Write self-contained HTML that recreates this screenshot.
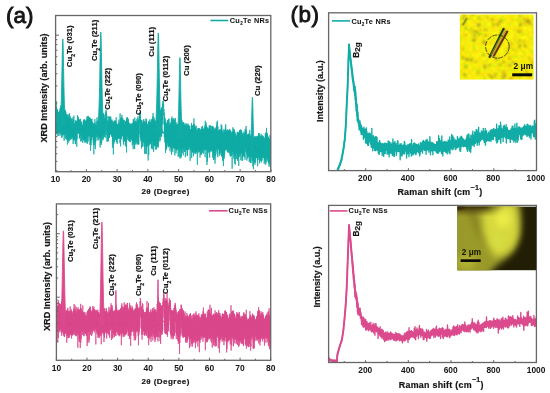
<!DOCTYPE html>
<html><head><meta charset="utf-8"><style>
html,body{margin:0;padding:0;background:#fff;}
svg{display:block;}
</style></head><body>
<svg width="550" height="393" viewBox="0 0 550 393" font-family="'Liberation Sans', Arial, sans-serif">
<defs>
<clipPath id="cTL"><rect x="55.6" y="15.5" width="215.3" height="155.9"/></clipPath>
<clipPath id="cBL"><rect x="56.4" y="203.9" width="214.3" height="156.4"/></clipPath>
<clipPath id="cTR"><rect x="328.6" y="12.8" width="207.9" height="157.5"/></clipPath>
<clipPath id="cBR"><rect x="328.6" y="205.4" width="207.8" height="157"/></clipPath>
</defs>
<rect width="550" height="393" fill="#fff"/>
<text x="6" y="23" font-size="22.5" font-weight="normal" text-anchor="start" fill="#161616" stroke="#161616" stroke-width="0.9">(a)</text>
<text x="290.4" y="21.9" font-size="22.5" font-weight="normal" text-anchor="start" fill="#161616" stroke="#161616" stroke-width="0.9" letter-spacing="0.6">(b)</text>
<polyline points="55.6,108.31 55.75,134.41 55.9,107.47 56.05,128.86 56.2,100.96 56.35,128.26 56.5,107.01 56.65,134.05 56.8,109.91 56.95,132.83 57.1,108.92 57.25,131.73 57.4,109.34 57.55,131.56 57.7,111.7 57.85,135.43 58,111.66 58.15,135.97 58.3,111.92 58.45,131.66 58.6,113.91 58.75,131.39 58.9,113.46 59.05,131.51 59.2,113.81 59.35,130.92 59.5,110.47 59.65,133.35 59.8,114.12 59.95,135.85 60.1,107.94 60.25,129.46 60.4,112.1 60.55,134.42 60.7,105.56 60.85,130.28 61,107.11 61.15,133.59 61.3,109.23 61.45,131.54 61.6,107.95 61.75,138 61.9,111.4 62.05,133.84 62.2,112.99 62.35,136.55 62.5,113.07 62.65,134.56 62.8,110.57 62.95,135.02 63.1,113.89 63.25,133.08 63.4,110.57 63.55,133.72 63.7,112.25 63.85,135.13 64,111.85 64.15,140.86 64.3,110.8 64.45,134.27 64.6,110.41 64.75,133.77 64.9,109.52 65.05,134.08 65.2,110.97 65.35,138.48 65.5,110.94 65.65,136.35 65.8,111.85 65.95,138.7 66.1,113.93 66.25,132.9 66.4,114.93 66.55,133.19 66.7,114.54 66.85,140.19 67,114.77 67.15,138.51 67.3,117.06 67.45,144.58 67.6,117.34 67.75,136.14 67.9,114.63 68.05,139.78 68.2,117.15 68.35,138.29 68.5,117.14 68.65,142.56 68.8,116.57 68.95,136.36 69.1,114.09 69.25,140.96 69.4,113.27 69.55,138.07 69.7,117.62 69.85,136.77 70,115.76 70.15,139.82 70.3,120.72 70.45,137.61 70.6,117.79 70.75,139.65 70.9,121.98 71.05,136.49 71.2,120.27 71.35,135.2 71.5,118.58 71.65,138.63 71.8,123.93 71.95,139.11 72.1,118.71 72.25,137.36 72.4,123.27 72.55,136.42 72.7,121.06 72.85,137.04 73,117.39 73.15,144.06 73.3,119.57 73.45,139.48 73.6,122.14 73.75,140.24 73.9,115.65 74.05,138.41 74.2,123.15 74.35,140.26 74.5,123.6 74.65,138.71 74.8,125.11 74.95,137.92 75.1,123.57 75.25,143.57 75.4,120.26 75.55,144.22 75.7,122.38 75.85,140.4 76,122.88 76.15,135.61 76.3,120.63 76.45,139.16 76.6,122.11 76.75,146.83 76.9,121.1 77.05,139.2 77.2,120.89 77.35,133.61 77.5,115.16 77.65,131.84 77.8,120.78 77.95,133.06 78.1,119.42 78.25,131.57 78.4,116.75 78.55,133.08 78.7,119.63 78.85,133.91 79,119.18 79.15,133.82 79.3,119.71 79.45,138.6 79.6,120.16 79.75,137.13 79.9,120.92 80.05,134.84 80.2,120.97 80.35,134.85 80.5,118.79 80.65,141.4 80.8,123.68 80.95,135.65 81.1,124.58 81.25,133.87 81.4,121.63 81.55,141.3 81.7,123.21 81.85,132.61 82,124.92 82.15,139.26 82.3,125.99 82.45,134.57 82.6,124.96 82.75,142.91 82.9,124.91 83.05,137.46 83.2,121.25 83.35,140.44 83.5,119.62 83.65,139.43 83.8,123.47 83.95,138.72 84.1,121.45 84.25,138.97 84.4,119.27 84.55,140.62 84.7,120.9 84.85,142.48 85,119.91 85.15,142.61 85.3,121.67 85.45,139.84 85.6,122.13 85.75,141.22 85.9,120.81 86.05,141.29 86.2,121.93 86.35,138.66 86.5,119.54 86.65,136.46 86.8,119.47 86.95,142.78 87.1,115.94 87.25,144.01 87.4,117.34 87.55,133.36 87.7,118.5 87.85,136.91 88,118.57 88.15,141.62 88.3,115.92 88.45,136.34 88.6,117.62 88.75,132.57 88.9,117.09 89.05,134.06 89.2,118.73 89.35,136.47 89.5,117.7 89.65,135.15 89.8,119.13 89.95,144.97 90.1,117.85 90.25,139.15 90.4,118.64 90.55,150.81 90.7,119.05 90.85,141.22 91,119.74 91.15,145.08 91.3,120.74 91.45,133.34 91.6,119.56 91.75,140.12 91.9,118.73 92.05,134.25 92.2,121.86 92.35,137.03 92.5,122.07 92.65,137.31 92.8,122.61 92.95,136.78 93.1,124.57 93.25,142.77 93.4,124.99 93.55,144.79 93.7,123.32 93.85,154.3 94,124.77 94.15,141.43 94.3,123.96 94.45,145.25 94.6,123.03 94.75,139.23 94.9,119.14 95.05,140.72 95.2,124.62 95.35,149.08 95.5,124.65 95.65,142.49 95.8,125.76 95.95,136.35 96.1,122.07 96.25,135.55 96.4,126.03 96.55,136.4 96.7,125.39 96.85,137.55 97,117.39 97.15,140.51 97.3,120.63 97.45,131.83 97.6,121.95 97.75,134.92 97.9,122.92 98.05,133.46 98.2,121.76 98.35,137.18 98.5,121.13 98.65,140.25 98.8,121.33 98.95,134.4 99.1,122.23 99.25,137.95 99.4,122.08 99.55,138.35 99.7,121.6 99.85,135.67 100,120.49 100.15,147.5 100.3,117.19 100.45,138.29 100.6,116.54 100.75,144.7 100.9,115.06 101.05,144.88 101.2,117.95 101.35,135.76 101.5,115.2 101.65,142.91 101.8,119.74 101.95,134.92 102.1,117.58 102.25,137.86 102.4,119.64 102.55,138 102.7,120.03 102.85,140.29 103,117.33 103.15,139.15 103.3,113.19 103.45,134.92 103.6,113.85 103.75,134.26 103.9,117.63 104.05,136.89 104.2,114.66 104.35,134.56 104.5,118.96 104.65,136.67 104.8,119.88 104.95,134.34 105.1,119.66 105.25,137.85 105.4,116.9 105.55,129.84 105.7,112.38 105.85,120.37 106,110 106.15,114.82 106.3,111.28 106.45,122.56 106.6,113.46 106.75,134.99 106.9,115.79 107.05,141.88 107.2,121.07 107.35,140.43 107.5,122.77 107.65,137.07 107.8,120.2 107.95,141.04 108.1,123.76 108.25,138.7 108.4,116.34 108.55,141.46 108.7,122.46 108.85,136.26 109,122.86 109.15,137.59 109.3,121.23 109.45,137.98 109.6,117.07 109.75,135.21 109.9,116.28 110.05,134.61 110.2,117.48 110.35,133.64 110.5,118.29 110.65,133.77 110.8,116.7 110.95,134.2 111.1,119.81 111.25,135.33 111.4,120.57 111.55,135.02 111.7,121.09 111.85,136.64 112,119.54 112.15,137.14 112.3,121.69 112.45,147.64 112.6,120.99 112.75,140.76 112.9,122.62 113.05,141.18 113.2,123.32 113.35,154.55 113.5,123.95 113.65,140.09 113.8,121.74 113.95,143.85 114.1,121.88 114.25,138.71 114.4,121 114.55,142.07 114.7,121.53 114.85,136.18 115,120.02 115.15,136.92 115.3,121.58 115.45,139.97 115.6,121.35 115.75,139.25 115.9,123.82 116.05,139.13 116.2,117.25 116.35,141.71 116.5,123.09 116.65,142.24 116.8,126.38 116.95,138.86 117.1,126.72 117.25,143.96 117.4,125.26 117.55,137.98 117.7,124.02 117.85,138.52 118,124.81 118.15,138.88 118.3,123.02 118.45,137.53 118.6,123.94 118.75,138.72 118.9,119.65 119.05,137.79 119.2,124.2 119.35,138.21 119.5,123.09 119.65,137.29 119.8,122.2 119.95,143.2 120.1,113.37 120.25,137.43 120.4,119.13 120.55,146.33 120.7,118.25 120.85,135.55 121,118.47 121.15,137.78 121.3,117.01 121.45,139.25 121.6,117.07 121.75,135.82 121.9,114.72 122.05,134 122.2,118.5 122.35,136.1 122.5,119.25 122.65,135.53 122.8,118.46 122.95,136.33 123.1,120.29 123.25,141.41 123.4,121.76 123.55,144.65 123.7,119.77 123.85,137.99 124,123.97 124.15,140.25 124.3,120.32 124.45,139.56 124.6,124.82 124.75,141.26 124.9,124.94 125.05,141.96 125.2,121.98 125.35,146.4 125.5,123.81 125.65,139.29 125.8,121.15 125.95,144.88 126.1,120.9 126.25,138.31 126.4,120.35 126.55,152.48 126.7,117.68 126.85,139.68 127,118.47 127.15,134.88 127.3,117.06 127.45,134.85 127.6,119.33 127.75,139.63 127.9,118.32 128.05,135.77 128.2,119.28 128.35,136.41 128.5,121.13 128.65,140.71 128.8,123.36 128.95,139.91 129.1,124.52 129.25,140.52 129.4,122.83 129.55,141.79 129.7,125.97 129.85,138.12 130,126.69 130.15,136.42 130.3,126.48 130.45,142.12 130.6,123.57 130.75,137.8 130.9,123.86 131.05,136.98 131.2,125.11 131.35,139.34 131.5,124.84 131.65,139.67 131.8,124.37 131.95,140.21 132.1,123.5 132.25,145.14 132.4,123.7 132.55,140.98 132.7,123.13 132.85,141.61 133,122.66 133.15,149.21 133.3,119.03 133.45,142.2 133.6,119.6 133.75,143.36 133.9,121.34 134.05,139.89 134.2,121.5 134.35,147.76 134.5,122.31 134.65,149.1 134.8,117.53 134.95,141.07 135.1,123.14 135.25,140.7 135.4,121.49 135.55,144.44 135.7,120.87 135.85,140.83 136,121.86 136.15,139.14 136.3,121.9 136.45,138.99 136.6,123.77 136.75,143.26 136.9,118.94 137.05,144.51 137.2,122.73 137.35,139.01 137.5,122.56 137.65,143.63 137.8,116.52 137.95,140.33 138.1,121.54 138.25,144.84 138.4,120.93 138.55,143.32 138.7,119.82 138.85,144.26 139,118.79 139.15,134.19 139.3,115.36 139.45,123.99 139.6,112.9 139.75,112 139.9,111.93 140.05,119.52 140.2,113.37 140.35,137.23 140.5,116.28 140.65,138.59 140.8,119.5 140.95,141.53 141.1,120.12 141.25,139.93 141.4,122.16 141.55,148.48 141.7,120.07 141.85,141.24 142,121.69 142.15,141.22 142.3,123.44 142.45,146.86 142.6,123.83 142.75,141.13 142.9,123.6 143.05,146.29 143.2,120.31 143.35,141.76 143.5,123.62 143.65,141.77 143.8,119.09 143.95,142.43 144.1,121.28 144.25,143.06 144.4,123.6 144.55,153.67 144.7,120.99 144.85,142.47 145,123.47 145.15,145.81 145.3,123.29 145.45,143.62 145.6,122.31 145.75,154.02 145.9,118.5 146.05,148.19 146.2,122.31 146.35,153.79 146.5,119.01 146.65,146.05 146.8,123.28 146.95,146.45 147.1,124.31 147.25,145.79 147.4,124.53 147.55,145.67 147.7,125.86 147.85,145.67 148,123.7 148.15,160.48 148.3,125.12 148.45,146.77 148.6,121.37 148.75,155.09 148.9,122.54 149.05,143.6 149.2,121.77 149.35,143.38 149.5,122.57 149.65,145.12 149.8,119.47 149.95,141.32 150.1,121.7 150.25,143.78 150.4,122.91 150.55,142.83 150.7,124.91 150.85,142 151,122.23 151.15,144.2 151.3,119.32 151.45,147.96 151.6,122.03 151.75,148.72 151.9,120.22 152.05,140.55 152.2,118.85 152.35,149.33 152.5,119.31 152.65,139.57 152.8,116.3 152.95,139.41 153.1,112.99 153.25,143.07 153.4,119.45 153.55,151.98 153.7,118.69 153.85,146.19 154,117.43 154.15,143.7 154.3,120.07 154.45,145.49 154.6,119.55 154.75,145.99 154.9,120.45 155.05,140.89 155.2,121.17 155.35,149.59 155.5,122.26 155.65,146.17 155.8,123.47 155.95,142.49 156.1,124.44 156.25,141.01 156.4,126.23 156.55,149.38 156.7,126.63 156.85,144.46 157,128.81 157.15,143.89 157.3,127.37 157.45,147.3 157.6,122.2 157.75,141.74 157.9,122.9 158.05,143.23 158.2,120.79 158.35,147.43 158.5,118.94 158.65,139.87 158.8,118.12 158.95,136.77 159.1,115.82 159.25,136.97 159.4,115.34 159.55,133.24 159.7,116.36 159.85,141.68 160,115.38 160.15,140.05 160.3,116.28 160.45,131.38 160.6,109.57 160.75,130.31 160.9,113.63 161.05,135.89 161.2,113.68 161.35,136.69 161.5,107.28 161.65,136.39 161.8,110.03 161.95,131.09 162.1,108.39 162.25,124.52 162.4,108 162.55,119.9 162.7,103.69 162.85,110.22 163,100.75 163.15,107.7 163.3,101 163.45,107.97 163.6,104.19 163.75,115.37 163.9,108.94 164.05,124.43 164.2,112.84 164.35,137.56 164.5,116.39 164.65,136.99 164.8,119.68 164.95,142.56 165.1,118.06 165.25,141.44 165.4,121.13 165.55,152.89 165.7,122.99 165.85,149.83 166,125.18 166.15,149.53 166.3,123.32 166.45,148.42 166.6,124.31 166.75,147.44 166.9,123.14 167.05,145.71 167.2,121.42 167.35,142.22 167.5,120.14 167.65,142.72 167.8,121.93 167.95,143.31 168.1,121.48 168.25,147.27 168.4,119.25 168.55,143.97 168.7,123.29 168.85,146.97 169,118.55 169.15,146.25 169.3,125.23 169.45,145.46 169.6,125.14 169.75,145.64 169.9,125.11 170.05,151.44 170.2,122.21 170.35,146.09 170.5,125.1 170.65,147.92 170.8,123.32 170.95,144.48 171.1,124.61 171.25,148.62 171.4,118.19 171.55,154.87 171.7,118.89 171.85,145.25 172,116.56 172.15,150.05 172.3,122 172.45,142.76 172.6,119.13 172.75,152.11 172.9,123.8 173.05,145.85 173.2,121.53 173.35,147.23 173.5,118.39 173.65,147.9 173.8,120.17 173.95,148.66 174.1,122.21 174.25,147.64 174.4,120 174.55,146.57 174.7,121.78 174.85,155.47 175,118.65 175.15,148.13 175.3,118.12 175.45,148.56 175.6,122.36 175.75,148.62 175.9,125.62 176.05,153.26 176.2,122.55 176.35,150.46 176.5,126.82 176.65,149.76 176.8,124.62 176.95,149.99 177.1,123.91 177.25,149.12 177.4,125.32 177.55,149.07 177.7,124.91 177.85,148.7 178,123.9 178.15,156.62 178.3,126.76 178.45,147.23 178.6,128.64 178.75,147.61 178.9,127.5 179.05,156.57 179.2,124.36 179.35,151.05 179.5,126.54 179.65,145.96 179.8,125.28 179.95,158.49 180.1,117.62 180.25,150.35 180.4,122.98 180.55,144.84 180.7,119.84 180.85,158.08 181,121.13 181.15,148.78 181.3,120.03 181.45,156.6 181.6,119.04 181.75,147.47 181.9,120.59 182.05,148.78 182.2,122.29 182.35,152.88 182.5,122.82 182.65,146.96 182.8,126.96 182.95,147 183.1,126.19 183.25,155.24 183.4,122.76 183.55,148.75 183.7,121.99 183.85,150.38 184,124.01 184.15,148.85 184.3,124.74 184.45,151.98 184.6,125.07 184.75,148.89 184.9,125.64 185.05,145.02 185.2,123.36 185.35,157.14 185.5,125 185.65,147.33 185.8,125.89 185.95,150.75 186.1,125.79 186.25,149.04 186.4,123.48 186.55,149.53 186.7,125.99 186.85,148.69 187,125.7 187.15,155.46 187.3,126.23 187.45,156.04 187.6,124.44 187.75,149.96 187.9,123.65 188.05,149.91 188.2,124.72 188.35,147.47 188.5,125.02 188.65,149.94 188.8,125.67 188.95,146.43 189.1,125.88 189.25,145.75 189.4,125.84 189.55,147.1 189.7,128.94 189.85,148.67 190,130.4 190.15,160.82 190.3,130.14 190.45,149.56 190.6,129.43 190.75,149.09 190.9,129.1 191.05,150.63 191.2,125.57 191.35,150.29 191.5,122.92 191.65,158.08 191.8,126.59 191.95,149.2 192.1,125.81 192.25,152.5 192.4,128.66 192.55,152.26 192.7,125.12 192.85,151.85 193,128.15 193.15,149.5 193.3,128.15 193.45,156.27 193.6,123.84 193.75,154.54 193.9,118.39 194.05,149.73 194.2,124.75 194.35,150.01 194.5,124.6 194.65,151.28 194.8,125.34 194.95,153.32 195.1,126.41 195.25,152.38 195.4,127.58 195.55,153.86 195.7,129.24 195.85,149.97 196,130.36 196.15,152.11 196.3,125.83 196.45,151.72 196.6,130.87 196.75,150.24 196.9,130.72 197.05,153.75 197.2,131.34 197.35,164.75 197.5,130.19 197.65,150.89 197.8,129.65 197.95,148.55 198.1,127.98 198.25,149.86 198.4,128.19 198.55,152.59 198.7,128.38 198.85,150.15 199,128.05 199.15,148.97 199.3,128.54 199.45,151.53 199.6,129.42 199.75,151.53 199.9,128.74 200.05,157.43 200.2,130.2 200.35,151.19 200.5,132.42 200.65,154.58 200.8,132.65 200.95,152.98 201.1,129.3 201.25,152.07 201.4,128.68 201.55,154.65 201.7,126.59 201.85,148.75 202,129.69 202.15,148.13 202.3,129.03 202.45,153.07 202.6,125.87 202.75,149.78 202.9,129.24 203.05,151.34 203.2,129.77 203.35,148.22 203.5,128.67 203.65,153.8 203.8,129.22 203.95,148.25 204.1,128.94 204.25,148.89 204.4,128.94 204.55,150.65 204.7,127.51 204.85,148.1 205,125.25 205.15,157.21 205.3,120.76 205.45,149.76 205.6,124.83 205.75,147.3 205.9,125.16 206.05,149.49 206.2,122.58 206.35,149.77 206.5,126.38 206.65,149.7 206.8,127.23 206.95,165.01 207.1,127.05 207.25,161.81 207.4,128.02 207.55,158.66 207.7,129.85 207.85,153.47 208,129.04 208.15,152.68 208.3,129.82 208.45,148.17 208.6,129.08 208.75,151.87 208.9,128.11 209.05,148.44 209.2,125.72 209.35,150.92 209.5,125.41 209.65,157.59 209.8,128.81 209.95,149.63 210.1,127.22 210.25,151.89 210.4,125.33 210.55,149.55 210.7,126.6 210.85,149.65 211,129.89 211.15,151.3 211.3,130.15 211.45,150.68 211.6,130.01 211.75,149.13 211.9,126.37 212.05,151.41 212.2,125.76 212.35,148.72 212.5,127.16 212.65,157.71 212.8,126.78 212.95,147.2 213.1,126.5 213.25,152.63 213.4,127.85 213.55,159.96 213.7,128.87 213.85,155.31 214,129.32 214.15,153.51 214.3,130.97 214.45,154.47 214.6,131.7 214.75,159.47 214.9,128.73 215.05,163.64 215.2,127.6 215.35,150.01 215.5,130.87 215.65,156.2 215.8,129.14 215.95,149.17 216.1,128.48 216.25,151.24 216.4,127.01 216.55,149.2 216.7,125.37 216.85,147.58 217,122.35 217.15,154.09 217.3,120.71 217.45,147.67 217.6,130.2 217.75,157.25 217.9,126.4 218.05,147.99 218.2,132.41 218.35,149.61 218.5,130.57 218.65,148.44 218.8,133.46 218.95,149.43 219.1,130.77 219.25,155.81 219.4,129.17 219.55,153.64 219.7,132.15 219.85,152.21 220,131.71 220.15,154.77 220.3,130.58 220.45,152.14 220.6,129.83 220.75,152.82 220.9,129.24 221.05,152.4 221.2,124.29 221.35,149.88 221.5,128.62 221.65,156.22 221.8,125.61 221.95,156.95 222.1,130.7 222.25,155.17 222.4,131.89 222.55,160.87 222.7,133.72 222.85,159.99 223,134.5 223.15,156.14 223.3,129.44 223.45,166.1 223.6,133.54 223.75,153.21 223.9,133.97 224.05,154.33 224.2,132.53 224.35,158.59 224.5,131.78 224.65,154.47 224.8,129.49 224.95,149.46 225.1,130.19 225.25,148.35 225.4,127.16 225.55,149.43 225.7,124.23 225.85,150.85 226,129.86 226.15,149.86 226.3,131.28 226.45,149.01 226.6,131.89 226.75,148.04 226.9,131.83 227.05,148.54 227.2,129.42 227.35,151.9 227.5,130.46 227.65,152.45 227.8,129.86 227.95,150.46 228.1,131.93 228.25,151.95 228.4,130.51 228.55,150.04 228.7,130.61 228.85,152.74 229,130.91 229.15,152.98 229.3,130.32 229.45,150.4 229.6,129.04 229.75,150.18 229.9,129.18 230.05,155.42 230.2,131.2 230.35,156.49 230.5,131.17 230.65,154.68 230.8,133.51 230.95,156.15 231.1,131.25 231.25,156 231.4,133.92 231.55,152.72 231.7,132.96 231.85,155.3 232,133.96 232.15,168.77 232.3,132.07 232.45,151.55 232.6,132.22 232.75,150.5 232.9,127.26 233.05,151.86 233.2,130.66 233.35,154.55 233.5,131.01 233.65,154.51 233.8,128.83 233.95,159.26 234.1,129.52 234.25,157 234.4,130.62 234.55,155.24 234.7,131.83 234.85,163.48 235,132.19 235.15,164.63 235.3,134.2 235.45,157.48 235.6,137.36 235.75,153.9 235.9,138.32 236.05,152.83 236.2,138.18 236.35,152.8 236.5,135.41 236.65,159.13 236.8,136.24 236.95,152.9 237.1,133.05 237.25,151.67 237.4,131.75 237.55,160.98 237.7,135.5 237.85,155.47 238,132.91 238.15,158.49 238.3,132.9 238.45,157.98 238.6,133.24 238.75,166 238.9,132.04 239.05,156.48 239.2,131.51 239.35,152.27 239.5,130.05 239.65,154.25 239.8,131.3 239.95,156.83 240.1,130.47 240.25,154.31 240.4,130.13 240.55,149.5 240.7,129.35 240.85,160.28 241,130.1 241.15,152.81 241.3,132.39 241.45,153.09 241.6,130.37 241.75,151.11 241.9,135.9 242.05,160.64 242.2,133.83 242.35,153.99 242.5,135.59 242.65,160.66 242.8,132.64 242.95,156.8 243.1,134.47 243.25,155.98 243.4,135.74 243.55,153.77 243.7,134.5 243.85,155.82 244,131.38 244.15,152.33 244.3,133.03 244.45,157.19 244.6,133.12 244.75,149.78 244.9,133.07 245.05,159.68 245.2,128.68 245.35,148.96 245.5,132.65 245.65,148.64 245.8,130.33 245.95,148.65 246.1,125.99 246.25,151.63 246.4,130.58 246.55,153.71 246.7,133.64 246.85,160.59 247,134.02 247.15,150.76 247.3,136.33 247.45,155.66 247.6,134.95 247.75,158.21 247.9,137.72 248.05,157.28 248.2,134.99 248.35,153.9 248.5,133.66 248.65,156.34 248.8,135.39 248.95,155.31 249.1,133.81 249.25,162.02 249.4,135.02 249.55,156.77 249.7,129.93 249.85,154.23 250,134.29 250.15,161.33 250.3,136.8 250.45,162.95 250.6,136.27 250.75,157.17 250.9,136.68 251.05,163.06 251.2,139.47 251.35,156.08 251.5,138.79 251.65,155.92 251.8,134.61 251.95,157.91 252.1,136.13 252.25,160.81 252.4,137.2 252.55,159.67 252.7,138.84 252.85,166.43 253,140.77 253.15,159.11 253.3,140.73 253.45,169.14 253.6,137.22 253.75,162.91 253.9,141.19 254.05,158.86 254.2,140.49 254.35,162.28 254.5,138.32 254.65,158.35 254.8,136.24 254.95,164.74 255.1,137.73 255.25,156.56 255.4,136.87 255.55,162.57 255.7,136.49 255.85,155.76 256,137.88 256.15,157.51 256.3,135.92 256.45,157.96 256.6,138.47 256.75,157.78 256.9,138.91 257.05,158.17 257.2,137.59 257.35,160.44 257.5,135.83 257.65,166.25 257.8,136.65 257.95,159.81 258.1,136.91 258.25,157.08 258.4,136.64 258.55,157.45 258.7,133.19 258.85,155.7 259,133.01 259.15,159.49 259.3,136.25 259.45,163.35 259.6,133.88 259.75,157.05 259.9,136.48 260.05,156.77 260.2,137.31 260.35,160.71 260.5,136.73 260.65,160.66 260.8,136.46 260.95,157.69 261.1,133.83 261.25,162.5 261.4,136.29 261.55,157.53 261.7,135.35 261.85,161.16 262,137.15 262.15,159.46 262.3,137.38 262.45,156.43 262.6,135.35 262.75,155.46 262.9,136.87 263.05,156.49 263.2,138.48 263.35,157.77 263.5,136.25 263.65,157.6 263.8,139.83 263.95,158.15 264.1,139.03 264.25,163.95 264.4,138.17 264.55,159.61 264.7,138.73 264.85,161.69 265,137.47 265.15,157.27 265.3,133.33 265.45,155.66 265.6,135.05 265.75,164.81 265.9,133.44 266.05,162.61 266.2,131.98 266.35,158.16 266.5,127.88 266.65,159.81 266.8,135.44 266.95,154.66 267.1,133.2 267.25,155.1 267.4,133.39 267.55,159.12 267.7,136.27 267.85,161.47 268,139.86 268.15,158.88 268.3,137.56 268.45,162.5 268.6,136.79 268.75,161.56 268.9,138.92 269.05,166.86 269.2,139.36 269.35,164.56 269.5,139.5 269.65,161.81 269.8,138.86 269.95,163.23 270.1,134.78 270.25,161.92 270.4,136.51 270.55,169.51 270.7,136.92 270.85,165.24" fill="none" stroke="#12aca6" stroke-width="0.75" stroke-linejoin="round" clip-path="url(#cTL)" />
<polygon points="55.8,126.86 55.88,126.84 55.96,126.83 56.04,126.81 56.12,126.8 56.2,126.78 56.28,126.77 56.36,126.75 56.44,126.73 56.52,126.71 56.6,126.69 56.68,126.67 56.76,126.64 56.84,126.62 56.92,126.59 57,126.56 57.08,126.53 57.16,126.5 57.24,126.47 57.32,126.43 57.4,126.39 57.48,126.35 57.56,126.31 57.64,126.27 57.72,126.22 57.8,126.17 57.88,126.11 57.96,126.05 58.04,125.99 58.12,125.92 58.2,125.85 58.28,125.77 58.36,125.68 58.44,125.59 58.52,125.5 58.6,125.39 58.68,125.28 58.76,125.16 58.84,125.03 58.92,124.88 59,124.73 59.08,124.56 59.16,124.38 59.24,124.18 59.32,123.96 59.4,123.73 59.48,123.47 59.56,123.19 59.64,122.88 59.72,122.54 59.8,122.17 59.88,121.76 59.96,121.31 60.04,120.81 60.12,120.27 60.2,119.66 60.28,118.99 60.36,118.26 60.44,117.44 60.52,116.53 60.6,115.53 60.68,114.41 60.76,113.18 60.84,111.81 60.92,110.29 61,108.61 61.08,106.75 61.16,104.7 61.24,102.45 61.32,99.97 61.4,97.26 61.48,94.31 61.56,91.11 61.64,87.67 61.72,83.99 61.8,80.08 61.88,75.98 61.96,71.73 62.04,67.37 62.12,62.98 62.2,58.63 62.28,54.44 62.36,50.51 62.44,46.96 62.52,43.93 62.6,41.53 62.68,39.86 62.76,39.01 62.84,39.01 62.92,39.86 63,41.53 63.08,43.93 63.16,46.96 63.24,50.51 63.32,54.44 63.4,58.63 63.48,62.98 63.56,67.37 63.64,71.73 63.72,75.98 63.8,80.08 63.88,83.99 63.96,87.67 64.04,91.11 64.12,94.31 64.2,97.26 64.28,99.97 64.36,102.45 64.44,104.7 64.52,106.75 64.6,108.61 64.68,110.29 64.76,111.81 64.84,113.18 64.92,114.41 65,115.53 65.08,116.53 65.16,117.44 65.24,118.26 65.32,118.99 65.4,119.66 65.48,120.27 65.56,120.81 65.64,121.31 65.72,121.76 65.8,122.17 65.88,122.54 65.96,122.88 66.04,123.19 66.12,123.47 66.2,123.73 66.28,123.96 66.36,124.18 66.44,124.38 66.52,124.56 66.6,124.73 66.68,124.88 66.76,125.03 66.84,125.16 66.92,125.28 67,125.39 67.08,125.5 67.16,125.59 67.24,125.68 67.32,125.77 67.4,125.85 67.48,125.92 67.56,125.99 67.64,126.05 67.72,126.11 67.8,126.17 67.88,126.22 67.96,126.27 68.04,126.31 68.12,126.35 68.2,126.39 68.28,126.43 68.36,126.47 68.44,126.5 68.52,126.53 68.6,126.56 68.68,126.59 68.76,126.62 68.84,126.64 68.92,126.67 69,126.69 69.08,126.71 69.16,126.73 69.24,126.75 69.32,126.77 69.4,126.78 69.48,126.8 69.56,126.81 69.64,126.83 69.72,126.84 69.8,126.86" fill="#12aca6" stroke="#12aca6" stroke-width="0.9" stroke-linejoin="round" clip-path="url(#cTL)"/>
<polygon points="93.8,129.85 93.88,129.83 93.96,129.81 94.04,129.79 94.12,129.77 94.2,129.75 94.28,129.73 94.36,129.71 94.44,129.68 94.52,129.65 94.6,129.63 94.68,129.6 94.76,129.57 94.84,129.53 94.92,129.5 95,129.46 95.08,129.43 95.16,129.38 95.24,129.34 95.32,129.3 95.4,129.25 95.48,129.19 95.56,129.14 95.64,129.08 95.72,129.02 95.8,128.95 95.88,128.88 95.96,128.8 96.04,128.72 96.12,128.63 96.2,128.54 96.28,128.44 96.36,128.33 96.44,128.21 96.52,128.09 96.6,127.95 96.68,127.81 96.76,127.65 96.84,127.48 96.92,127.3 97,127.1 97.08,126.88 97.16,126.65 97.24,126.4 97.32,126.12 97.4,125.82 97.48,125.49 97.56,125.13 97.64,124.74 97.72,124.31 97.8,123.84 97.88,123.33 97.96,122.76 98.04,122.14 98.12,121.46 98.2,120.7 98.28,119.88 98.36,118.96 98.44,117.96 98.52,116.85 98.6,115.62 98.68,114.27 98.76,112.78 98.84,111.14 98.92,109.34 99,107.35 99.08,105.17 99.16,102.79 99.24,100.18 99.32,97.34 99.4,94.27 99.48,90.94 99.56,87.38 99.64,83.57 99.72,79.53 99.8,75.29 99.88,70.86 99.96,66.31 100.04,61.67 100.12,57.03 100.2,52.47 100.28,48.08 100.36,43.99 100.44,40.32 100.52,37.18 100.6,34.7 100.68,32.99 100.76,32.11 100.84,32.11 100.92,32.99 101,34.7 101.08,37.18 101.16,40.32 101.24,43.99 101.32,48.08 101.4,52.47 101.48,57.03 101.56,61.67 101.64,66.31 101.72,70.86 101.8,75.29 101.88,79.53 101.96,83.57 102.04,87.38 102.12,90.94 102.2,94.27 102.28,97.34 102.36,100.18 102.44,102.79 102.52,105.17 102.6,107.35 102.68,109.34 102.76,111.14 102.84,112.78 102.92,114.27 103,115.62 103.08,116.85 103.16,117.96 103.24,118.96 103.32,119.88 103.4,120.7 103.48,121.46 103.56,122.14 103.64,122.76 103.72,123.33 103.8,123.84 103.88,124.31 103.96,124.74 104.04,125.13 104.12,125.49 104.2,125.82 104.28,126.12 104.36,126.4 104.44,126.65 104.52,126.88 104.6,127.1 104.68,127.3 104.76,127.48 104.84,127.65 104.92,127.81 105,127.95 105.08,128.09 105.16,128.21 105.24,128.33 105.32,128.44 105.4,128.54 105.48,128.63 105.56,128.72 105.64,128.8 105.72,128.88 105.8,128.95 105.88,129.02 105.96,129.08 106.04,129.14 106.12,129.19 106.2,129.25 106.28,129.3 106.36,129.34 106.44,129.38 106.52,129.43 106.6,129.46 106.68,129.5 106.76,129.53 106.84,129.57 106.92,129.6 107,129.63 107.08,129.65 107.16,129.68 107.24,129.71 107.32,129.73 107.4,129.75 107.48,129.77 107.56,129.79 107.64,129.81 107.72,129.83 107.8,129.85" fill="#12aca6" stroke="#12aca6" stroke-width="0.9" stroke-linejoin="round" clip-path="url(#cTL)"/>
<polygon points="151.3,132.98 151.38,132.96 151.46,132.94 151.54,132.92 151.62,132.9 151.7,132.88 151.78,132.86 151.86,132.83 151.94,132.81 152.02,132.78 152.1,132.75 152.18,132.72 152.26,132.69 152.34,132.65 152.42,132.61 152.5,132.58 152.58,132.54 152.66,132.49 152.74,132.45 152.82,132.4 152.9,132.35 152.98,132.29 153.06,132.23 153.14,132.17 153.22,132.1 153.3,132.03 153.38,131.96 153.46,131.88 153.54,131.79 153.62,131.7 153.7,131.6 153.78,131.49 153.86,131.38 153.94,131.25 154.02,131.12 154.1,130.98 154.18,130.83 154.26,130.66 154.34,130.48 154.42,130.29 154.5,130.08 154.58,129.85 154.66,129.61 154.74,129.34 154.82,129.05 154.9,128.73 154.98,128.39 155.06,128.01 155.14,127.6 155.22,127.15 155.3,126.65 155.38,126.11 155.46,125.52 155.54,124.87 155.62,124.16 155.7,123.37 155.78,122.5 155.86,121.55 155.94,120.5 156.02,119.34 156.1,118.07 156.18,116.66 156.26,115.12 156.34,113.42 156.42,111.55 156.5,109.49 156.58,107.24 156.66,104.78 156.74,102.1 156.82,99.19 156.9,96.04 156.98,92.64 157.06,88.99 157.14,85.11 157.22,81 157.3,76.69 157.38,72.2 157.46,67.59 157.54,62.9 157.62,58.21 157.7,53.61 157.78,49.19 157.86,45.07 157.94,41.36 158.02,38.21 158.1,35.72 158.18,33.99 158.26,33.11 158.34,33.11 158.42,33.99 158.5,35.72 158.58,38.21 158.66,41.36 158.74,45.07 158.82,49.19 158.9,53.61 158.98,58.21 159.06,62.9 159.14,67.59 159.22,72.2 159.3,76.69 159.38,81 159.46,85.11 159.54,88.99 159.62,92.64 159.7,96.04 159.78,99.19 159.86,102.1 159.94,104.78 160.02,107.24 160.1,109.49 160.18,111.55 160.26,113.42 160.34,115.12 160.42,116.66 160.5,118.07 160.58,119.34 160.66,120.5 160.74,121.55 160.82,122.5 160.9,123.37 160.98,124.16 161.06,124.87 161.14,125.52 161.22,126.11 161.3,126.65 161.38,127.15 161.46,127.6 161.54,128.01 161.62,128.39 161.7,128.73 161.78,129.05 161.86,129.34 161.94,129.61 162.02,129.85 162.1,130.08 162.18,130.29 162.26,130.48 162.34,130.66 162.42,130.83 162.5,130.98 162.58,131.12 162.66,131.25 162.74,131.38 162.82,131.49 162.9,131.6 162.98,131.7 163.06,131.79 163.14,131.88 163.22,131.96 163.3,132.03 163.38,132.1 163.46,132.17 163.54,132.23 163.62,132.29 163.7,132.35 163.78,132.4 163.86,132.45 163.94,132.49 164.02,132.54 164.1,132.58 164.18,132.61 164.26,132.65 164.34,132.69 164.42,132.72 164.5,132.75 164.58,132.78 164.66,132.81 164.74,132.83 164.82,132.86 164.9,132.88 164.98,132.9 165.06,132.92 165.14,132.94 165.22,132.96 165.3,132.98" fill="#12aca6" stroke="#12aca6" stroke-width="0.9" stroke-linejoin="round" clip-path="url(#cTL)"/>
<polygon points="172.9,137.02 172.98,137.01 173.06,137 173.14,136.99 173.22,136.98 173.3,136.97 173.38,136.96 173.46,136.94 173.54,136.93 173.62,136.92 173.7,136.9 173.78,136.89 173.86,136.87 173.94,136.85 174.02,136.84 174.1,136.82 174.18,136.8 174.26,136.78 174.34,136.75 174.42,136.73 174.5,136.7 174.58,136.67 174.66,136.64 174.74,136.61 174.82,136.58 174.9,136.54 174.98,136.51 175.06,136.46 175.14,136.42 175.22,136.37 175.3,136.32 175.38,136.27 175.46,136.21 175.54,136.15 175.62,136.08 175.7,136.01 175.78,135.93 175.86,135.84 175.94,135.75 176.02,135.65 176.1,135.54 176.18,135.42 176.26,135.29 176.34,135.15 176.42,135 176.5,134.83 176.58,134.65 176.66,134.45 176.74,134.23 176.82,133.99 176.9,133.72 176.98,133.42 177.06,133.1 177.14,132.74 177.22,132.34 177.3,131.89 177.38,131.4 177.46,130.85 177.54,130.24 177.62,129.56 177.7,128.8 177.78,127.95 177.86,126.99 177.94,125.92 178.02,124.73 178.1,123.39 178.18,121.9 178.26,120.23 178.34,118.36 178.42,116.28 178.5,113.98 178.58,111.43 178.66,108.62 178.74,105.55 178.82,102.21 178.9,98.61 178.98,94.76 179.06,90.71 179.14,86.49 179.22,82.18 179.3,77.85 179.38,73.62 179.46,69.61 179.54,65.95 179.62,62.79 179.7,60.27 179.78,58.52 179.86,57.61 179.94,57.61 180.02,58.52 180.1,60.27 180.18,62.79 180.26,65.95 180.34,69.61 180.42,73.62 180.5,77.85 180.58,82.18 180.66,86.49 180.74,90.71 180.82,94.76 180.9,98.61 180.98,102.21 181.06,105.55 181.14,108.62 181.22,111.43 181.3,113.98 181.38,116.28 181.46,118.36 181.54,120.23 181.62,121.9 181.7,123.39 181.78,124.73 181.86,125.92 181.94,126.99 182.02,127.95 182.1,128.8 182.18,129.56 182.26,130.24 182.34,130.85 182.42,131.4 182.5,131.89 182.58,132.34 182.66,132.74 182.74,133.1 182.82,133.42 182.9,133.72 182.98,133.99 183.06,134.23 183.14,134.45 183.22,134.65 183.3,134.83 183.38,135 183.46,135.15 183.54,135.29 183.62,135.42 183.7,135.54 183.78,135.65 183.86,135.75 183.94,135.84 184.02,135.93 184.1,136.01 184.18,136.08 184.26,136.15 184.34,136.21 184.42,136.27 184.5,136.32 184.58,136.37 184.66,136.42 184.74,136.46 184.82,136.51 184.9,136.54 184.98,136.58 185.06,136.61 185.14,136.64 185.22,136.67 185.3,136.7 185.38,136.73 185.46,136.75 185.54,136.78 185.62,136.8 185.7,136.82 185.78,136.84 185.86,136.85 185.94,136.87 186.02,136.89 186.1,136.9 186.18,136.92 186.26,136.93 186.34,136.94 186.42,136.96 186.5,136.97 186.58,136.98 186.66,136.99 186.74,137 186.82,137.01 186.9,137.02" fill="#12aca6" stroke="#12aca6" stroke-width="0.9" stroke-linejoin="round" clip-path="url(#cTL)"/>
<polygon points="245.4,150.84 245.48,150.84 245.56,150.83 245.64,150.83 245.72,150.82 245.8,150.82 245.88,150.81 245.96,150.81 246.04,150.8 246.12,150.79 246.2,150.79 246.28,150.78 246.36,150.77 246.44,150.77 246.52,150.76 246.6,150.75 246.68,150.74 246.76,150.73 246.84,150.72 246.92,150.71 247,150.69 247.08,150.68 247.16,150.67 247.24,150.65 247.32,150.64 247.4,150.62 247.48,150.6 247.56,150.59 247.64,150.56 247.72,150.54 247.8,150.52 247.88,150.49 247.96,150.47 248.04,150.44 248.12,150.41 248.2,150.37 248.28,150.34 248.36,150.3 248.44,150.25 248.52,150.21 248.6,150.16 248.68,150.1 248.76,150.04 248.84,149.97 248.92,149.9 249,149.82 249.08,149.74 249.16,149.64 249.24,149.54 249.32,149.42 249.4,149.29 249.48,149.15 249.56,149 249.64,148.82 249.72,148.63 249.8,148.41 249.88,148.17 249.96,147.9 250.04,147.6 250.12,147.25 250.2,146.87 250.28,146.44 250.36,145.95 250.44,145.39 250.52,144.76 250.6,144.05 250.68,143.24 250.76,142.31 250.84,141.26 250.92,140.07 251,138.72 251.08,137.19 251.16,135.47 251.24,133.53 251.32,131.37 251.4,128.97 251.48,126.33 251.56,123.47 251.64,120.41 251.72,117.19 251.8,113.88 251.88,110.56 251.96,107.35 252.04,104.37 252.12,101.76 252.2,99.65 252.28,98.16 252.36,97.4 252.44,97.4 252.52,98.16 252.6,99.65 252.68,101.76 252.76,104.37 252.84,107.35 252.92,110.56 253,113.88 253.08,117.19 253.16,120.41 253.24,123.47 253.32,126.33 253.4,128.97 253.48,131.37 253.56,133.53 253.64,135.47 253.72,137.19 253.8,138.72 253.88,140.07 253.96,141.26 254.04,142.31 254.12,143.24 254.2,144.05 254.28,144.76 254.36,145.39 254.44,145.95 254.52,146.44 254.6,146.87 254.68,147.25 254.76,147.6 254.84,147.9 254.92,148.17 255,148.41 255.08,148.63 255.16,148.82 255.24,149 255.32,149.15 255.4,149.29 255.48,149.42 255.56,149.54 255.64,149.64 255.72,149.74 255.8,149.82 255.88,149.9 255.96,149.97 256.04,150.04 256.12,150.1 256.2,150.16 256.28,150.21 256.36,150.25 256.44,150.3 256.52,150.34 256.6,150.37 256.68,150.41 256.76,150.44 256.84,150.47 256.92,150.49 257,150.52 257.08,150.54 257.16,150.56 257.24,150.59 257.32,150.6 257.4,150.62 257.48,150.64 257.56,150.65 257.64,150.67 257.72,150.68 257.8,150.69 257.88,150.71 257.96,150.72 258.04,150.73 258.12,150.74 258.2,150.75 258.28,150.76 258.36,150.77 258.44,150.77 258.52,150.78 258.6,150.79 258.68,150.79 258.76,150.8 258.84,150.81 258.92,150.81 259,150.82 259.08,150.82 259.16,150.83 259.24,150.83 259.32,150.84 259.4,150.84" fill="#12aca6" stroke="#12aca6" stroke-width="0.9" stroke-linejoin="round" clip-path="url(#cTL)"/>
<rect x="55.6" y="15.5" width="215.2" height="156.2" fill="none" stroke="#666666" stroke-width="1.3"/>
<line x1="55.6" y1="171.7" x2="55.6" y2="169.1" stroke="#666666" stroke-width="1"/>
<text x="55.6" y="181.8" font-size="8.5" font-weight="bold" text-anchor="middle" fill="#161616" >10</text>
<line x1="70.98" y1="171.7" x2="70.98" y2="170.1" stroke="#666666" stroke-width="1"/>
<line x1="86.36" y1="171.7" x2="86.36" y2="169.1" stroke="#666666" stroke-width="1"/>
<text x="86.36" y="181.8" font-size="8.5" font-weight="bold" text-anchor="middle" fill="#161616" >20</text>
<line x1="101.74" y1="171.7" x2="101.74" y2="170.1" stroke="#666666" stroke-width="1"/>
<line x1="117.11" y1="171.7" x2="117.11" y2="169.1" stroke="#666666" stroke-width="1"/>
<text x="117.11" y="181.8" font-size="8.5" font-weight="bold" text-anchor="middle" fill="#161616" >30</text>
<line x1="132.49" y1="171.7" x2="132.49" y2="170.1" stroke="#666666" stroke-width="1"/>
<line x1="147.87" y1="171.7" x2="147.87" y2="169.1" stroke="#666666" stroke-width="1"/>
<text x="147.87" y="181.8" font-size="8.5" font-weight="bold" text-anchor="middle" fill="#161616" >40</text>
<line x1="163.25" y1="171.7" x2="163.25" y2="170.1" stroke="#666666" stroke-width="1"/>
<line x1="178.63" y1="171.7" x2="178.63" y2="169.1" stroke="#666666" stroke-width="1"/>
<text x="178.63" y="181.8" font-size="8.5" font-weight="bold" text-anchor="middle" fill="#161616" >50</text>
<line x1="194.01" y1="171.7" x2="194.01" y2="170.1" stroke="#666666" stroke-width="1"/>
<line x1="209.39" y1="171.7" x2="209.39" y2="169.1" stroke="#666666" stroke-width="1"/>
<text x="209.39" y="181.8" font-size="8.5" font-weight="bold" text-anchor="middle" fill="#161616" >60</text>
<line x1="224.76" y1="171.7" x2="224.76" y2="170.1" stroke="#666666" stroke-width="1"/>
<line x1="240.14" y1="171.7" x2="240.14" y2="169.1" stroke="#666666" stroke-width="1"/>
<text x="240.14" y="181.8" font-size="8.5" font-weight="bold" text-anchor="middle" fill="#161616" >70</text>
<line x1="255.52" y1="171.7" x2="255.52" y2="170.1" stroke="#666666" stroke-width="1"/>
<line x1="270.9" y1="171.7" x2="270.9" y2="169.1" stroke="#666666" stroke-width="1"/>
<text x="270.9" y="181.8" font-size="8.5" font-weight="bold" text-anchor="middle" fill="#161616" >80</text>
<line x1="55.6" y1="35.2" x2="59" y2="35.2" stroke="#666666" stroke-width="1"/>
<line x1="55.6" y1="103" x2="57.4" y2="103" stroke="#666666" stroke-width="1"/>
<line x1="55.6" y1="85.92" x2="57.4" y2="85.92" stroke="#666666" stroke-width="1"/>
<line x1="55.6" y1="73.8" x2="57.4" y2="73.8" stroke="#666666" stroke-width="1"/>
<line x1="55.6" y1="64.4" x2="57.4" y2="64.4" stroke="#666666" stroke-width="1"/>
<line x1="55.6" y1="56.72" x2="57.4" y2="56.72" stroke="#666666" stroke-width="1"/>
<line x1="55.6" y1="50.23" x2="57.4" y2="50.23" stroke="#666666" stroke-width="1"/>
<line x1="55.6" y1="44.6" x2="57.4" y2="44.6" stroke="#666666" stroke-width="1"/>
<line x1="55.6" y1="39.64" x2="57.4" y2="39.64" stroke="#666666" stroke-width="1"/>
<line x1="55.6" y1="132.2" x2="59" y2="132.2" stroke="#666666" stroke-width="1"/>
<line x1="55.6" y1="170.8" x2="57.4" y2="170.8" stroke="#666666" stroke-width="1"/>
<line x1="55.6" y1="161.4" x2="57.4" y2="161.4" stroke="#666666" stroke-width="1"/>
<line x1="55.6" y1="153.72" x2="57.4" y2="153.72" stroke="#666666" stroke-width="1"/>
<line x1="55.6" y1="147.23" x2="57.4" y2="147.23" stroke="#666666" stroke-width="1"/>
<line x1="55.6" y1="141.6" x2="57.4" y2="141.6" stroke="#666666" stroke-width="1"/>
<line x1="55.6" y1="136.64" x2="57.4" y2="136.64" stroke="#666666" stroke-width="1"/>
<text x="165.6" y="193.8" font-size="8.0" font-weight="bold" text-anchor="middle" fill="#161616" letter-spacing="0.45" stroke="#161616" stroke-width="0.2">2θ (Degree)</text>
<text transform="translate(47.1,142.5) rotate(-90)" font-size="9.15" font-weight="bold" text-anchor="start" fill="#161616"  stroke="#161616" stroke-width="0.2">XRD Intensity (arb. units)</text>
<line x1="210.4" y1="20.5" x2="228.2" y2="20.5" stroke="#12aca6" stroke-width="1.6"/>
<text x="229.8" y="23" font-size="7.3" font-weight="bold" text-anchor="start" fill="#161616" letter-spacing="0.3" stroke="#161616" stroke-width="0.05">Cu<tspan font-size="4.6" dy="1.9">2</tspan><tspan dy="-1.9">Te NRs</tspan></text>
<text transform="translate(72.3,67.2) rotate(-90)" font-size="7.75" font-weight="bold" text-anchor="start" fill="#161616"  stroke="#161616" stroke-width="0.2">Cu<tspan font-size="5.0" dy="2.2">2</tspan><tspan dy="-2.2">Te (031)</tspan></text>
<text transform="translate(97.4,61.1) rotate(-90)" font-size="7.75" font-weight="bold" text-anchor="start" fill="#161616"  stroke="#161616" stroke-width="0.2">Cu<tspan font-size="5.0" dy="2.2">2</tspan><tspan dy="-2.2">Te (211)</tspan></text>
<text transform="translate(109.9,109.7) rotate(-90)" font-size="7.75" font-weight="bold" text-anchor="start" fill="#161616"  stroke="#161616" stroke-width="0.2">Cu<tspan font-size="5.0" dy="2.2">2</tspan><tspan dy="-2.2">Te (222)</tspan></text>
<text transform="translate(140.6,115) rotate(-90)" font-size="7.75" font-weight="bold" text-anchor="start" fill="#161616"  stroke="#161616" stroke-width="0.2">Cu<tspan font-size="5.0" dy="2.2">2</tspan><tspan dy="-2.2">Te (090)</tspan></text>
<text transform="translate(167.5,101.5) rotate(-90)" font-size="7.75" font-weight="bold" text-anchor="start" fill="#161616"  stroke="#161616" stroke-width="0.2">Cu<tspan font-size="5.0" dy="2.2">2</tspan><tspan dy="-2.2">Te (0112)</tspan></text>
<text transform="translate(154.3,56.7) rotate(-90)" font-size="7.8" font-weight="bold" text-anchor="start" fill="#161616"  stroke="#161616" stroke-width="0.2">Cu (111)</text>
<text transform="translate(188.9,76) rotate(-90)" font-size="7.8" font-weight="bold" text-anchor="start" fill="#161616"  stroke="#161616" stroke-width="0.2">Cu (200)</text>
<text transform="translate(259.8,96.1) rotate(-90)" font-size="7.8" font-weight="bold" text-anchor="start" fill="#161616"  stroke="#161616" stroke-width="0.2">Cu (220)</text>
<polyline points="56.4,305.04 56.55,332.36 56.7,306.82 56.85,328.44 57,301.84 57.15,329.02 57.3,306.24 57.45,327.64 57.6,306.72 57.75,342.37 57.9,306.52 58.05,332 58.2,307.56 58.35,338.02 58.5,300.46 58.65,327.98 58.8,305.69 58.95,328.57 59.1,305.05 59.25,331 59.4,303.12 59.55,330.02 59.7,305.03 59.85,332.43 60,304.08 60.15,329.17 60.3,303.79 60.45,330.16 60.6,305.75 60.75,328.35 60.9,305.83 61.05,328.7 61.2,307.12 61.35,332.08 61.5,301.48 61.65,335.82 61.8,307.59 61.95,332.3 62.1,307.8 62.25,332.06 62.4,310.41 62.55,329.92 62.7,310.94 62.85,328.76 63,311.78 63.15,333.5 63.3,303.74 63.45,335.58 63.6,311.84 63.75,331.24 63.9,312.16 64.05,331.7 64.2,308.86 64.35,337.09 64.5,311.95 64.65,336.31 64.8,314.2 64.95,331.29 65.1,310.56 65.25,334 65.4,311.16 65.55,333.35 65.7,312.24 65.85,331.09 66,311.78 66.15,331.44 66.3,310.22 66.45,332.63 66.6,310.88 66.75,342.82 66.9,312.1 67.05,336.19 67.2,311.79 67.35,335.16 67.5,309.28 67.65,334.56 67.8,307.8 67.95,338.28 68.1,313.72 68.25,336.47 68.4,313.46 68.55,337.73 68.7,310.76 68.85,336.31 69,311.09 69.15,338.03 69.3,314.36 69.45,334.99 69.6,310.93 69.75,331.73 69.9,314.23 70.05,333.66 70.2,306.52 70.35,335.09 70.5,312.93 70.65,332.65 70.8,311.5 70.95,332.67 71.1,309.1 71.25,335.4 71.4,310.67 71.55,338.52 71.7,311.45 71.85,335.05 72,311.1 72.15,334.8 72.3,313.39 72.45,335.56 72.6,313.93 72.75,333.57 72.9,312.66 73.05,332.1 73.2,312.76 73.35,334.23 73.5,310.73 73.65,331.92 73.8,308.61 73.95,334.55 74.1,304.17 74.25,334.86 74.4,310.08 74.55,329.38 74.7,309.44 74.85,331.81 75,305.49 75.15,330.53 75.3,310.06 75.45,330.45 75.6,309.91 75.75,336.04 75.9,311.08 76.05,335.55 76.2,306.89 76.35,336.21 76.5,313.65 76.65,334.1 76.8,313.67 76.95,333.42 77.1,312.34 77.25,334.36 77.4,308.87 77.55,333.69 77.7,309.92 77.85,347.73 78,307.33 78.15,332.72 78.3,313.04 78.45,330.76 78.6,309.07 78.75,335.61 78.9,312.58 79.05,339.7 79.2,311.46 79.35,341.96 79.5,309.74 79.65,341.9 79.8,310.6 79.95,334.86 80.1,309.43 80.25,348.12 80.4,307.61 80.55,334.38 80.7,303.86 80.85,342.69 81,307.94 81.15,338.45 81.3,309.66 81.45,330.86 81.6,309.57 81.75,330.4 81.9,312.11 82.05,330.31 82.2,311.18 82.35,334.97 82.5,311.78 82.65,330.99 82.8,305.32 82.95,332.54 83.1,312.11 83.25,330.65 83.4,312.46 83.55,333.3 83.7,313.8 83.85,336.28 84,314.47 84.15,335.58 84.3,311.87 84.45,329.12 84.6,314.82 84.75,331.47 84.9,315.79 85.05,330.13 85.2,312.64 85.35,333.79 85.5,316.56 85.65,333.71 85.8,317.29 85.95,332.42 86.1,315.27 86.25,335.51 86.4,316.6 86.55,336.09 86.7,317.01 86.85,333.05 87,311.83 87.15,346.05 87.3,314.78 87.45,331.47 87.6,310.58 87.75,342.42 87.9,311.78 88.05,330.79 88.2,310.99 88.35,331.96 88.5,308.97 88.65,331.56 88.8,309.82 88.95,342.58 89.1,309.89 89.25,339.98 89.4,308.21 89.55,331.24 89.7,308.22 89.85,332.26 90,306.44 90.15,333.05 90.3,306.94 90.45,334.87 90.6,309.74 90.75,330.48 90.9,311.56 91.05,329.49 91.2,310.96 91.35,330.31 91.5,310.92 91.65,336.03 91.8,312.54 91.95,329.89 92.1,312.21 92.25,333.94 92.4,313.29 92.55,331.2 92.7,306.09 92.85,329.71 93,310.08 93.15,329.73 93.3,309.13 93.45,329.29 93.6,308.88 93.75,331.1 93.9,306.52 94.05,329.58 94.2,309.57 94.35,332.44 94.5,310.53 94.65,328.75 94.8,309.22 94.95,327.27 95.1,313.45 95.25,329.07 95.4,311.18 95.55,328.73 95.7,310.31 95.85,344.47 96,313.47 96.15,330.52 96.3,311.45 96.45,330 96.6,310.49 96.75,331.61 96.9,310.2 97.05,333.5 97.2,314.3 97.35,333.66 97.5,312.24 97.65,334.46 97.8,309.68 97.95,337.85 98.1,311.88 98.25,334.27 98.4,312.67 98.55,334.67 98.7,312.18 98.85,336.83 99,313.43 99.15,338.12 99.3,314.7 99.45,336.51 99.6,315.1 99.75,334.13 99.9,314.42 100.05,333.1 100.2,314.7 100.35,332.37 100.5,313.2 100.65,335.83 100.8,315.27 100.95,332.04 101.1,316.22 101.25,344.25 101.4,312.74 101.55,329.92 101.7,314.9 101.85,334.78 102,312.26 102.15,331.19 102.3,312.74 102.45,331.63 102.6,309.85 102.75,333 102.9,312.91 103.05,332.56 103.2,311.02 103.35,333.4 103.5,310.49 103.65,331.66 103.8,308.66 103.95,342.02 104.1,308.27 104.25,335.84 104.4,311.91 104.55,337.67 104.7,311.78 104.85,333.76 105,308.49 105.15,330.87 105.3,311.19 105.45,331.41 105.6,312.3 105.75,332.37 105.9,312.42 106.05,332.3 106.2,311.44 106.35,331.91 106.5,308.22 106.65,338.57 106.8,310.85 106.95,333.07 107.1,313.27 107.25,332.17 107.4,312.52 107.55,333.54 107.7,314.34 107.85,332.62 108,314.4 108.15,332.25 108.3,312.32 108.45,332.62 108.6,312.29 108.75,335.33 108.9,306.87 109.05,333.64 109.2,310.44 109.35,331.03 109.5,312.18 109.65,337.93 109.8,311.76 109.95,329.17 110.1,308.72 110.25,330.32 110.4,312.35 110.55,326.44 110.7,308.36 110.85,329.74 111,303.27 111.15,326.9 111.3,307.24 111.45,339.99 111.6,305.3 111.75,327.94 111.9,307.78 112.05,328.37 112.2,305.58 112.35,332.76 112.5,309.87 112.65,338.59 112.8,310.4 112.95,337.41 113.1,311.09 113.25,332.35 113.4,311.45 113.55,332.79 113.7,311.3 113.85,333.42 114,312.23 114.15,334.58 114.3,312.88 114.45,337.05 114.6,311.5 114.75,335.09 114.9,310.11 115.05,335.4 115.2,309.78 115.35,335.21 115.5,309.91 115.65,331.97 115.8,309.22 115.95,335.97 116.1,308.96 116.25,332.43 116.4,305.46 116.55,327.7 116.7,308.25 116.85,330.87 117,310.62 117.15,331.68 117.3,311.89 117.45,330.33 117.6,310.47 117.75,333.1 117.9,311.27 118.05,334.97 118.2,313.41 118.35,334.83 118.5,309.92 118.65,334.01 118.8,313.06 118.95,335.17 119.1,313.07 119.25,336.25 119.4,312.44 119.55,334.61 119.7,310.16 119.85,335.8 120,309.45 120.15,333.63 120.3,309.9 120.45,332.93 120.6,308.44 120.75,333.63 120.9,308.24 121.05,331.89 121.2,308.92 121.35,345.26 121.5,305.43 121.65,335.21 121.8,303.31 121.95,332.92 122.1,305.99 122.25,331.45 122.4,308.36 122.55,333.59 122.7,309.84 122.85,331.86 123,307.52 123.15,337.08 123.3,310.76 123.45,335.52 123.6,307.9 123.75,333.35 123.9,306.98 124.05,333.51 124.2,302.36 124.35,336.62 124.5,305.48 124.65,330.13 124.8,309.69 124.95,335.29 125.1,307.61 125.25,333.83 125.4,305.19 125.55,334.97 125.7,304.3 125.85,329.89 126,307.28 126.15,331.98 126.3,305.06 126.45,332.73 126.6,307.08 126.75,334.22 126.9,308.14 127.05,329.46 127.2,303.04 127.35,329.88 127.5,302.92 127.65,330.06 127.8,307.86 127.95,331.8 128.1,309.26 128.25,335.92 128.4,311.11 128.55,332.46 128.7,310.23 128.85,336.06 129,309.85 129.15,333.83 129.3,307.02 129.45,338.95 129.6,302.93 129.75,332.81 129.9,308.64 130.05,336.97 130.2,306.68 130.35,332.79 130.5,306.97 130.65,345.84 130.8,305.35 130.95,335.74 131.1,309.08 131.25,332.23 131.4,309.2 131.55,331.32 131.7,308.13 131.85,330.74 132,308.69 132.15,328.8 132.3,306.33 132.45,331.81 132.6,308.09 132.75,327.53 132.9,309.24 133.05,328.93 133.2,311.27 133.35,329.81 133.5,311.83 133.65,331.45 133.8,311.36 133.95,335.82 134.1,310.38 134.25,340.3 134.4,310.4 134.55,329.06 134.7,310.31 134.85,332.43 135,308.79 135.15,331.05 135.3,308.63 135.45,340.23 135.6,309.89 135.75,338.31 135.9,308.02 136.05,329.94 136.2,304.16 136.35,332.25 136.5,302.18 136.65,330.77 136.8,305.42 136.95,330.12 137.1,307.54 137.25,327.61 137.4,304.37 137.55,330.48 137.7,307.55 137.85,331.75 138,307.86 138.15,336.17 138.3,307.93 138.45,345.32 138.6,307.86 138.75,335.27 138.9,309.89 139.05,333.15 139.2,310.95 139.35,330.94 139.5,309.17 139.65,326.74 139.8,306.5 139.95,318.39 140.1,301.15 140.25,305.89 140.4,298 140.55,306.03 140.7,300.93 140.85,316.77 141,307.07 141.15,328.63 141.3,305.85 141.45,328.85 141.6,309.11 141.75,334.82 141.9,308.19 142.05,339.67 142.2,309.86 142.35,330.55 142.5,303.2 142.65,334.22 142.8,304.11 142.95,329.16 143.1,309.32 143.25,331.68 143.4,310.25 143.55,330.69 143.7,311.88 143.85,330.3 144,311.99 144.15,334.96 144.3,312.37 144.45,335.65 144.6,313.29 144.75,332.23 144.9,313.51 145.05,334.33 145.2,312.42 145.35,335.19 145.5,313.65 145.65,332.73 145.8,312.12 145.95,330.64 146.1,311.39 146.25,330.15 146.4,308.78 146.55,335.92 146.7,308.08 146.85,329.95 147,301.09 147.15,332.99 147.3,308.42 147.45,329.24 147.6,307.17 147.75,337.6 147.9,309.01 148.05,328.55 148.2,309.02 148.35,337.97 148.5,302.88 148.65,345.14 148.8,311.7 148.95,336.83 149.1,312.46 149.25,336.21 149.4,312.01 149.55,333.69 149.7,315.58 149.85,339.33 150,315.02 150.15,334.6 150.3,315.55 150.45,337.73 150.6,309.64 150.75,333.11 150.9,312.87 151.05,341.93 151.2,313.08 151.35,331.25 151.5,312.39 151.65,336.43 151.8,311.86 151.95,335.57 152.1,309.26 152.25,332.82 152.4,311.34 152.55,327.79 152.7,308.04 152.85,340.44 153,311.7 153.15,333.15 153.3,311.65 153.45,330.18 153.6,310.88 153.75,336.66 153.9,307.37 154.05,333.24 154.2,310.58 154.35,337.02 154.5,309.56 154.65,338.02 154.8,311.57 154.95,341.96 155.1,312.85 155.25,338.51 155.4,309.21 155.55,339.75 155.7,312.41 155.85,332.14 156,314.22 156.15,336.45 156.3,313.84 156.45,331.95 156.6,312.16 156.75,337.28 156.9,309.86 157.05,332.44 157.2,303.82 157.35,336.26 157.5,302.27 157.65,331.45 157.8,304.43 157.95,341.47 158.1,305.66 158.25,336.86 158.4,297.04 158.55,329.17 158.7,302.89 158.85,330.68 159,303.61 159.15,337.46 159.3,304.62 159.45,331.67 159.6,301.8 159.75,329.61 159.9,303.24 160.05,341.01 160.2,303.21 160.35,336.78 160.5,305.03 160.65,344.04 160.8,305.74 160.95,333.58 161.1,308.05 161.25,331.2 161.4,307.17 161.55,333.12 161.7,305.5 161.85,335.04 162,309.51 162.15,333.93 162.3,305.37 162.45,331.6 162.6,305.65 162.75,330.16 162.9,302.07 163.05,317.82 163.2,298.27 163.35,306.56 163.5,293.53 163.65,292.2 163.8,292.21 163.95,302.88 164.1,294.87 164.25,313.07 164.4,299.26 164.55,326.55 164.7,301.36 164.85,332.72 165,302.55 165.15,333.4 165.3,300.57 165.45,333.61 165.6,301.15 165.75,334.04 165.9,298 166.05,333.86 166.2,299.95 166.35,329.24 166.5,299.66 166.65,334.72 166.8,300.5 166.95,332.46 167.1,293.07 167.25,327.25 167.4,301.65 167.55,336.79 167.7,304.81 167.85,331.6 168,306.36 168.15,327.82 168.3,305.57 168.45,330.99 168.6,306.99 168.75,324.86 168.9,302.77 169.05,313.05 169.2,299.12 169.35,298 169.5,298.25 169.65,309.02 169.8,302 169.95,320.79 170.1,301.42 170.25,332.22 170.4,300.09 170.55,334.63 170.7,307.74 170.85,330.63 171,309.96 171.15,339.07 171.3,310.68 171.45,336.44 171.6,311.63 171.75,335.72 171.9,311.53 172.05,331.68 172.2,310.25 172.35,336.94 172.5,310.77 172.65,334.62 172.8,310.68 172.95,339.41 173.1,311.33 173.25,333.79 173.4,310.86 173.55,338.19 173.7,311.19 173.85,334.52 174,307.97 174.15,334.28 174.3,308.35 174.45,335.76 174.6,306.79 174.75,331.76 174.9,304.7 175.05,313.24 175.2,302.8 175.35,312.84 175.5,304.58 175.65,322.67 175.8,308.02 175.95,333.02 176.1,310.22 176.25,339.14 176.4,312.92 176.55,335.27 176.7,314.79 176.85,334.28 177,312.29 177.15,334.41 177.3,315.85 177.45,334.56 177.6,313.99 177.75,339.31 177.9,314.35 178.05,341.06 178.2,311.98 178.35,343.81 178.5,311.02 178.65,340.6 178.8,312.93 178.95,336.94 179.1,312.73 179.25,339.4 179.4,313.22 179.55,353.85 179.7,309.32 179.85,342.88 180,310.11 180.15,336.43 180.3,312.58 180.45,333.09 180.6,309.16 180.75,317.18 180.9,305.28 181.05,305 181.2,304.61 181.35,323.84 181.5,305.14 181.65,328.7 181.8,309.65 181.95,334.09 182.1,308.58 182.25,336.39 182.4,308.65 182.55,334.92 182.7,310.69 182.85,336.4 183,310.11 183.15,338.03 183.3,310.58 183.45,335.03 183.6,311.65 183.75,337.04 183.9,314.26 184.05,336.91 184.2,313.58 184.35,336.46 184.5,316.93 184.65,337 184.8,317.33 184.95,337.01 185.1,311.43 185.25,336.46 185.4,317.28 185.55,342.09 185.7,317.88 185.85,337.15 186,315.88 186.15,342.88 186.3,317.02 186.45,337.61 186.6,316.22 186.75,337.85 186.9,313.04 187.05,342.5 187.2,316.31 187.35,341.03 187.5,315.44 187.65,338.68 187.8,316.91 187.95,336.4 188.1,319.09 188.25,335.89 188.4,318.75 188.55,336.39 188.7,317.33 188.85,334.66 189,316.01 189.15,339.26 189.3,315.04 189.45,348.08 189.6,314.89 189.75,338.08 189.9,314.16 190.05,339.21 190.2,314.72 190.35,337.11 190.5,312.99 190.65,338.93 190.8,315.78 190.95,346.48 191.1,315.85 191.25,341.21 191.4,318.95 191.55,343.67 191.7,320.11 191.85,342.41 192,319.67 192.15,343.66 192.3,314.76 192.45,346.56 192.6,319.67 192.75,340.46 192.9,318.04 193.05,340.44 193.2,318.04 193.35,343.19 193.5,313.92 193.65,339.76 193.8,315.07 193.95,340.76 194.1,313.43 194.25,338.79 194.4,315.76 194.55,340.32 194.7,316.16 194.85,342.68 195,316.63 195.15,336.23 195.3,316.29 195.45,348.15 195.6,315.95 195.75,343.83 195.9,311.37 196.05,337.99 196.2,313.59 196.35,335.4 196.5,315.52 196.65,342.08 196.8,316.33 196.95,340.5 197.1,316.87 197.25,340.21 197.4,316.42 197.55,340.57 197.7,314.94 197.85,346.64 198,315.43 198.15,339.94 198.3,314.9 198.45,340.52 198.6,316.95 198.75,340 198.9,313.32 199.05,340.72 199.2,316.58 199.35,352.19 199.5,319.69 199.65,341.24 199.8,317.2 199.95,342.81 200.1,320 200.25,339.79 200.4,320.04 200.55,336.27 200.7,317.79 200.85,334.94 201,317.21 201.15,337.27 201.3,314.65 201.45,335.63 201.6,314.59 201.75,339.29 201.9,315.63 202.05,336.46 202.2,315.26 202.35,334.87 202.5,314.48 202.65,334.98 202.8,313.82 202.95,341.71 203.1,311.12 203.25,337.1 203.4,307.56 203.55,337.37 203.7,315.83 203.85,337.96 204,314.8 204.15,336.54 204.3,317.31 204.45,336.84 204.6,313.52 204.75,337.59 204.9,314.06 205.05,336.22 205.2,316.69 205.35,350.18 205.5,313.75 205.65,337.61 205.8,316.89 205.95,335.98 206.1,317.97 206.25,342.5 206.4,318.13 206.55,340.05 206.7,319.07 206.85,340.12 207,317.66 207.15,339.47 207.3,311.49 207.45,342.08 207.6,315.64 207.75,340.41 207.9,314.85 208.05,339.65 208.2,310.03 208.35,337.03 208.5,311.01 208.65,334.7 208.8,309.42 208.95,338.41 209.1,309.92 209.25,334.54 209.4,310.03 209.55,339.1 209.7,309.56 209.85,336.08 210,304.73 210.15,337.5 210.3,312.87 210.45,337.89 210.6,314.16 210.75,338.37 210.9,314.96 211.05,341.05 211.2,316.35 211.35,342.67 211.5,307.83 211.65,337.49 211.8,316.5 211.95,336.27 212.1,316.79 212.25,347.61 212.4,315.93 212.55,337.93 212.7,315.28 212.85,334.74 213,315.37 213.15,339.22 213.3,313.69 213.45,345.5 213.6,315.04 213.75,340.86 213.9,316.14 214.05,342.28 214.2,314.02 214.35,338.05 214.5,314.89 214.65,339.18 214.8,314.11 214.95,345.97 215.1,310.35 215.25,346.53 215.4,314.46 215.55,344.15 215.7,313.08 215.85,337.75 216,314.17 216.15,337.8 216.3,315.55 216.45,346.1 216.6,312.06 216.75,336.35 216.9,313.18 217.05,335.65 217.2,316.52 217.35,336.27 217.5,314.78 217.65,336.18 217.8,314.47 217.95,337.65 218.1,313.12 218.25,348.22 218.4,312.48 218.55,338.41 218.7,310.17 218.85,341.09 219,313.52 219.15,338.75 219.3,313.58 219.45,352.72 219.6,315.22 219.75,343.31 219.9,312.9 220.05,338.17 220.2,315.6 220.35,340.18 220.5,317.44 220.65,337.25 220.8,315.86 220.95,337.66 221.1,317.49 221.25,339.32 221.4,319.02 221.55,336.26 221.7,318.31 221.85,335.82 222,316.66 222.15,341.88 222.3,313.69 222.45,336 222.6,313.4 222.75,339.72 222.9,315.46 223.05,335.42 223.2,314.62 223.35,340.54 223.5,314.29 223.65,336.64 223.8,314.37 223.95,345.2 224.1,314.93 224.25,339.53 224.4,316.83 224.55,341.05 224.7,311.01 224.85,336.8 225,314.13 225.15,338.12 225.3,310.16 225.45,336.16 225.6,312.23 225.75,335.95 225.9,313.01 226.05,341.7 226.2,311.93 226.35,340.34 226.5,312.25 226.65,352.42 226.8,314.67 226.95,348.98 227.1,315.59 227.25,340.68 227.4,317.95 227.55,340.58 227.7,314.78 227.85,342.56 228,318.65 228.15,340.31 228.3,318.95 228.45,340.81 228.6,319.12 228.75,339.75 228.9,318.24 229.05,340.11 229.2,317.05 229.35,340 229.5,313.63 229.65,340.14 229.8,316.57 229.95,340.03 230.1,316.45 230.25,344.37 230.4,315.66 230.55,335.29 230.7,314.76 230.85,336.33 231,305.28 231.15,350.57 231.3,312.59 231.45,337.54 231.6,312.24 231.75,345.63 231.9,313.32 232.05,335.21 232.2,310.58 232.35,336.17 232.5,311.18 232.65,338.63 232.8,311.13 232.95,337.2 233.1,312.8 233.25,341.12 233.4,310.77 233.55,346.24 233.7,313.1 233.85,336.33 234,313.66 234.15,339.44 234.3,314.25 234.45,337.29 234.6,314.59 234.75,343.22 234.9,317.42 235.05,339.45 235.2,318.01 235.35,338.34 235.5,318.74 235.65,339.19 235.8,319.04 235.95,339.04 236.1,315.57 236.25,343.84 236.4,316.15 236.55,342.45 236.7,312.31 236.85,340.27 237,315.58 237.15,338.26 237.3,314.23 237.45,345.01 237.6,313.91 237.75,339.84 237.9,312.55 238.05,339.56 238.2,314.31 238.35,339.66 238.5,314.69 238.65,347 238.8,315.29 238.95,340.87 239.1,314.79 239.25,345.5 239.4,312.06 239.55,341.09 239.7,315.53 239.85,339.62 240,316.01 240.15,343.18 240.3,318.28 240.45,340.84 240.6,318.82 240.75,340.73 240.9,317.15 241.05,340.9 241.2,318.97 241.35,341.57 241.5,319.44 241.65,343.77 241.8,316.33 241.95,341.55 242.1,318.65 242.25,344.14 242.4,315.78 242.55,339.86 242.7,316.68 242.85,342.77 243,316.43 243.15,338.41 243.3,317.29 243.45,346.05 243.6,312.47 243.75,344.65 243.9,315.24 244.05,337.86 244.2,312.78 244.35,334.49 244.5,316.05 244.65,335.84 244.8,315.39 244.95,339.14 245.1,315.64 245.25,339.95 245.4,314.13 245.55,344.13 245.7,316.87 245.85,345.57 246,317.11 246.15,340.9 246.3,309.79 246.45,348.62 246.6,317.02 246.75,341.02 246.9,318.42 247.05,339.95 247.2,320.09 247.35,341.67 247.5,320.56 247.65,346.28 247.8,320.9 247.95,344.65 248.1,319.11 248.25,337.62 248.4,319.45 248.55,347.12 248.7,318.59 248.85,340.8 249,318.92 249.15,346.63 249.3,319.06 249.45,344.09 249.6,317.3 249.75,339.15 249.9,311.18 250.05,340.56 250.2,315.07 250.35,338.54 250.5,315.2 250.65,350.64 250.8,318.33 250.95,346.24 251.1,318.04 251.25,339.44 251.4,317.66 251.55,335.35 251.7,316.59 251.85,334.53 252,316.84 252.15,335.06 252.3,314.58 252.45,336.35 252.6,313.52 252.75,338.75 252.9,315.78 253.05,348.35 253.2,315.64 253.35,341.72 253.5,315 253.65,348.78 253.8,315.25 253.95,342.62 254.1,316.37 254.25,348.28 254.4,316.81 254.55,335.53 254.7,318.58 254.85,336.8 255,319.21 255.15,340.75 255.3,319.29 255.45,335.91 255.6,320.02 255.75,335.96 255.9,321.01 256.05,337.35 256.2,320.06 256.35,340.63 256.5,316.23 256.65,336.52 256.8,318.1 256.95,338.54 257.1,317.19 257.25,339.24 257.4,315.85 257.55,339.48 257.7,310.98 257.85,338.48 258,312.18 258.15,341.33 258.3,311.33 258.45,338.21 258.6,307.22 258.75,343.51 258.9,310.65 259.05,336.99 259.2,312.04 259.35,338.23 259.5,310.39 259.65,340.04 259.8,314.87 259.95,345.37 260.1,315.38 260.25,338.52 260.4,314.76 260.55,341.78 260.7,314.72 260.85,338.31 261,311.31 261.15,336.54 261.3,313.11 261.45,336.93 261.6,314.51 261.75,338.36 261.9,314.36 262.05,339.23 262.2,313.43 262.35,337.99 262.5,315.27 262.65,341.43 262.8,311.99 262.95,336.43 263.1,314.55 263.25,337.32 263.4,315.49 263.55,338.98 263.7,317.37 263.85,338.99 264,318.65 264.15,335.44 264.3,319.28 264.45,345.62 264.6,318.45 264.75,337.5 264.9,319.09 265.05,337.27 265.2,320.28 265.35,337.32 265.5,315.9 265.65,337.48 265.8,320.05 265.95,342.86 266.1,316.76 266.25,335.29 266.4,314.84 266.55,338.45 266.7,315 266.85,338.64 267,313.53 267.15,338.82 267.3,315.72 267.45,336.21 267.6,317.73 267.75,342.03 267.9,311.66 268.05,336.79 268.2,317.15 268.35,345.68 268.5,311.66 268.65,338.17 268.8,313.79 268.95,340.39 269.1,308.32 269.25,346.94 269.4,315.19 269.55,349.11 269.7,317.47 269.85,342.34 270,317.06 270.15,344.06 270.3,317.64 270.45,338.56 270.6,318.68" fill="none" stroke="#db4a8c" stroke-width="0.75" stroke-linejoin="round" clip-path="url(#cBL)" />
<polygon points="56.4,324.24 56.48,324.24 56.56,324.24 56.64,324.23 56.72,324.23 56.8,324.23 56.88,324.22 56.96,324.22 57.04,324.21 57.12,324.21 57.2,324.2 57.28,324.2 57.36,324.19 57.44,324.18 57.52,324.18 57.6,324.17 57.68,324.16 57.76,324.15 57.84,324.14 57.92,324.13 58,324.12 58.08,324.11 58.16,324.09 58.24,324.08 58.32,324.06 58.4,324.04 58.48,324.02 58.56,324 58.64,323.97 58.72,323.94 58.8,323.91 58.88,323.88 58.96,323.84 59.04,323.8 59.12,323.75 59.2,323.7 59.28,323.65 59.36,323.58 59.44,323.51 59.52,323.43 59.6,323.35 59.68,323.25 59.76,323.13 59.84,323.01 59.92,322.87 60,322.71 60.08,322.52 60.16,322.32 60.24,322.09 60.32,321.82 60.4,321.52 60.48,321.17 60.56,320.78 60.64,320.33 60.72,319.82 60.8,319.23 60.88,318.56 60.96,317.79 61.04,316.91 61.12,315.9 61.2,314.75 61.28,313.45 61.36,311.97 61.44,310.29 61.52,308.4 61.6,306.28 61.68,303.91 61.76,301.29 61.84,298.4 61.92,295.25 62,291.83 62.08,288.16 62.16,284.25 62.24,280.13 62.32,275.82 62.4,271.38 62.48,266.83 62.56,262.25 62.64,257.69 62.72,253.23 62.8,248.93 62.88,244.9 62.96,241.21 63.04,237.95 63.12,235.22 63.2,233.09 63.28,231.64 63.36,230.89 63.44,230.89 63.52,231.64 63.6,233.09 63.68,235.22 63.76,237.95 63.84,241.21 63.92,244.9 64,248.93 64.08,253.23 64.16,257.69 64.24,262.25 64.32,266.83 64.4,271.38 64.48,275.82 64.56,280.13 64.64,284.25 64.72,288.16 64.8,291.83 64.88,295.25 64.96,298.4 65.04,301.29 65.12,303.91 65.2,306.28 65.28,308.4 65.36,310.29 65.44,311.97 65.52,313.45 65.6,314.75 65.68,315.9 65.76,316.91 65.84,317.79 65.92,318.56 66,319.23 66.08,319.82 66.16,320.33 66.24,320.78 66.32,321.17 66.4,321.52 66.48,321.82 66.56,322.09 66.64,322.32 66.72,322.52 66.8,322.71 66.88,322.87 66.96,323.01 67.04,323.13 67.12,323.25 67.2,323.35 67.28,323.43 67.36,323.51 67.44,323.58 67.52,323.65 67.6,323.7 67.68,323.75 67.76,323.8 67.84,323.84 67.92,323.88 68,323.91 68.08,323.94 68.16,323.97 68.24,324 68.32,324.02 68.4,324.04 68.48,324.06 68.56,324.08 68.64,324.09 68.72,324.11 68.8,324.12 68.88,324.13 68.96,324.14 69.04,324.15 69.12,324.16 69.2,324.17 69.28,324.18 69.36,324.18 69.44,324.19 69.52,324.2 69.6,324.2 69.68,324.21 69.76,324.21 69.84,324.22 69.92,324.22 70,324.23 70.08,324.23 70.16,324.23 70.24,324.24 70.32,324.24 70.4,324.24" fill="#db4a8c" stroke="#db4a8c" stroke-width="0.9" stroke-linejoin="round" clip-path="url(#cBL)"/>
<polygon points="94.9,325.53 94.98,325.53 95.06,325.53 95.14,325.53 95.22,325.52 95.3,325.52 95.38,325.51 95.46,325.51 95.54,325.51 95.62,325.5 95.7,325.5 95.78,325.49 95.86,325.48 95.94,325.48 96.02,325.47 96.1,325.46 96.18,325.45 96.26,325.45 96.34,325.44 96.42,325.43 96.5,325.41 96.58,325.4 96.66,325.39 96.74,325.37 96.82,325.35 96.9,325.34 96.98,325.32 97.06,325.29 97.14,325.27 97.22,325.24 97.3,325.21 97.38,325.18 97.46,325.14 97.54,325.1 97.62,325.06 97.7,325.01 97.78,324.95 97.86,324.89 97.94,324.82 98.02,324.74 98.1,324.65 98.18,324.55 98.26,324.44 98.34,324.32 98.42,324.18 98.5,324.01 98.58,323.83 98.66,323.63 98.74,323.39 98.82,323.12 98.9,322.82 98.98,322.46 99.06,322.06 99.14,321.6 99.22,321.08 99.3,320.47 99.38,319.78 99.46,318.98 99.54,318.06 99.62,317.01 99.7,315.81 99.78,314.43 99.86,312.86 99.94,311.08 100.02,309.06 100.1,306.79 100.18,304.25 100.26,301.42 100.34,298.29 100.42,294.87 100.5,291.14 100.58,287.12 100.66,282.83 100.74,278.29 100.82,273.53 100.9,268.59 100.98,263.52 101.06,258.39 101.14,253.25 101.22,248.18 101.3,243.29 101.38,238.65 101.46,234.39 101.54,230.6 101.62,227.41 101.7,224.91 101.78,223.19 101.86,222.31 101.94,222.31 102.02,223.19 102.1,224.91 102.18,227.41 102.26,230.6 102.34,234.39 102.42,238.65 102.5,243.29 102.58,248.18 102.66,253.25 102.74,258.39 102.82,263.52 102.9,268.59 102.98,273.53 103.06,278.29 103.14,282.83 103.22,287.12 103.3,291.14 103.38,294.87 103.46,298.29 103.54,301.42 103.62,304.25 103.7,306.79 103.78,309.06 103.86,311.08 103.94,312.86 104.02,314.43 104.1,315.81 104.18,317.01 104.26,318.06 104.34,318.98 104.42,319.78 104.5,320.47 104.58,321.08 104.66,321.6 104.74,322.06 104.82,322.46 104.9,322.82 104.98,323.12 105.06,323.39 105.14,323.63 105.22,323.83 105.3,324.01 105.38,324.18 105.46,324.32 105.54,324.44 105.62,324.55 105.7,324.65 105.78,324.74 105.86,324.82 105.94,324.89 106.02,324.95 106.1,325.01 106.18,325.06 106.26,325.1 106.34,325.14 106.42,325.18 106.5,325.21 106.58,325.24 106.66,325.27 106.74,325.29 106.82,325.32 106.9,325.34 106.98,325.35 107.06,325.37 107.14,325.39 107.22,325.4 107.3,325.41 107.38,325.43 107.46,325.44 107.54,325.45 107.62,325.45 107.7,325.46 107.78,325.47 107.86,325.48 107.94,325.48 108.02,325.49 108.1,325.5 108.18,325.5 108.26,325.51 108.34,325.51 108.42,325.51 108.5,325.52 108.58,325.52 108.66,325.53 108.74,325.53 108.82,325.53 108.9,325.53" fill="#db4a8c" stroke="#db4a8c" stroke-width="0.9" stroke-linejoin="round" clip-path="url(#cBL)"/>
<polygon points="108.9,323.01 108.98,323.01 109.06,323.01 109.14,323.01 109.22,323.01 109.3,323.01 109.38,323.01 109.46,323.01 109.54,323.01 109.62,323.01 109.7,323.01 109.78,323.01 109.86,323.01 109.94,323.01 110.02,323.01 110.1,323.01 110.18,323.01 110.26,323.01 110.34,323.01 110.42,323.01 110.5,323.01 110.58,323.01 110.66,323.01 110.74,323.01 110.82,323.01 110.9,323.01 110.98,323.01 111.06,323.01 111.14,323.01 111.22,323.01 111.3,323.01 111.38,323.01 111.46,323.01 111.54,323.01 111.62,323.01 111.7,323.01 111.78,323.01 111.86,323.01 111.94,323.01 112.02,323.01 112.1,323.01 112.18,323.01 112.26,323.01 112.34,323.01 112.42,323.01 112.5,323.01 112.58,323.01 112.66,323.01 112.74,323.01 112.82,323.01 112.9,323.01 112.98,323.01 113.06,323.01 113.14,323.01 113.22,323.01 113.3,323.01 113.38,323 113.46,323 113.54,323 113.62,323 113.7,323 113.78,323 113.86,322.99 113.94,322.99 114.02,322.99 114.1,322.98 114.18,322.97 114.26,322.97 114.34,322.95 114.42,322.94 114.5,322.91 114.58,322.88 114.66,322.84 114.74,322.78 114.82,322.69 114.9,322.56 114.98,322.37 115.06,322.07 115.14,321.61 115.22,320.89 115.3,319.74 115.38,317.93 115.46,315.14 115.54,311.07 115.62,305.67 115.7,299.5 115.78,293.87 115.86,290.46 115.94,290.46 116.02,293.87 116.1,299.5 116.18,305.67 116.26,311.07 116.34,315.14 116.42,317.93 116.5,319.74 116.58,320.89 116.66,321.61 116.74,322.07 116.82,322.37 116.9,322.56 116.98,322.69 117.06,322.78 117.14,322.84 117.22,322.88 117.3,322.91 117.38,322.94 117.46,322.95 117.54,322.97 117.62,322.97 117.7,322.98 117.78,322.99 117.86,322.99 117.94,322.99 118.02,323 118.1,323 118.18,323 118.26,323 118.34,323 118.42,323 118.5,323.01 118.58,323.01 118.66,323.01 118.74,323.01 118.82,323.01 118.9,323.01 118.98,323.01 119.06,323.01 119.14,323.01 119.22,323.01 119.3,323.01 119.38,323.01 119.46,323.01 119.54,323.01 119.62,323.01 119.7,323.01 119.78,323.01 119.86,323.01 119.94,323.01 120.02,323.01 120.1,323.01 120.18,323.01 120.26,323.01 120.34,323.01 120.42,323.01 120.5,323.01 120.58,323.01 120.66,323.01 120.74,323.01 120.82,323.01 120.9,323.01 120.98,323.01 121.06,323.01 121.14,323.01 121.22,323.01 121.3,323.01 121.38,323.01 121.46,323.01 121.54,323.01 121.62,323.01 121.7,323.01 121.78,323.01 121.86,323.01 121.94,323.01 122.02,323.01 122.1,323.01 122.18,323.01 122.26,323.01 122.34,323.01 122.42,323.01 122.5,323.01 122.58,323.01 122.66,323.01 122.74,323.01 122.82,323.01 122.9,323.01" fill="#db4a8c" stroke="#db4a8c" stroke-width="0.9" stroke-linejoin="round" clip-path="url(#cBL)"/>
<polygon points="151,321.33 151.08,321.33 151.16,321.33 151.24,321.33 151.32,321.33 151.4,321.33 151.48,321.33 151.56,321.33 151.64,321.33 151.72,321.33 151.8,321.33 151.88,321.33 151.96,321.33 152.04,321.33 152.12,321.33 152.2,321.33 152.28,321.33 152.36,321.33 152.44,321.33 152.52,321.33 152.6,321.33 152.68,321.33 152.76,321.33 152.84,321.33 152.92,321.33 153,321.33 153.08,321.32 153.16,321.32 153.24,321.32 153.32,321.32 153.4,321.32 153.48,321.32 153.56,321.32 153.64,321.32 153.72,321.32 153.8,321.32 153.88,321.32 153.96,321.32 154.04,321.32 154.12,321.32 154.2,321.32 154.28,321.32 154.36,321.32 154.44,321.32 154.52,321.32 154.6,321.32 154.68,321.32 154.76,321.32 154.84,321.32 154.92,321.32 155,321.32 155.08,321.32 155.16,321.31 155.24,321.31 155.32,321.31 155.4,321.31 155.48,321.31 155.56,321.3 155.64,321.3 155.72,321.29 155.8,321.29 155.88,321.28 155.96,321.27 156.04,321.25 156.12,321.24 156.2,321.22 156.28,321.19 156.36,321.16 156.44,321.12 156.52,321.06 156.6,320.98 156.68,320.87 156.76,320.73 156.84,320.53 156.92,320.24 157,319.84 157.08,319.26 157.16,318.43 157.24,317.22 157.32,315.47 157.4,312.99 157.48,309.56 157.56,305.04 157.64,299.51 157.72,293.36 157.8,287.35 157.88,282.49 157.96,279.76 158.04,279.76 158.12,282.49 158.2,287.35 158.28,293.36 158.36,299.51 158.44,305.04 158.52,309.56 158.6,312.99 158.68,315.47 158.76,317.22 158.84,318.43 158.92,319.26 159,319.84 159.08,320.24 159.16,320.53 159.24,320.73 159.32,320.87 159.4,320.98 159.48,321.06 159.56,321.12 159.64,321.16 159.72,321.19 159.8,321.22 159.88,321.24 159.96,321.25 160.04,321.27 160.12,321.28 160.2,321.29 160.28,321.29 160.36,321.3 160.44,321.3 160.52,321.31 160.6,321.31 160.68,321.31 160.76,321.31 160.84,321.31 160.92,321.32 161,321.32 161.08,321.32 161.16,321.32 161.24,321.32 161.32,321.32 161.4,321.32 161.48,321.32 161.56,321.32 161.64,321.32 161.72,321.32 161.8,321.32 161.88,321.32 161.96,321.32 162.04,321.32 162.12,321.32 162.2,321.32 162.28,321.32 162.36,321.32 162.44,321.32 162.52,321.32 162.6,321.32 162.68,321.32 162.76,321.32 162.84,321.32 162.92,321.32 163,321.33 163.08,321.33 163.16,321.33 163.24,321.33 163.32,321.33 163.4,321.33 163.48,321.33 163.56,321.33 163.64,321.33 163.72,321.33 163.8,321.33 163.88,321.33 163.96,321.33 164.04,321.33 164.12,321.33 164.2,321.33 164.28,321.33 164.36,321.33 164.44,321.33 164.52,321.33 164.6,321.33 164.68,321.33 164.76,321.33 164.84,321.33 164.92,321.33 165,321.33" fill="#db4a8c" stroke="#db4a8c" stroke-width="0.9" stroke-linejoin="round" clip-path="url(#cBL)"/>
<rect x="56.4" y="203.9" width="214.3" height="156.4" fill="none" stroke="#666666" stroke-width="1.3"/>
<line x1="56.4" y1="360.3" x2="56.4" y2="357.7" stroke="#666666" stroke-width="1"/>
<text x="56.4" y="370.6" font-size="8.5" font-weight="bold" text-anchor="middle" fill="#161616" >10</text>
<line x1="71.71" y1="360.3" x2="71.71" y2="358.7" stroke="#666666" stroke-width="1"/>
<line x1="87.01" y1="360.3" x2="87.01" y2="357.7" stroke="#666666" stroke-width="1"/>
<text x="87.01" y="370.6" font-size="8.5" font-weight="bold" text-anchor="middle" fill="#161616" >20</text>
<line x1="102.32" y1="360.3" x2="102.32" y2="358.7" stroke="#666666" stroke-width="1"/>
<line x1="117.63" y1="360.3" x2="117.63" y2="357.7" stroke="#666666" stroke-width="1"/>
<text x="117.63" y="370.6" font-size="8.5" font-weight="bold" text-anchor="middle" fill="#161616" >30</text>
<line x1="132.94" y1="360.3" x2="132.94" y2="358.7" stroke="#666666" stroke-width="1"/>
<line x1="148.24" y1="360.3" x2="148.24" y2="357.7" stroke="#666666" stroke-width="1"/>
<text x="148.24" y="370.6" font-size="8.5" font-weight="bold" text-anchor="middle" fill="#161616" >40</text>
<line x1="163.55" y1="360.3" x2="163.55" y2="358.7" stroke="#666666" stroke-width="1"/>
<line x1="178.86" y1="360.3" x2="178.86" y2="357.7" stroke="#666666" stroke-width="1"/>
<text x="178.86" y="370.6" font-size="8.5" font-weight="bold" text-anchor="middle" fill="#161616" >50</text>
<line x1="194.16" y1="360.3" x2="194.16" y2="358.7" stroke="#666666" stroke-width="1"/>
<line x1="209.47" y1="360.3" x2="209.47" y2="357.7" stroke="#666666" stroke-width="1"/>
<text x="209.47" y="370.6" font-size="8.5" font-weight="bold" text-anchor="middle" fill="#161616" >60</text>
<line x1="224.78" y1="360.3" x2="224.78" y2="358.7" stroke="#666666" stroke-width="1"/>
<line x1="240.09" y1="360.3" x2="240.09" y2="357.7" stroke="#666666" stroke-width="1"/>
<text x="240.09" y="370.6" font-size="8.5" font-weight="bold" text-anchor="middle" fill="#161616" >70</text>
<line x1="255.39" y1="360.3" x2="255.39" y2="358.7" stroke="#666666" stroke-width="1"/>
<line x1="270.7" y1="360.3" x2="270.7" y2="357.7" stroke="#666666" stroke-width="1"/>
<text x="270.7" y="370.6" font-size="8.5" font-weight="bold" text-anchor="middle" fill="#161616" >80</text>
<line x1="56.4" y1="214.58" x2="58.2" y2="214.58" stroke="#666666" stroke-width="1"/>
<line x1="56.4" y1="233.7" x2="59.8" y2="233.7" stroke="#666666" stroke-width="1"/>
<line x1="56.4" y1="278.08" x2="58.2" y2="278.08" stroke="#666666" stroke-width="1"/>
<line x1="56.4" y1="266.9" x2="58.2" y2="266.9" stroke="#666666" stroke-width="1"/>
<line x1="56.4" y1="258.97" x2="58.2" y2="258.97" stroke="#666666" stroke-width="1"/>
<line x1="56.4" y1="252.82" x2="58.2" y2="252.82" stroke="#666666" stroke-width="1"/>
<line x1="56.4" y1="247.79" x2="58.2" y2="247.79" stroke="#666666" stroke-width="1"/>
<line x1="56.4" y1="243.54" x2="58.2" y2="243.54" stroke="#666666" stroke-width="1"/>
<line x1="56.4" y1="239.85" x2="58.2" y2="239.85" stroke="#666666" stroke-width="1"/>
<line x1="56.4" y1="236.61" x2="58.2" y2="236.61" stroke="#666666" stroke-width="1"/>
<line x1="56.4" y1="297.2" x2="59.8" y2="297.2" stroke="#666666" stroke-width="1"/>
<line x1="56.4" y1="341.58" x2="58.2" y2="341.58" stroke="#666666" stroke-width="1"/>
<line x1="56.4" y1="330.4" x2="58.2" y2="330.4" stroke="#666666" stroke-width="1"/>
<line x1="56.4" y1="322.47" x2="58.2" y2="322.47" stroke="#666666" stroke-width="1"/>
<line x1="56.4" y1="316.32" x2="58.2" y2="316.32" stroke="#666666" stroke-width="1"/>
<line x1="56.4" y1="311.29" x2="58.2" y2="311.29" stroke="#666666" stroke-width="1"/>
<line x1="56.4" y1="307.04" x2="58.2" y2="307.04" stroke="#666666" stroke-width="1"/>
<line x1="56.4" y1="303.35" x2="58.2" y2="303.35" stroke="#666666" stroke-width="1"/>
<line x1="56.4" y1="300.11" x2="58.2" y2="300.11" stroke="#666666" stroke-width="1"/>
<text x="165.6" y="384" font-size="8.0" font-weight="bold" text-anchor="middle" fill="#161616" letter-spacing="0.45" stroke="#161616" stroke-width="0.2">2θ (Degree)</text>
<text transform="translate(50.2,331) rotate(-90)" font-size="9.15" font-weight="bold" text-anchor="start" fill="#161616"  stroke="#161616" stroke-width="0.2">XRD Intensity (arb. units)</text>
<line x1="209" y1="210.8" x2="227.6" y2="210.8" stroke="#db4a8c" stroke-width="1.6"/>
<text x="228.6" y="213.2" font-size="7.3" font-weight="bold" text-anchor="start" fill="#161616" letter-spacing="0.3" stroke="#161616" stroke-width="0.05">Cu<tspan font-size="4.6" dy="1.9">2</tspan><tspan dy="-1.9">Te NSs</tspan></text>
<text transform="translate(72.7,262) rotate(-90)" font-size="7.75" font-weight="bold" text-anchor="start" fill="#161616"  stroke="#161616" stroke-width="0.2">Cu<tspan font-size="5.0" dy="2.2">2</tspan><tspan dy="-2.2">Te (031)</tspan></text>
<text transform="translate(97.6,249.3) rotate(-90)" font-size="7.75" font-weight="bold" text-anchor="start" fill="#161616"  stroke="#161616" stroke-width="0.2">Cu<tspan font-size="5.0" dy="2.2">2</tspan><tspan dy="-2.2">Te (211)</tspan></text>
<text transform="translate(113.6,296) rotate(-90)" font-size="7.75" font-weight="bold" text-anchor="start" fill="#161616"  stroke="#161616" stroke-width="0.2">Cu<tspan font-size="5.0" dy="2.2">2</tspan><tspan dy="-2.2">Te (222)</tspan></text>
<text transform="translate(141.4,296) rotate(-90)" font-size="7.75" font-weight="bold" text-anchor="start" fill="#161616"  stroke="#161616" stroke-width="0.2">Cu<tspan font-size="5.0" dy="2.2">2</tspan><tspan dy="-2.2">Te (090)</tspan></text>
<text transform="translate(168.3,293.9) rotate(-90)" font-size="7.75" font-weight="bold" text-anchor="start" fill="#161616"  stroke="#161616" stroke-width="0.2">Cu<tspan font-size="5.0" dy="2.2">2</tspan><tspan dy="-2.2">Te (0112)</tspan></text>
<text transform="translate(156.4,275.8) rotate(-90)" font-size="7.8" font-weight="bold" text-anchor="start" fill="#161616"  stroke="#161616" stroke-width="0.2">Cu (111)</text>
<polyline points="330,184.83 330.09,185.1 330.18,184.32 330.28,184.72 330.37,184.05 330.46,184.37 330.55,183.8 330.64,183.93 330.74,183.39 330.83,183.64 330.92,182.92 331.01,183.48 331.1,182.51 331.2,182.87 331.29,182.12 331.38,183.07 331.47,181.49 331.57,182.15 331.66,181.12 331.75,181.8 331.84,181.17 331.93,181.92 332.03,180.7 332.12,181.26 332.21,180.09 332.3,180.76 332.39,179.88 332.49,180.72 332.58,179.81 332.67,180.12 332.76,179.29 332.85,179.8 332.95,178.74 333.04,179.43 333.13,178.75 333.22,179.49 333.31,178.41 333.41,179.2 333.5,178.05 333.59,178.36 333.68,177.66 333.77,177.92 333.87,177.21 333.96,178.27 334.05,176.57 334.14,177.78 334.23,176.69 334.33,176.9 334.42,176.26 334.51,176.59 334.6,175.94 334.7,176.08 334.79,174.97 334.88,176.15 334.97,174.94 335.06,175.36 335.16,174.77 335.25,175.23 335.34,174.35 335.43,175.48 335.52,174.06 335.62,174.69 335.71,173.8 335.8,174.14 335.89,173.2 335.98,173.99 336.08,173.12 336.17,173.38 336.26,172.74 336.35,173 336.44,172.46 336.54,172.94 336.63,171.95 336.72,172.36 336.81,171.16 336.9,172.06 337,171.35 337.08,171.71 337.16,170.86 337.23,171.39 337.31,170.63 337.39,170.84 337.47,170.2 337.55,170.82 337.63,169.84 337.71,170.19 337.79,169.28 337.87,169.78 337.95,168.69 338.03,169.29 338.11,168.28 338.18,169.3 338.26,168.14 338.34,169.01 338.42,167.51 338.5,168.42 338.58,167.45 338.66,167.91 338.74,166.78 338.82,167.49 338.9,166.39 338.98,166.97 339.05,166.4 339.13,166.53 339.21,165.85 339.29,166.39 339.37,165.46 339.45,165.89 339.53,165.27 339.61,165.58 339.69,164.77 339.77,165.49 339.84,164.12 339.9,164.89 339.96,163.85 340.02,165.09 340.08,163.74 340.14,164.14 340.2,162.95 340.26,164.12 340.32,163.09 340.38,163.56 340.44,162.67 340.51,163.28 340.57,162.33 340.63,162.74 340.69,161.75 340.75,162.29 340.81,161.54 340.87,162.3 340.93,160.56 340.99,161.83 341.05,160.52 341.12,161.03 341.18,160.36 341.24,160.77 341.3,159.95 341.36,160.72 341.41,159.63 341.45,160.21 341.49,158.85 341.52,159.66 341.56,158.69 341.6,159.78 341.64,157.94 341.67,158.94 341.71,158.03 341.75,158.49 341.79,157.64 341.82,158.17 341.86,156.81 341.9,157.5 341.93,156.93 341.97,157.27 342.01,156.51 342.05,156.92 342.08,156.2 342.12,156.44 342.16,155.55 342.2,156.17 342.23,155.45 342.27,156.13 342.31,154.98 342.35,155.45 342.38,154.74 342.42,155.09 342.46,153.88 342.49,154.7 342.53,153.76 342.57,154.28 342.61,153.46 342.64,153.84 342.68,153.08 342.72,153.34 342.76,152.6 342.79,153.16 342.83,152.31 342.87,152.53 342.91,151.72 342.94,152.17 342.98,150.96 343.02,151.73 343.05,150.91 343.09,151.42 343.13,150.25 343.17,151.4 343.2,149.99 343.24,150.67 343.28,149.85 343.31,150.12 343.34,149.31 343.37,149.85 343.4,148.98 343.42,149.51 343.45,148.75 343.48,149.14 343.51,148.31 343.53,148.67 343.56,147.93 343.59,148.74 343.62,147.53 343.64,147.9 343.67,147.19 343.7,147.71 343.73,146.72 343.76,147.27 343.78,146.45 343.81,146.74 343.84,145.95 343.87,146.35 343.89,145.72 343.92,146.26 343.95,145.02 343.98,146.21 344.01,144.75 344.03,145.24 344.06,144.4 344.09,145.09 344.12,144.12 344.14,144.32 344.17,143.57 344.2,144.15 344.23,142.28 344.25,143.58 344.28,142.86 344.31,143.12 344.34,142.48 344.37,142.68 344.39,141.38 344.42,142.42 344.45,141.06 344.48,141.86 344.5,141.26 344.53,142.02 344.56,140.63 344.59,141.17 344.62,140.49 344.64,141.2 344.67,139.97 344.7,140.52 344.72,139.64 344.73,140.05 344.75,139.34 344.76,140.17 344.78,138.82 344.79,139.16 344.81,138.36 344.83,138.74 344.84,137.62 344.86,138.8 344.87,137.75 344.89,137.98 344.91,137.31 344.92,137.99 344.94,137.02 344.95,137.56 344.97,136.21 344.99,136.85 345,136.11 345.02,136.37 345.03,135.31 345.05,136.38 345.07,135.03 345.08,135.66 345.1,134.65 345.11,135.22 345.13,134.58 345.15,134.87 345.16,134.03 345.18,134.42 345.19,133.61 345.21,134.37 345.23,133.23 345.24,133.89 345.26,132.92 345.27,133.15 345.29,131.89 345.31,132.99 345.32,132.11 345.34,132.38 345.35,131.47 345.37,131.99 345.38,131.27 345.4,131.53 345.42,130.78 345.43,131.06 345.45,130.28 345.46,131.32 345.48,129.94 345.5,130.67 345.51,129.56 345.52,130.26 345.53,129.23 345.55,129.84 345.56,128.76 345.57,129.07 345.58,127.97 345.59,128.59 345.61,128.01 345.62,128.27 345.63,127.3 345.64,128.06 345.65,127.22 345.67,127.66 345.68,126.79 345.69,127.51 345.7,125.76 345.71,126.76 345.73,125.9 345.74,126.6 345.75,125.61 345.76,126.38 345.77,125.25 345.78,125.7 345.8,124.74 345.81,125.48 345.82,124.33 345.83,124.8 345.84,123.87 345.86,124.27 345.87,122.9 345.88,124.22 345.89,123.18 345.9,123.49 345.92,122.89 345.93,123.3 345.94,122.31 345.95,122.85 345.96,122 345.98,122.55 345.99,121.28 346,121.77 346.01,121.19 346.02,121.43 346.04,120.43 346.05,121.15 346.06,120.28 346.07,120.52 346.08,119.57 346.1,120.3 346.11,119.32 346.11,119.83 346.12,118.97 346.13,119.35 346.14,118.54 346.15,118.88 346.15,117.69 346.16,118.57 346.17,117.82 346.18,118.21 346.19,117.53 346.19,118.04 346.2,117.08 346.21,117.32 346.22,116.16 346.23,116.95 346.23,116.35 346.24,116.57 346.25,115.81 346.26,116.32 346.27,115.63 346.27,115.94 346.28,115.3 346.29,115.73 346.3,114.92 346.31,115.41 346.31,114.53 346.32,115.27 346.33,113.98 346.34,114.54 346.35,113.66 346.35,114.92 346.36,113.35 346.37,113.87 346.38,113.03 346.39,113.45 346.39,112.55 346.4,113.23 346.41,112.36 346.42,112.54 346.43,111.9 346.43,112.16 346.44,111.36 346.45,111.76 346.46,110.87 346.47,111.34 346.47,110.25 346.48,110.83 346.49,110.26 346.5,110.54 346.51,109.36 346.51,110.06 346.52,109.33 346.53,109.74 346.54,108.49 346.55,109.12 346.55,108.23 346.56,109.13 346.57,108.05 346.58,108.3 346.59,107.48 346.59,107.9 346.6,107.29 346.61,108.01 346.62,106.57 346.63,107.19 346.63,106.42 346.64,106.8 346.65,106.05 346.66,107.18 346.67,105.15 346.67,105.94 346.68,105.27 346.69,105.65 346.7,104.8 346.71,105.1 346.72,104.14 346.73,105.14 346.74,103.95 346.75,104.48 346.76,103.57 346.77,104.03 346.78,103.21 346.79,103.72 346.8,102.71 346.81,103.52 346.82,102.42 346.83,102.77 346.85,101.99 346.86,102.5 346.87,101.5 346.88,102.06 346.89,101.42 346.9,101.72 346.91,100.89 346.92,101.32 346.93,100.57 346.94,100.93 346.95,99.41 346.96,101.13 346.97,99.71 346.98,100.75 346.99,99.15 347.01,99.67 347.02,98.92 347.03,99.45 347.04,98.63 347.05,99.26 347.06,97.58 347.07,98.43 347.08,97.73 347.09,98.12 347.1,96.75 347.11,97.87 347.12,96.83 347.13,97.57 347.14,96.46 347.15,96.63 347.16,95.94 347.18,96.31 347.19,95.31 347.2,96.14 347.21,95.03 347.22,95.56 347.23,94.28 347.24,94.92 347.25,94.34 347.26,94.87 347.27,93.96 347.28,94.23 347.29,93.48 347.3,93.83 347.31,93.11 347.32,93.47 347.34,92.71 347.35,92.95 347.36,92.22 347.37,92.55 347.38,91.96 347.39,92.29 347.4,91.44 347.41,91.76 347.42,90.71 347.43,91.57 347.44,90.68 347.45,91.13 347.46,90.33 347.47,90.49 347.48,89.64 347.5,90.06 347.5,89.55 347.51,89.72 347.52,89.15 347.52,89.6 347.53,88.5 347.54,89.06 347.54,88.28 347.55,88.59 347.56,87.3 347.56,88.22 347.57,87.25 347.58,87.72 347.58,87.1 347.59,87.42 347.6,86.75 347.6,87.06 347.61,86.24 347.62,86.62 347.62,85.89 347.63,86.21 347.64,85.55 347.64,85.97 347.65,85.15 347.66,85.5 347.66,84.73 347.67,85.48 347.68,84.41 347.68,84.73 347.69,84.09 347.7,84.3 347.7,83.28 347.71,83.87 347.72,83.05 347.72,83.48 347.73,82.95 347.74,83.19 347.74,82.59 347.75,82.8 347.76,82.04 347.76,82.57 347.77,81.79 347.78,82.05 347.78,81.17 347.79,81.8 347.8,80.74 347.8,81.19 347.81,80.5 347.82,80.72 347.82,80.07 347.83,80.39 347.84,79.65 347.84,80.05 347.85,79.16 347.86,79.91 347.86,78.88 347.87,79.13 347.88,78.47 347.88,78.74 347.89,77.89 347.9,78.31 347.9,77.52 347.91,77.74 347.92,77.2 347.92,77.38 347.93,76.45 347.94,77.08 347.94,76.38 347.95,76.69 347.96,75.86 347.96,76.16 347.97,75.58 347.98,76.13 347.98,75.29 347.99,75.89 348,74.88 348,75.01 348.01,74.48 348.02,74.62 348.02,73.77 348.03,74.26 348.04,73.75 348.04,73.89 348.05,73.29 348.06,73.76 348.06,72.99 348.07,73.19 348.08,72.4 348.08,73.12 348.09,72.05 348.1,72.34 348.1,71.46 348.11,72.1 348.12,71.42 348.12,71.54 348.13,71.03 348.13,71.16 348.14,70.64 348.15,70.91 348.15,70.19 348.16,70.67 348.17,69.88 348.17,69.98 348.18,69.44 348.18,69.67 348.19,69.05 348.2,69.49 348.2,68.59 348.21,68.91 348.22,68.1 348.22,68.4 348.23,67.55 348.23,68.11 348.24,67.42 348.25,67.7 348.25,66.99 348.26,67.12 348.27,66.57 348.27,66.95 348.28,66.16 348.28,66.43 348.29,65.8 348.3,66.05 348.3,65.39 348.31,65.56 348.32,64.99 348.32,65.2 348.33,64.49 348.33,64.75 348.34,64.21 348.35,64.47 348.35,63.86 348.36,64 348.37,63.48 348.37,63.94 348.38,62.95 348.38,63.24 348.39,62.67 348.4,62.78 348.4,62.12 348.41,62.41 348.42,61.86 348.42,62.34 348.43,61.52 348.43,61.54 348.44,60.93 348.45,61.18 348.45,60.54 348.46,61.12 348.47,60.01 348.47,60.41 348.48,59.41 348.48,59.89 348.49,59.16 348.5,59.68 348.5,58.68 348.51,59.46 348.52,58.54 348.52,58.74 348.53,58.04 348.53,58.5 348.54,57.74 348.55,57.96 348.55,57.15 348.56,57.93 348.57,56.97 348.57,57.17 348.58,56.51 348.58,56.71 348.59,55.76 348.6,56.33 348.6,55.71 348.61,55.81 348.62,55.31 348.62,55.44 348.63,54.92 348.64,55.24 348.64,54.31 348.65,54.88 348.66,54.05 348.67,54.35 348.67,53.76 348.68,53.86 348.69,53.34 348.69,53.54 348.7,53 348.71,53.21 348.71,52.44 348.72,52.92 348.73,52.14 348.74,52.31 348.74,51.73 348.75,51.87 348.76,51.35 348.76,51.8 348.77,50.94 348.78,51.08 348.78,50.63 348.79,50.76 348.8,50.14 348.8,50.47 348.81,49.81 348.82,49.92 348.83,49.44 348.83,49.65 348.84,48.85 348.85,49.09 348.85,48.59 348.86,48.73 348.87,47.79 348.87,48.53 348.88,47.54 348.89,47.85 348.9,47.35 348.9,47.64 348.91,46.92 348.92,47 348.92,46.47 348.93,46.73 348.94,46.13 348.94,46.4 348.95,45.57 348.96,46.19 348.96,45.39 348.97,45.44 348.98,44.93 348.99,45.3 348.99,44.44 349,44.6 349.02,44.33 349.04,44.95 349.06,44.8 349.08,45.35 349.1,44.95 349.12,45.79 349.14,45.55 349.16,46.61 349.18,46.06 349.2,46.55 349.22,46.5 349.24,47.13 349.27,46.8 349.29,47.44 349.31,47.06 349.33,47.94 349.35,47.03 349.37,48.16 349.39,47.98 349.41,48.6 349.43,48.31 349.45,49.17 349.47,48.84 349.49,50.07 349.51,49.09 349.53,49.97 349.55,49.67 349.57,50.81 349.59,50.02 349.61,50.72 349.63,50.51 349.66,51.27 349.68,50.89 349.7,51.81 349.72,51.32 349.74,52.01 349.76,50.91 349.78,52.29 349.8,52 349.82,53.2 349.84,51.95 349.86,53.23 349.88,52.85 349.9,53.65 349.92,52.75 349.94,54.64 349.96,53.02 349.98,54.38 350,53.76 350.02,54.87 350.05,54.17 350.07,55.18 350.09,54.75 350.11,55.66 350.13,55.33 350.15,56.42 350.17,55.04 350.19,56.8 350.21,56.02 350.23,57.36 350.25,56.52 350.27,57.47 350.29,56.91 350.31,57.99 350.33,57.33 350.35,58.77 350.37,57.33 350.39,58.54 350.42,58.06 350.44,58.92 350.46,58.02 350.48,59.26 350.5,58.5 350.52,59.64 350.54,59.08 350.56,59.99 350.58,59.33 350.6,60.34 350.62,59.55 350.65,60.76 350.67,60.15 350.7,61 350.72,60.6 350.74,61.49 350.77,60.22 350.79,61.75 350.81,61.34 350.84,62.48 350.86,61.63 350.89,62.69 350.91,61.51 350.93,63.43 350.96,62.33 350.98,63.48 351,62.84 351.03,64.2 351.05,63.23 351.08,64.8 351.1,63.5 351.12,64.74 351.15,63.95 351.17,65.26 351.2,64.65 351.22,65.57 351.24,64.66 351.27,65.94 351.29,64.4 351.31,66.48 351.34,64.32 351.36,66.81 351.39,66.15 351.41,67.12 351.43,66.19 351.46,67.7 351.48,66.27 351.51,68.23 351.53,67.22 351.55,69.38 351.58,67.24 351.6,69.6 351.62,67.59 351.65,68.95 351.67,68.21 351.7,69.29 351.72,68.02 351.74,70.58 351.77,68.6 351.79,70.3 351.82,69.14 351.84,70.53 351.86,69.5 351.89,72.25 351.91,70.18 351.93,71.58 351.96,69.32 351.98,72.18 352.01,70.98 352.03,72.26 352.05,71.39 352.08,72.79 352.1,70.37 352.12,73.3 352.15,72.47 352.17,74.08 352.2,72.6 352.22,74.12 352.24,71.67 352.27,74.94 352.29,73.67 352.32,75.58 352.34,73.65 352.36,75.48 352.39,72.91 352.41,75.7 352.43,73.35 352.46,77.19 352.48,74.66 352.51,76.59 352.53,75.56 352.55,77.02 352.58,76.25 352.6,78.46 352.63,75.4 352.65,77.9 352.67,76.11 352.7,79.42 352.72,77 352.74,78.41 352.77,77.39 352.79,79.2 352.82,77.5 352.84,79.53 352.86,77.44 352.89,79.77 352.91,78.71 352.94,81.55 352.96,78.88 352.98,80.77 353.01,78.65 353.04,81.12 353.07,79.31 353.1,81.35 353.13,79.83 353.16,81.34 353.19,79.69 353.22,81.75 353.25,80.38 353.28,82.26 353.3,81.16 353.33,82.36 353.36,80.49 353.39,82.85 353.42,81.92 353.45,83.58 353.48,81.16 353.51,84.27 353.54,82.74 353.57,84.39 353.6,83.26 353.63,85.05 353.66,83.47 353.69,85.93 353.72,83.63 353.75,86.74 353.78,84.71 353.81,86.25 353.84,84.96 353.87,86.44 353.9,85.15 353.93,87.63 353.96,85.3 353.99,87.8 354.02,85.45 354.05,88.85 354.08,85.49 354.11,90.37 354.14,85.88 354.17,88.77 354.19,85.63 354.22,89.76 354.25,86.92 354.28,89.06 354.31,86.87 354.34,90.41 354.37,87.58 354.4,90.45 354.43,87.74 354.46,90.46 354.49,87.45 354.52,90.38 354.55,87.41 354.58,91.08 354.6,87.89 354.63,92.5 354.66,87.28 354.69,91.2 354.71,86.46 354.74,92.37 354.77,89.94 354.8,93.95 354.82,89.61 354.85,92.15 354.88,90.2 354.91,93.32 354.94,89.96 354.96,94.05 354.99,90.71 355.02,93.9 355.05,92.02 355.07,94.13 355.1,90.37 355.13,93.96 355.16,90.77 355.19,95.68 355.21,92.28 355.24,95.05 355.27,89.44 355.3,95.73 355.32,93.86 355.35,96.18 355.38,93.2 355.41,97.39 355.44,92.89 355.46,99.28 355.49,92.29 355.52,98.71 355.55,95.96 355.57,99.02 355.6,95.25 355.63,100.2 355.66,96.23 355.68,101.11 355.71,96.43 355.74,99.65 355.77,97.53 355.8,100.61 355.82,97.36 355.85,101.56 355.88,98.03 355.9,104.32 355.92,98.75 355.94,101.1 355.96,99.29 355.98,102.93 356,98.98 356.02,102.79 356.04,100.26 356.06,103.53 356.08,100.67 356.1,104.22 356.12,101.52 356.14,104.94 356.16,101.22 356.18,106.39 356.2,102.66 356.22,105.63 356.24,102.63 356.26,105.53 356.28,103.07 356.3,105.32 356.32,103.43 356.34,105.85 356.36,103.85 356.38,106.48 356.4,103.42 356.42,107.95 356.44,104.77 356.46,110.64 356.48,104.51 356.5,107.2 356.52,104.87 356.54,108.06 356.56,105.85 356.58,108.11 356.6,106.1 356.62,108.89 356.64,106.38 356.66,109.29 356.68,105.99 356.7,109.43 356.72,106.6 356.74,110.36 356.76,106.34 356.78,109.74 356.8,104.69 356.82,110.15 356.84,108.07 356.86,111.63 356.88,108.47 356.9,111.14 356.92,106.34 356.94,112.17 356.96,108.59 356.98,111.67 357,109.6 357.02,112.33 357.04,110.21 357.06,112.45 357.08,110.31 357.1,114.63 357.12,110.61 357.14,114.32 357.16,109.7 357.18,115.88 357.2,111.92 357.22,114.51 357.24,112.3 357.26,115.14 357.28,112.18 357.3,114.78 357.32,110.68 357.34,115.38 357.36,112.84 357.38,116.57 357.4,113.32 357.42,116.74 357.44,113.55 357.46,116.36 357.48,114.55 357.5,118.52 357.52,114.95 357.54,120.59 357.56,113.94 357.58,118.3 357.6,112.28 357.62,118.83 357.64,115.28 357.66,120.3 357.68,116.78 357.7,119.53 357.72,116.56 357.74,121.33 357.76,114.75 357.78,120.43 357.8,118 357.82,120.74 357.83,118.22 357.85,121.07 357.87,118.07 357.89,120.85 357.94,118.64 357.99,121.4 358.05,116.98 358.1,121.78 358.16,119.08 358.21,123.34 358.26,119.38 358.32,122.58 358.37,118.84 358.42,123.54 358.48,120.23 358.53,124.78 358.59,120.74 358.64,123.49 358.69,119.07 358.75,124.23 358.8,121.06 358.86,127.29 358.91,120.62 358.96,126.39 359.02,120.96 359.07,128.95 359.13,122.25 359.18,129.93 359.23,123.94 359.29,129.26 359.36,123.84 359.44,127.41 359.52,122.6 359.6,128.28 359.68,122.26 359.76,127.86 359.85,124.83 359.93,127.82 360.01,120.94 360.09,128.15 360.17,123.29 360.25,129.82 360.33,123.82 360.41,128.91 360.49,123.56 360.57,129.75 360.65,123.89 360.73,132.02 360.81,127.39 360.89,130.75 360.97,126.68 361.05,132.29 361.13,127.28 361.21,134.69 361.3,127.45 361.38,133.22 361.46,125.68 361.55,133.29 361.67,126.6 361.78,132.89 361.9,127.15 362.01,133.95 362.13,130.53 362.24,133.83 362.36,129.2 362.47,134.32 362.58,130.87 362.7,134.15 362.81,128.7 362.93,134.88 363.04,129.53 363.16,135.26 363.27,129.78 363.39,139.35 363.5,131.06 363.62,135.75 363.73,130.83 363.85,136.44 363.96,127.14 364.08,135.18 364.19,130.69 364.31,134.95 364.42,131.64 364.53,137.41 364.65,129.15 364.76,135.89 364.88,131.4 364.99,135.4 365.12,131.87 365.24,136.93 365.36,130.92 365.48,142.77 365.61,129.32 365.73,139.45 365.85,132.73 365.98,136.71 366.1,133.52 366.22,137.6 366.34,127.91 366.47,143.31 366.59,131.83 366.71,138.07 366.83,131.49 366.96,142.65 367.08,132.89 367.2,139.6 367.33,134.07 367.45,143.59 367.57,133.5 367.69,145.14 367.82,134.35 367.94,139.48 368.06,133.68 368.19,141.42 368.31,135.4 368.43,145.42 368.57,136.75 368.73,142.11 368.9,134.15 369.06,141.69 369.22,132.89 369.38,141.36 369.55,134.34 369.71,141.06 369.87,134.02 370.04,141.59 370.2,133.47 370.36,143.85 370.52,135.88 370.69,144.09 370.85,138.89 371.01,145.28 371.18,135.1 371.34,147.43 371.5,138.85 371.66,143.68 371.83,128.35 371.99,144.48 372.17,140.04 372.36,143.1 372.55,139.29 372.74,150.81 372.92,137.7 373.11,148.28 373.3,135.6 373.49,145.15 373.67,136.31 373.86,147.06 374.05,140.09 374.23,147.54 374.42,137.69 374.61,150.38 374.8,140.25 374.98,146.96 375.17,139.63 375.36,147.73 375.55,136.73 375.73,150.79 375.92,136.39 376.11,148.28 376.29,140.05 376.48,147.01 376.67,137.32 376.86,149.47 377.04,137.46 377.23,150.18 377.42,144.16 377.61,148.28 377.79,144.26 377.98,148.61 378.17,143.7 378.35,153.3 378.54,142.33 378.73,153.07 378.92,144.84 379.1,154.44 379.29,144.94 379.48,152.69 379.67,140.45 379.85,150.94 380.04,145.87 380.23,151.62 380.42,145.86 380.62,150.96 380.81,142.95 381,151.28 381.19,144.02 381.38,150.75 381.57,144.9 381.76,151.09 381.96,145.05 382.15,155.6 382.34,143.57 382.53,149.94 382.72,143.6 382.91,149.12 383.11,145.2 383.3,151.49 383.49,145.42 383.68,156.23 383.87,143.93 384.06,151.03 384.25,143.87 384.45,153.21 384.64,143.95 384.83,149.21 385.02,143.01 385.22,153.47 385.42,143.41 385.61,148.85 385.81,144.62 386.01,148.23 386.2,144.91 386.4,150.07 386.6,143.57 386.79,149.53 386.99,145.23 387.19,154.28 387.38,144.21 387.58,153.02 387.78,145.65 387.97,153.68 388.17,140.84 388.37,150.24 388.56,142 388.76,150.68 388.96,142.6 389.16,156.92 389.35,141.7 389.55,152.91 389.75,145.9 389.94,153.27 390.14,144.05 390.34,150.67 390.53,144.15 390.73,150.78 390.93,142.59 391.12,153.03 391.32,146.98 391.52,152.28 391.71,146.73 391.91,151.9 392.11,144.47 392.3,155.32 392.5,145.46 392.7,152.04 392.9,139.01 393.09,153.88 393.29,145.51 393.49,155.72 393.68,142.95 393.88,151.08 394.08,146.07 394.27,156.61 394.47,142.89 394.67,150.97 394.86,141.4 395.06,150.98 395.26,146.48 395.45,150.99 395.65,145.42 395.85,151.31 396.04,143.41 396.24,155.47 396.44,146.47 396.64,153.42 396.83,146 397.03,150.24 397.23,145.4 397.42,150.29 397.62,140.59 397.82,151.39 398.01,141.56 398.21,150.65 398.41,145.34 398.6,151.58 398.8,145.79 399,151.47 399.19,145.85 399.39,150.35 399.59,145.15 399.78,150.93 399.98,144.01 400.18,159.79 400.38,147.22 400.58,151.37 400.78,147.35 400.98,153.69 401.18,143.76 401.38,155.65 401.58,146.83 401.78,151.92 401.98,146.78 402.18,155.94 402.38,145.59 402.58,151.9 402.78,146.41 402.98,152.08 403.18,144.89 403.38,153.27 403.58,146.27 403.78,150.67 403.98,145.9 404.18,154.03 404.38,141.49 404.58,153.58 404.78,142.52 404.98,150.78 405.18,146.2 405.38,150.9 405.58,146.76 405.78,150.91 405.98,145.51 406.18,151.64 406.38,147.13 406.58,158.08 406.78,146.34 406.98,154.15 407.18,146.41 407.38,152.12 407.58,145.66 407.78,151.87 407.98,144.31 408.18,153.83 408.38,146.49 408.58,151.14 408.78,146.13 408.98,156.66 409.18,145.04 409.38,152.05 409.58,144 409.78,151.78 409.98,146.91 410.18,151.57 410.37,143.71 410.57,153.03 410.77,145.04 410.97,151.33 411.17,146.31 411.37,156.07 411.57,139.66 411.77,152.54 411.97,146.06 412.17,154.14 412.36,146.44 412.56,151.38 412.76,146.82 412.96,155 413.16,144.62 413.36,154.02 413.56,143.38 413.76,152.57 413.96,145.53 414.16,153.63 414.35,142.9 414.55,152.26 414.75,143.78 414.95,151.62 415.15,147.08 415.35,152.79 415.55,143.92 415.75,154.69 415.95,147.07 416.15,154.08 416.34,144.62 416.54,151.68 416.74,144.4 416.94,151.84 417.14,145 417.34,151.63 417.54,146.21 417.74,151.18 417.94,146.31 418.14,151.66 418.33,143.92 418.53,152.71 418.73,145.6 418.93,150.86 419.13,146.39 419.33,151.26 419.53,146.4 419.73,156.09 419.93,145.09 420.13,154.02 420.33,142.62 420.52,151.71 420.72,144.96 420.92,149.01 421.12,142.97 421.32,149.57 421.52,144.73 421.72,151.09 421.92,143.33 422.12,148.01 422.32,144.09 422.51,153.16 422.71,141.33 422.91,147.97 423.11,143.07 423.31,147.71 423.51,140.45 423.71,148.81 423.91,141.95 424.11,150 424.31,141.75 424.5,150.39 424.7,142.24 424.9,150.15 425.1,143.18 425.3,148.15 425.5,142.63 425.7,149.35 425.9,140.28 426.1,154.29 426.3,141.14 426.49,147.95 426.69,140.79 426.89,148.2 427.09,139.3 427.29,150.06 427.49,142.47 427.69,147.52 427.89,141.46 428.09,149.61 428.29,142.02 428.48,148.41 428.68,142.93 428.88,152.14 429.08,142.72 429.28,148.25 429.48,142.56 429.68,148.53 429.88,136.58 430.08,148.4 430.28,143.38 430.48,154.7 430.68,144 430.88,150.63 431.08,142.16 431.28,149.85 431.47,143.78 431.67,150.89 431.87,143.51 432.07,150.44 432.27,144.87 432.47,149.43 432.67,142.75 432.87,154.81 433.07,144.15 433.27,150.57 433.47,144.06 433.67,150.32 433.87,143.64 434.07,149.48 434.27,144.33 434.47,149.68 434.67,144.89 434.87,150.73 435.07,144.76 435.27,150.18 435.47,144.77 435.67,150.36 435.87,144.68 436.07,151.86 436.27,144.69 436.47,150.6 436.67,141.8 436.87,152.73 437.07,141.72 437.27,148.17 437.47,143.65 437.67,153.27 437.87,141.95 438.07,148.16 438.27,142.28 438.47,153.09 438.67,135.7 438.87,149.9 439.07,138.34 439.27,151.37 439.46,138.56 439.66,147.92 439.86,142.89 440.06,151.76 440.26,143 440.46,148.62 440.66,141.01 440.85,149.63 441.05,142.86 441.25,148.06 441.45,140.48 441.65,153.56 441.84,135.99 442.04,148.26 442.24,142.56 442.44,147.41 442.63,142.75 442.83,156.09 443.03,142.89 443.23,149.99 443.43,142 443.62,150.17 443.82,142.58 444.02,151.28 444.22,142.45 444.41,148.62 444.61,141.44 444.81,148.84 445.01,143.4 445.21,151.14 445.4,142.84 445.6,152.14 445.8,143.54 446,148.85 446.19,141.71 446.39,152.44 446.59,143.16 446.79,150.06 446.99,142.54 447.18,153.92 447.38,142.68 447.58,152 447.78,143.82 447.98,148.09 448.17,140.01 448.37,150.4 448.57,142.44 448.77,148.36 448.96,140.56 449.16,152.94 449.36,143.26 449.56,151.44 449.76,137.02 449.95,153.86 450.15,140.67 450.34,148.34 450.53,142.35 450.72,148.88 450.91,142.6 451.1,147.98 451.3,140.35 451.49,148.56 451.68,134.39 451.87,147.86 452.06,143.06 452.25,149.78 452.44,142.03 452.64,146.66 452.83,136.04 453.02,146.66 453.21,142.55 453.4,146.16 453.59,142.64 453.79,149.17 453.98,137.91 454.17,146.97 454.36,140.97 454.55,146.79 454.74,142.09 454.94,146.38 455.13,142.03 455.32,147.24 455.51,139.83 455.7,149.51 455.89,141.55 456.08,149.01 456.28,140.98 456.47,147.44 456.66,140.69 456.85,147.04 457.04,141.72 457.23,147.23 457.43,136.52 457.62,147.84 457.81,141.3 458,145.62 458.19,138.85 458.38,146.94 458.57,140.03 458.77,145.96 458.96,139.04 459.15,144.57 459.34,140.52 459.53,144.35 459.72,139.4 459.92,150.95 460.11,137.26 460.3,144.34 460.49,137.59 460.68,151.24 460.87,139.56 461.07,144.38 461.26,136.29 461.45,144.59 461.64,136.61 461.83,146.57 462.02,140.4 462.21,144.23 462.41,138.61 462.6,144.3 462.79,138.24 462.98,144.23 463.17,140.03 463.36,146.85 463.56,139.67 463.75,145.55 463.94,140.12 464.13,145.98 464.32,140.41 464.51,144.94 464.7,140.08 464.9,146.41 465.09,140.42 465.28,146.35 465.48,140.2 465.67,146.59 465.86,140 466.06,144.66 466.25,138.32 466.44,145.91 466.63,139.79 466.83,149.23 467.02,135.51 467.21,149.53 467.41,140.42 467.6,151.38 467.79,135.17 467.99,149.97 468.18,133.9 468.37,144.7 468.57,138.79 468.76,146.01 468.95,134.52 469.15,144.22 469.34,137.98 469.53,151.08 469.73,139.7 469.92,148.67 470.11,139.24 470.31,145.4 470.5,139.94 470.69,152.22 470.89,135.24 471.08,148.74 471.27,135.87 471.47,144.89 471.66,136.82 471.85,144.06 472.05,138.34 472.24,144.93 472.43,133.65 472.63,145.19 472.82,131.11 473.01,143.34 473.21,136.12 473.4,144.29 473.59,135.51 473.78,142.37 473.98,136.27 474.17,146.49 474.36,135.74 474.56,139.88 474.75,132.03 474.94,141.89 475.14,134.82 475.33,143.43 475.52,132.48 475.72,140.15 475.91,133.6 476.1,141.25 476.3,129.32 476.49,141.98 476.68,130.17 476.88,139.42 477.07,134.2 477.26,145.27 477.46,133.91 477.65,139.59 477.84,133.53 478.04,142.21 478.23,129.65 478.42,139.06 478.62,127.28 478.81,139.98 479,134.39 479.2,144.98 479.39,133.14 479.58,139.1 479.78,132.86 479.97,140.54 480.16,133.77 480.36,141.02 480.56,133.64 480.75,140.42 480.95,133.69 481.15,138.91 481.34,130.97 481.54,139.24 481.73,132.8 481.93,138.29 482.13,132.51 482.32,137.28 482.52,133.24 482.71,138.82 482.91,131.27 483.11,139.61 483.3,128.32 483.5,138.67 483.69,131.78 483.89,140.45 484.09,131.77 484.28,142.45 484.48,132.6 484.68,141.43 484.87,133.64 485.07,140.69 485.26,128.37 485.46,145.17 485.66,134.72 485.85,138.21 486.05,132.25 486.24,138.6 486.44,130.59 486.64,141.25 486.83,133.39 487.03,139.28 487.22,134.05 487.42,140.34 487.62,134.87 487.81,140.32 488.01,134.71 488.21,139.91 488.4,132.18 488.6,139.71 488.79,133.24 488.99,141.12 489.19,134.25 489.38,138.65 489.58,133.09 489.77,138.85 489.97,130.8 490.17,140.37 490.36,132.59 490.56,137.9 490.75,132.84 490.95,141.48 491.15,129.61 491.34,136.64 491.54,131.48 491.74,136.8 491.93,130.03 492.13,139.22 492.32,132.11 492.52,139.11 492.72,130.66 492.91,136.68 493.11,129.22 493.3,139.62 493.5,129.71 493.7,136.91 493.89,128.35 494.09,136.12 494.28,130.14 494.48,136.17 494.68,130.26 494.87,136.1 495.07,130.67 495.27,136.54 495.46,129.79 495.66,135.96 495.85,129.59 496.05,140.89 496.25,129.28 496.44,138.85 496.64,124.18 496.83,143.05 497.03,128.48 497.23,141.4 497.42,129.79 497.62,142.12 497.81,130.32 498.01,136.6 498.21,131.36 498.4,139.4 498.6,128.44 498.8,136.47 498.99,125.69 499.19,135.34 499.38,128.9 499.58,138.93 499.78,126.33 499.97,137.84 500.17,127.11 500.37,140.64 500.57,122.23 500.77,143.26 500.97,125.53 501.17,134.21 501.36,129.21 501.56,135.77 501.76,128.93 501.96,137.37 502.16,128.97 502.36,133.87 502.56,129.84 502.76,134.97 502.96,129.14 503.16,141.45 503.35,126.37 503.55,134.95 503.75,130.54 503.95,135.02 504.15,125.13 504.35,136.05 504.55,126.35 504.75,136.62 504.95,130.41 505.15,137.13 505.35,127.55 505.54,137.87 505.74,131.92 505.94,137.89 506.14,124.68 506.34,143.02 506.54,131.02 506.74,138.1 506.94,130.66 507.14,136.67 507.34,127.62 507.53,138.41 507.73,129.72 507.93,137.08 508.13,130.31 508.33,137.8 508.53,131.07 508.73,138.49 508.93,130.42 509.13,138.95 509.33,131.33 509.52,137.85 509.72,130.72 509.92,137.97 510.12,132.98 510.32,142.45 510.52,132.67 510.72,138.51 510.92,128.91 511.12,136.93 511.32,132.01 511.51,139.15 511.71,132.14 511.91,137.3 512.11,126.29 512.31,136.68 512.51,129.87 512.71,139.92 512.91,126.27 513.11,135.47 513.31,128.39 513.5,136.41 513.7,129.29 513.9,142.14 514.1,128.94 514.3,139.48 514.5,128.36 514.7,140.25 514.9,124.05 515.1,134.73 515.3,128.91 515.49,138.96 515.69,128.91 515.89,142.53 516.09,128.36 516.29,136.32 516.49,128.82 516.69,138.05 516.89,123.06 517.09,134.88 517.29,130.17 517.48,142.18 517.68,129.98 517.88,134.51 518.08,130.36 518.28,139.87 518.48,127.2 518.68,136.51 518.88,130.29 519.08,134.47 519.28,126.84 519.47,133.89 519.67,129.62 519.87,134.14 520.07,127.69 520.27,134.57 520.47,129.45 520.66,138.92 520.86,128.83 521.06,134.08 521.26,129 521.46,133.28 521.65,129.03 521.85,139.57 522.05,127.71 522.25,136.32 522.45,127.94 522.64,135.78 522.84,129.08 523.04,133.22 523.24,128.28 523.44,134.78 523.63,126.8 523.83,134.03 524.03,126.25 524.23,133.73 524.42,127.67 524.62,133.7 524.82,124.8 525.02,131.98 525.22,127.28 525.41,134.85 525.61,126.63 525.81,134.45 526.01,126.42 526.21,132.07 526.4,126.32 526.6,133.94 526.8,126.49 527,136.49 527.19,124.21 527.39,135.79 527.59,126.18 527.79,131.4 527.99,124.66 528.18,133.48 528.38,125.76 528.58,135.28 528.78,127.69 528.98,132.56 529.17,126.01 529.37,137.31 529.57,127.72 529.77,135.93 529.96,126.93 530.16,133.91 530.36,125.34 530.56,135.26 530.76,125.82 530.95,138.97 531.15,126.65 531.35,133.17 531.55,127.22 531.75,132.67 531.94,127.99 532.14,132.39 532.34,128.16 532.54,132.1 532.73,125.86 532.93,132.95 533.13,128.99 533.33,135.25 533.53,126.55 533.72,136.76 533.92,128.86 534.12,132.5 534.32,120.95 534.52,133.74 534.71,120.14 534.91,136.47 535.11,122.96 535.31,139.09 535.51,127.24 535.7,138.88 535.9,125.5 536.1,133.58 536.3,126.36 536.49,134.01 536.69,119.65 536.89,136.2" fill="none" stroke="#12aca6" stroke-width="1.35" stroke-linejoin="round" clip-path="url(#cTR)" />
<polyline points="330,184.83 330.09,185.1 330.18,184.32 330.28,184.72 330.37,184.05 330.46,184.37 330.55,183.8 330.64,183.93 330.74,183.39 330.83,183.64 330.92,182.92 331.01,183.48 331.1,182.51 331.2,182.87 331.29,182.12 331.38,183.07 331.47,181.49 331.57,182.15 331.66,181.12 331.75,181.8 331.84,181.17 331.93,181.92 332.03,180.7 332.12,181.26 332.21,180.09 332.3,180.76 332.39,179.88 332.49,180.72 332.58,179.81 332.67,180.12 332.76,179.29 332.85,179.8 332.95,178.74 333.04,179.43 333.13,178.75 333.22,179.49 333.31,178.41 333.41,179.2 333.5,178.05 333.59,178.36 333.68,177.66 333.77,177.92 333.87,177.21 333.96,178.27 334.05,176.57 334.14,177.78 334.23,176.69 334.33,176.9 334.42,176.26 334.51,176.59 334.6,175.94 334.7,176.08 334.79,174.97 334.88,176.15 334.97,174.94 335.06,175.36 335.16,174.77 335.25,175.23 335.34,174.35 335.43,175.48 335.52,174.06 335.62,174.69 335.71,173.8 335.8,174.14 335.89,173.2 335.98,173.99 336.08,173.12 336.17,173.38 336.26,172.74 336.35,173 336.44,172.46 336.54,172.94 336.63,171.95 336.72,172.36 336.81,171.16 336.9,172.06 337,171.35 337.08,171.71 337.16,170.86 337.23,171.39 337.31,170.63 337.39,170.84 337.47,170.2 337.55,170.82 337.63,169.84 337.71,170.19 337.79,169.28 337.87,169.78 337.95,168.69 338.03,169.29 338.11,168.28 338.18,169.3 338.26,168.14 338.34,169.01 338.42,167.51 338.5,168.42 338.58,167.45 338.66,167.91 338.74,166.78 338.82,167.49 338.9,166.39 338.98,166.97 339.05,166.4 339.13,166.53 339.21,165.85 339.29,166.39 339.37,165.46 339.45,165.89 339.53,165.27 339.61,165.58 339.69,164.77 339.77,165.49 339.84,164.12 339.9,164.89 339.96,163.85 340.02,165.09 340.08,163.74 340.14,164.14 340.2,162.95 340.26,164.12 340.32,163.09 340.38,163.56 340.44,162.67 340.51,163.28 340.57,162.33 340.63,162.74 340.69,161.75 340.75,162.29 340.81,161.54 340.87,162.3 340.93,160.56 340.99,161.83 341.05,160.52 341.12,161.03 341.18,160.36 341.24,160.77 341.3,159.95 341.36,160.72 341.41,159.63 341.45,160.21 341.49,158.85 341.52,159.66 341.56,158.69 341.6,159.78 341.64,157.94 341.67,158.94 341.71,158.03 341.75,158.49 341.79,157.64 341.82,158.17 341.86,156.81 341.9,157.5 341.93,156.93 341.97,157.27 342.01,156.51 342.05,156.92 342.08,156.2 342.12,156.44 342.16,155.55 342.2,156.17 342.23,155.45 342.27,156.13 342.31,154.98 342.35,155.45 342.38,154.74 342.42,155.09 342.46,153.88 342.49,154.7 342.53,153.76 342.57,154.28 342.61,153.46 342.64,153.84 342.68,153.08 342.72,153.34 342.76,152.6 342.79,153.16 342.83,152.31 342.87,152.53 342.91,151.72 342.94,152.17 342.98,150.96 343.02,151.73 343.05,150.91 343.09,151.42 343.13,150.25 343.17,151.4 343.2,149.99 343.24,150.67 343.28,149.85 343.31,150.12 343.34,149.31 343.37,149.85 343.4,148.98 343.42,149.51 343.45,148.75 343.48,149.14 343.51,148.31 343.53,148.67 343.56,147.93 343.59,148.74 343.62,147.53 343.64,147.9 343.67,147.19 343.7,147.71 343.73,146.72 343.76,147.27 343.78,146.45 343.81,146.74 343.84,145.95 343.87,146.35 343.89,145.72 343.92,146.26 343.95,145.02 343.98,146.21 344.01,144.75 344.03,145.24 344.06,144.4 344.09,145.09 344.12,144.12 344.14,144.32 344.17,143.57 344.2,144.15 344.23,142.28 344.25,143.58 344.28,142.86 344.31,143.12 344.34,142.48 344.37,142.68 344.39,141.38 344.42,142.42 344.45,141.06 344.48,141.86 344.5,141.26 344.53,142.02 344.56,140.63 344.59,141.17 344.62,140.49 344.64,141.2 344.67,139.97 344.7,140.52 344.72,139.64 344.73,140.05 344.75,139.34 344.76,140.17 344.78,138.82 344.79,139.16 344.81,138.36 344.83,138.74 344.84,137.62 344.86,138.8 344.87,137.75 344.89,137.98 344.91,137.31 344.92,137.99 344.94,137.02 344.95,137.56 344.97,136.21 344.99,136.85 345,136.11 345.02,136.37 345.03,135.31 345.05,136.38 345.07,135.03 345.08,135.66 345.1,134.65 345.11,135.22 345.13,134.58 345.15,134.87 345.16,134.03 345.18,134.42 345.19,133.61 345.21,134.37 345.23,133.23 345.24,133.89 345.26,132.92 345.27,133.15 345.29,131.89 345.31,132.99 345.32,132.11 345.34,132.38 345.35,131.47 345.37,131.99 345.38,131.27 345.4,131.53 345.42,130.78 345.43,131.06 345.45,130.28 345.46,131.32 345.48,129.94 345.5,130.67 345.51,129.56 345.52,130.26 345.53,129.23 345.55,129.84 345.56,128.76 345.57,129.07 345.58,127.97 345.59,128.59 345.61,128.01 345.62,128.27 345.63,127.3 345.64,128.06 345.65,127.22 345.67,127.66 345.68,126.79 345.69,127.51 345.7,125.76 345.71,126.76 345.73,125.9 345.74,126.6 345.75,125.61 345.76,126.38 345.77,125.25 345.78,125.7 345.8,124.74 345.81,125.48 345.82,124.33 345.83,124.8 345.84,123.87 345.86,124.27 345.87,122.9 345.88,124.22 345.89,123.18 345.9,123.49 345.92,122.89 345.93,123.3 345.94,122.31 345.95,122.85 345.96,122 345.98,122.55 345.99,121.28 346,121.77 346.01,121.19 346.02,121.43 346.04,120.43 346.05,121.15 346.06,120.28 346.07,120.52 346.08,119.57 346.1,120.3 346.11,119.32 346.11,119.83 346.12,118.97 346.13,119.35 346.14,118.54 346.15,118.88 346.15,117.69 346.16,118.57 346.17,117.82 346.18,118.21 346.19,117.53 346.19,118.04 346.2,117.08 346.21,117.32 346.22,116.16 346.23,116.95 346.23,116.35 346.24,116.57 346.25,115.81 346.26,116.32 346.27,115.63 346.27,115.94 346.28,115.3 346.29,115.73 346.3,114.92 346.31,115.41 346.31,114.53 346.32,115.27 346.33,113.98 346.34,114.54 346.35,113.66 346.35,114.92 346.36,113.35 346.37,113.87 346.38,113.03 346.39,113.45 346.39,112.55 346.4,113.23 346.41,112.36 346.42,112.54 346.43,111.9 346.43,112.16 346.44,111.36 346.45,111.76 346.46,110.87 346.47,111.34 346.47,110.25 346.48,110.83 346.49,110.26 346.5,110.54 346.51,109.36 346.51,110.06 346.52,109.33 346.53,109.74 346.54,108.49 346.55,109.12 346.55,108.23 346.56,109.13 346.57,108.05 346.58,108.3 346.59,107.48 346.59,107.9 346.6,107.29 346.61,108.01 346.62,106.57 346.63,107.19 346.63,106.42 346.64,106.8 346.65,106.05 346.66,107.18 346.67,105.15 346.67,105.94 346.68,105.27 346.69,105.65 346.7,104.8 346.71,105.1 346.72,104.14 346.73,105.14 346.74,103.95 346.75,104.48 346.76,103.57 346.77,104.03 346.78,103.21 346.79,103.72 346.8,102.71 346.81,103.52 346.82,102.42 346.83,102.77 346.85,101.99 346.86,102.5 346.87,101.5 346.88,102.06 346.89,101.42 346.9,101.72 346.91,100.89 346.92,101.32 346.93,100.57 346.94,100.93 346.95,99.41 346.96,101.13 346.97,99.71 346.98,100.75 346.99,99.15 347.01,99.67 347.02,98.92 347.03,99.45 347.04,98.63 347.05,99.26 347.06,97.58 347.07,98.43 347.08,97.73 347.09,98.12 347.1,96.75 347.11,97.87 347.12,96.83 347.13,97.57 347.14,96.46 347.15,96.63 347.16,95.94 347.18,96.31 347.19,95.31 347.2,96.14 347.21,95.03 347.22,95.56 347.23,94.28 347.24,94.92 347.25,94.34 347.26,94.87 347.27,93.96 347.28,94.23 347.29,93.48 347.3,93.83 347.31,93.11 347.32,93.47 347.34,92.71 347.35,92.95 347.36,92.22 347.37,92.55 347.38,91.96 347.39,92.29 347.4,91.44 347.41,91.76 347.42,90.71 347.43,91.57 347.44,90.68 347.45,91.13 347.46,90.33 347.47,90.49 347.48,89.64 347.5,90.06 347.5,89.55 347.51,89.72 347.52,89.15 347.52,89.6 347.53,88.5 347.54,89.06 347.54,88.28 347.55,88.59 347.56,87.3 347.56,88.22 347.57,87.25 347.58,87.72 347.58,87.1 347.59,87.42 347.6,86.75 347.6,87.06 347.61,86.24 347.62,86.62 347.62,85.89 347.63,86.21 347.64,85.55 347.64,85.97 347.65,85.15 347.66,85.5 347.66,84.73 347.67,85.48 347.68,84.41 347.68,84.73 347.69,84.09 347.7,84.3 347.7,83.28 347.71,83.87 347.72,83.05 347.72,83.48 347.73,82.95 347.74,83.19 347.74,82.59 347.75,82.8 347.76,82.04 347.76,82.57 347.77,81.79 347.78,82.05 347.78,81.17 347.79,81.8 347.8,80.74 347.8,81.19 347.81,80.5 347.82,80.72 347.82,80.07 347.83,80.39 347.84,79.65 347.84,80.05 347.85,79.16 347.86,79.91 347.86,78.88 347.87,79.13 347.88,78.47 347.88,78.74 347.89,77.89 347.9,78.31 347.9,77.52 347.91,77.74 347.92,77.2 347.92,77.38 347.93,76.45 347.94,77.08 347.94,76.38 347.95,76.69 347.96,75.86 347.96,76.16 347.97,75.58 347.98,76.13 347.98,75.29 347.99,75.89 348,74.88 348,75.01 348.01,74.48 348.02,74.62 348.02,73.77 348.03,74.26 348.04,73.75 348.04,73.89 348.05,73.29 348.06,73.76 348.06,72.99 348.07,73.19 348.08,72.4 348.08,73.12 348.09,72.05 348.1,72.34 348.1,71.46 348.11,72.1 348.12,71.42 348.12,71.54 348.13,71.03 348.13,71.16 348.14,70.64 348.15,70.91 348.15,70.19 348.16,70.67 348.17,69.88 348.17,69.98 348.18,69.44 348.18,69.67 348.19,69.05 348.2,69.49 348.2,68.59 348.21,68.91 348.22,68.1 348.22,68.4 348.23,67.55 348.23,68.11 348.24,67.42 348.25,67.7 348.25,66.99 348.26,67.12 348.27,66.57 348.27,66.95 348.28,66.16 348.28,66.43 348.29,65.8 348.3,66.05 348.3,65.39 348.31,65.56 348.32,64.99 348.32,65.2 348.33,64.49 348.33,64.75 348.34,64.21 348.35,64.47 348.35,63.86 348.36,64 348.37,63.48 348.37,63.94 348.38,62.95 348.38,63.24 348.39,62.67 348.4,62.78 348.4,62.12 348.41,62.41 348.42,61.86 348.42,62.34 348.43,61.52 348.43,61.54 348.44,60.93 348.45,61.18 348.45,60.54 348.46,61.12 348.47,60.01 348.47,60.41 348.48,59.41 348.48,59.89 348.49,59.16 348.5,59.68 348.5,58.68 348.51,59.46 348.52,58.54 348.52,58.74 348.53,58.04 348.53,58.5 348.54,57.74 348.55,57.96 348.55,57.15 348.56,57.93 348.57,56.97 348.57,57.17 348.58,56.51 348.58,56.71 348.59,55.76 348.6,56.33 348.6,55.71 348.61,55.81 348.62,55.31 348.62,55.44 348.63,54.92 348.64,55.24 348.64,54.31 348.65,54.88 348.66,54.05 348.67,54.35 348.67,53.76 348.68,53.86 348.69,53.34 348.69,53.54 348.7,53 348.71,53.21 348.71,52.44 348.72,52.92 348.73,52.14 348.74,52.31 348.74,51.73 348.75,51.87 348.76,51.35 348.76,51.8 348.77,50.94 348.78,51.08 348.78,50.63 348.79,50.76 348.8,50.14 348.8,50.47 348.81,49.81 348.82,49.92 348.83,49.44 348.83,49.65 348.84,48.85 348.85,49.09 348.85,48.59 348.86,48.73 348.87,47.79 348.87,48.53 348.88,47.54 348.89,47.85 348.9,47.35 348.9,47.64 348.91,46.92 348.92,47 348.92,46.47 348.93,46.73 348.94,46.13 348.94,46.4 348.95,45.57 348.96,46.19 348.96,45.39 348.97,45.44 348.98,44.93 348.99,45.3 348.99,44.44 349,44.6 349.02,44.33 349.04,44.95 349.06,44.8 349.08,45.35 349.1,44.95 349.12,45.79 349.14,45.55 349.16,46.61 349.18,46.06 349.2,46.55 349.22,46.5 349.24,47.13 349.27,46.8 349.29,47.44 349.31,47.06 349.33,47.94 349.35,47.03 349.37,48.16 349.39,47.98 349.41,48.6 349.43,48.31 349.45,49.17 349.47,48.84 349.49,50.07 349.51,49.09 349.53,49.97 349.55,49.67 349.57,50.81 349.59,50.02 349.61,50.72 349.63,50.51 349.66,51.27 349.68,50.89 349.7,51.81 349.72,51.32 349.74,52.01 349.76,50.91 349.78,52.29 349.8,52 349.82,53.2 349.84,51.95 349.86,53.23 349.88,52.85 349.9,53.65 349.92,52.75 349.94,54.64 349.96,53.02 349.98,54.38 350,53.76 350.02,54.87 350.05,54.17 350.07,55.18 350.09,54.75 350.11,55.66 350.13,55.33 350.15,56.42 350.17,55.04 350.19,56.8 350.21,56.02 350.23,57.36 350.25,56.52 350.27,57.47 350.29,56.91 350.31,57.99 350.33,57.33 350.35,58.77 350.37,57.33 350.39,58.54 350.42,58.06 350.44,58.92 350.46,58.02 350.48,59.26 350.5,58.5 350.52,59.64 350.54,59.08 350.56,59.99 350.58,59.33 350.6,60.34 350.62,59.55 350.65,60.76 350.67,60.15 350.7,61 350.72,60.6 350.74,61.49 350.77,60.22 350.79,61.75 350.81,61.34 350.84,62.48 350.86,61.63 350.89,62.69 350.91,61.51 350.93,63.43 350.96,62.33 350.98,63.48 351,62.84 351.03,64.2 351.05,63.23 351.08,64.8 351.1,63.5 351.12,64.74 351.15,63.95 351.17,65.26 351.2,64.65 351.22,65.57 351.24,64.66 351.27,65.94 351.29,64.4 351.31,66.48 351.34,64.32 351.36,66.81 351.39,66.15 351.41,67.12 351.43,66.19 351.46,67.7 351.48,66.27 351.51,68.23 351.53,67.22 351.55,69.38 351.58,67.24 351.6,69.6 351.62,67.59 351.65,68.95 351.67,68.21 351.7,69.29 351.72,68.02 351.74,70.58 351.77,68.6 351.79,70.3 351.82,69.14 351.84,70.53 351.86,69.5 351.89,72.25 351.91,70.18 351.93,71.58 351.96,69.32 351.98,72.18 352.01,70.98 352.03,72.26 352.05,71.39 352.08,72.79 352.1,70.37 352.12,73.3 352.15,72.47 352.17,74.08 352.2,72.6 352.22,74.12 352.24,71.67 352.27,74.94 352.29,73.67 352.32,75.58 352.34,73.65 352.36,75.48 352.39,72.91 352.41,75.7 352.43,73.35 352.46,77.19 352.48,74.66 352.51,76.59 352.53,75.56 352.55,77.02 352.58,76.25 352.6,78.46 352.63,75.4 352.65,77.9 352.67,76.11 352.7,79.42 352.72,77 352.74,78.41 352.77,77.39 352.79,79.2 352.82,77.5 352.84,79.53 352.86,77.44 352.89,79.77 352.91,78.71 352.94,81.55 352.96,78.88 352.98,80.77 353.01,78.65 353.04,81.12 353.07,79.31 353.1,81.35 353.13,79.83 353.16,81.34 353.19,79.69 353.22,81.75 353.25,80.38 353.28,82.26 353.3,81.16 353.33,82.36 353.36,80.49 353.39,82.85 353.42,81.92 353.45,83.58 353.48,81.16 353.51,84.27 353.54,82.74 353.57,84.39 353.6,83.26 353.63,85.05 353.66,83.47 353.69,85.93 353.72,83.63 353.75,86.74 353.78,84.71 353.81,86.25 353.84,84.96 353.87,86.44 353.9,85.15 353.93,87.63 353.96,85.3 353.99,87.8 354.02,85.45 354.05,88.85 354.08,85.49 354.11,90.37 354.14,85.88 354.17,88.77 354.19,85.63 354.22,89.76 354.25,86.92 354.28,89.06 354.31,86.87 354.34,90.41 354.37,87.58 354.4,90.45 354.43,87.74 354.46,90.46 354.49,87.45 354.52,90.38 354.55,87.41 354.58,91.08 354.6,87.89 354.63,92.5 354.66,87.28 354.69,91.2 354.71,86.46 354.74,92.37 354.77,89.94 354.8,93.95 354.82,89.61 354.85,92.15 354.88,90.2 354.91,93.32 354.94,89.96 354.96,94.05 354.99,90.71 355.02,93.9 355.05,92.02 355.07,94.13 355.1,90.37 355.13,93.96 355.16,90.77 355.19,95.68 355.21,92.28 355.24,95.05 355.27,89.44 355.3,95.73 355.32,93.86 355.35,96.18 355.38,93.2 355.41,97.39 355.44,92.89 355.46,99.28 355.49,92.29 355.52,98.71 355.55,95.96 355.57,99.02 355.6,95.25 355.63,100.2 355.66,96.23 355.68,101.11 355.71,96.43 355.74,99.65 355.77,97.53 355.8,100.61 355.82,97.36 355.85,101.56 355.88,98.03 355.9,104.32 355.92,98.75 355.94,101.1 355.96,99.29 355.98,102.93 356,98.98 356.02,102.79 356.04,100.26 356.06,103.53 356.08,100.67 356.1,104.22 356.12,101.52 356.14,104.94 356.16,101.22 356.18,106.39 356.2,102.66 356.22,105.63 356.24,102.63 356.26,105.53 356.28,103.07 356.3,105.32 356.32,103.43 356.34,105.85 356.36,103.85 356.38,106.48 356.4,103.42 356.42,107.95 356.44,104.77 356.46,110.64 356.48,104.51 356.5,107.2 356.52,104.87 356.54,108.06 356.56,105.85 356.58,108.11 356.6,106.1 356.62,108.89 356.64,106.38 356.66,109.29 356.68,105.99 356.7,109.43 356.72,106.6 356.74,110.36 356.76,106.34 356.78,109.74 356.8,104.69 356.82,110.15 356.84,108.07 356.86,111.63 356.88,108.47 356.9,111.14 356.92,106.34 356.94,112.17 356.96,108.59 356.98,111.67 357,109.6 357.02,112.33 357.04,110.21 357.06,112.45 357.08,110.31 357.1,114.63 357.12,110.61 357.14,114.32 357.16,109.7 357.18,115.88 357.2,111.92 357.22,114.51 357.24,112.3 357.26,115.14 357.28,112.18 357.3,114.78 357.32,110.68 357.34,115.38 357.36,112.84 357.38,116.57 357.4,113.32 357.42,116.74 357.44,113.55 357.46,116.36 357.48,114.55 357.5,118.52 357.52,114.95 357.54,120.59 357.56,113.94 357.58,118.3 357.6,112.28 357.62,118.83 357.64,115.28 357.66,120.3 357.68,116.78 357.7,119.53 357.72,116.56 357.74,121.33 357.76,114.75 357.78,120.43 357.8,118 357.82,120.74 357.83,118.22 357.85,121.07 357.87,118.07 357.89,120.85 357.94,118.64 357.99,121.4" fill="none" stroke="#12aca6" stroke-width="1.9" stroke-linejoin="round" clip-path="url(#cTR)" />
<rect x="328.6" y="12.8" width="207.9" height="157.8" fill="none" stroke="#666666" stroke-width="1.3"/>
<line x1="344.35" y1="170.6" x2="344.35" y2="169.1" stroke="#666666" stroke-width="1"/>
<line x1="365.7" y1="170.6" x2="365.7" y2="168.2" stroke="#666666" stroke-width="1"/>
<text x="365.1" y="180.5" font-size="8.4" font-weight="bold" text-anchor="middle" fill="#161616" >200</text>
<line x1="387.05" y1="170.6" x2="387.05" y2="169.1" stroke="#666666" stroke-width="1"/>
<line x1="408.4" y1="170.6" x2="408.4" y2="168.2" stroke="#666666" stroke-width="1"/>
<text x="407.8" y="180.5" font-size="8.4" font-weight="bold" text-anchor="middle" fill="#161616" >400</text>
<line x1="429.75" y1="170.6" x2="429.75" y2="169.1" stroke="#666666" stroke-width="1"/>
<line x1="451.1" y1="170.6" x2="451.1" y2="168.2" stroke="#666666" stroke-width="1"/>
<text x="450.5" y="180.5" font-size="8.4" font-weight="bold" text-anchor="middle" fill="#161616" >600</text>
<line x1="472.45" y1="170.6" x2="472.45" y2="169.1" stroke="#666666" stroke-width="1"/>
<line x1="493.8" y1="170.6" x2="493.8" y2="168.2" stroke="#666666" stroke-width="1"/>
<text x="493.2" y="180.5" font-size="8.4" font-weight="bold" text-anchor="middle" fill="#161616" >800</text>
<line x1="515.15" y1="170.6" x2="515.15" y2="169.1" stroke="#666666" stroke-width="1"/>
<line x1="536.5" y1="170.6" x2="536.5" y2="168.2" stroke="#666666" stroke-width="1"/>
<text x="535.9" y="180.5" font-size="8.4" font-weight="bold" text-anchor="middle" fill="#161616" >1000</text>
<text x="397.4" y="195.4" font-size="8.9" font-weight="bold" text-anchor="start" fill="#161616" letter-spacing="0.27" stroke="#161616" stroke-width="0.2">Raman shift (cm<tspan font-size="7.1" dy="-5.9">−1</tspan><tspan dy="5.9">)</tspan></text>
<text transform="translate(323.4,122) rotate(-90)" font-size="9.15" font-weight="bold" text-anchor="start" fill="#161616"  stroke="#161616" stroke-width="0.2">Intensity (a.u.)</text>
<line x1="332" y1="20.9" x2="350" y2="20.9" stroke="#12aca6" stroke-width="1.6"/>
<text x="351.4" y="23.8" font-size="7.3" font-weight="bold" text-anchor="start" fill="#161616" letter-spacing="0.3" stroke="#161616" stroke-width="0.05">Cu<tspan font-size="4.6" dy="1.9">2</tspan><tspan dy="-1.9">Te NRs</tspan></text>
<text transform="translate(359,57.8) rotate(-90)" font-size="8.3" font-weight="bold" text-anchor="start" fill="#161616"  stroke="#161616" stroke-width="0.2">B<tspan font-size="8.1" dy="1.3">2g</tspan></text>
<polyline points="328.6,357.94 328.72,358.63 328.85,358.19 328.97,358.9 329.09,358.64 329.21,359.32 329.34,358.91 329.46,359.59 329.58,359.21 329.71,360.11 329.83,359.66 329.95,360.55 330.12,359.89 330.32,360.33 330.51,359.98 330.71,360.58 330.91,360.05 331.1,360.58 331.3,359.88 331.5,360.73 331.7,360.31 331.89,360.81 332.09,360.37 332.29,360.95 332.49,360.43 332.68,361.04 332.88,360.3 333.08,361.1 333.28,360.67 333.48,361.03 333.68,360.59 333.88,361.39 334.08,360.57 334.28,361.32 334.48,360.51 334.68,361.6 334.88,360.72 335.08,361.4 335.28,360.5 335.48,361.23 335.67,360.71 335.87,361.1 336.07,360.69 336.27,361.35 336.47,360.55 336.67,361.33 336.87,360.67 337,361.24 337.01,360.29 337.02,360.66 337.03,360.09 337.04,360.36 337.05,359.6 337.06,360.09 337.07,359.05 337.08,359.79 337.09,358.93 337.1,359.31 337.11,358.48 337.12,358.75 337.13,357.82 337.14,358.32 337.15,357.81 337.16,358.16 337.17,357.15 337.18,357.69 337.19,356.98 337.2,357.46 337.21,356.45 337.22,356.84 337.23,356.18 337.24,356.42 337.25,355.51 337.26,356.18 337.27,354.89 337.28,355.78 337.29,355.09 337.32,355.58 337.37,354.58 337.42,355.21 337.47,354.36 337.52,354.75 337.57,353.85 337.62,354.16 337.67,353.35 337.72,353.92 337.77,352.6 337.82,353.58 337.87,352.8 337.92,353.14 337.97,352.05 338.02,352.7 338.07,352.03 338.12,352.33 338.17,351.68 338.22,352.05 338.27,351.27 338.32,351.52 338.37,350.94 338.42,351.19 338.47,350.23 338.52,350.96 338.57,349.86 338.63,350.38 338.69,349.37 338.74,350.14 338.8,349.35 338.86,349.61 338.92,348.77 338.97,349.2 339.03,348.5 339.09,348.94 339.15,348.23 339.2,348.63 339.26,347.75 339.32,348.11 339.38,347.11 339.43,347.59 339.49,346.85 339.55,347.29 339.61,346.36 339.66,346.9 339.72,345.59 339.78,346.52 339.84,345.65 339.89,346 339.95,345.4 340.01,345.71 340.07,344.97 340.13,345.2 340.19,344.59 340.26,345.18 340.33,344.28 340.4,344.54 340.47,343.78 340.53,344.31 340.6,343.24 340.67,343.65 340.74,343.01 340.8,343.29 340.87,342.67 340.94,342.81 341.01,342.17 341.08,342.61 341.14,341.82 341.21,342.13 341.28,341.41 341.35,341.8 341.41,341.06 341.48,341.41 341.55,340.72 341.62,340.92 341.68,340.16 341.75,340.54 341.82,339.8 341.89,340.32 341.92,339.43 341.95,340.1 341.98,339.05 342.01,339.43 342.04,338.68 342.07,339.09 342.1,338.39 342.13,338.98 342.16,338.01 342.19,338.24 342.22,337.44 342.25,337.86 342.28,337.06 342.31,337.72 342.34,336.72 342.37,337.19 342.4,336.46 342.43,336.75 342.46,335.92 342.49,336.52 342.52,335.65 342.55,335.84 342.58,335.19 342.61,335.46 342.64,334.85 342.67,334.99 342.7,334.44 342.73,334.66 342.76,333.91 342.78,334.29 342.81,333.47 342.84,333.92 342.87,333.17 342.9,333.53 342.93,332.66 342.96,333.12 342.99,332.49 343.02,332.95 343.05,332.11 343.08,332.38 343.11,331.63 343.14,331.94 343.17,331.29 343.2,331.61 343.23,330.66 343.26,331.4 343.29,330.16 343.32,330.78 343.35,330.24 343.38,330.51 343.41,329.77 343.43,330.02 343.45,329.33 343.47,329.8 343.48,328.98 343.5,329.42 343.52,328.57 343.54,328.76 343.56,328.08 343.58,328.69 343.6,327.56 343.62,328.03 343.64,327.16 343.66,327.66 343.68,326.95 343.7,327.2 343.72,326.23 343.74,326.63 343.76,325.84 343.78,326.34 343.8,325.53 343.82,325.83 343.84,325.18 343.86,325.77 343.88,324.42 343.9,325.56 343.92,324.41 343.94,324.76 343.96,323.84 343.98,324.47 344,323.56 344.02,323.95 344.04,323.34 344.06,323.56 344.08,322.93 344.1,323.26 344.12,322.53 344.14,322.8 344.16,322.19 344.18,322.5 344.2,321.7 344.22,322.15 344.24,321.37 344.26,321.81 344.28,320.92 344.3,321.55 344.32,320.72 344.34,320.87 344.36,320.12 344.38,320.62 344.4,319.62 344.42,320.33 344.44,319.33 344.45,319.77 344.47,319.03 344.49,319.24 344.51,318.62 344.53,318.81 344.54,318.19 344.56,318.5 344.58,317.83 344.6,318.19 344.62,317.36 344.63,317.7 344.65,316.72 344.67,317.37 344.69,316.56 344.71,316.88 344.72,316.09 344.74,316.65 344.76,315.73 344.78,316.03 344.79,315.09 344.81,315.77 344.83,314.72 344.85,315.21 344.87,314.52 344.88,314.92 344.9,314.1 344.92,314.42 344.94,313.68 344.96,314.23 344.97,313.33 344.99,313.71 345.01,312.95 345.03,313.32 345.05,312.4 345.06,312.74 345.08,312.06 345.1,312.45 345.12,311.73 345.14,312.08 345.15,311.22 345.17,311.64 345.19,310.85 345.21,311.54 345.22,310.26 345.24,310.66 345.26,309.87 345.28,310.3 345.3,309.62 345.31,309.91 345.33,309.05 345.34,309.53 345.35,308.91 345.37,309.9 345.38,308.6 345.4,309.01 345.41,308.12 345.42,308.47 345.44,307.76 345.45,308.17 345.47,307.41 345.48,307.72 345.49,306.66 345.51,307.31 345.52,306.65 345.53,307.08 345.55,306.31 345.56,306.53 345.58,305.88 345.59,306.15 345.6,305.44 345.62,305.65 345.63,304.66 345.65,305.66 345.66,304.59 345.67,305.19 345.69,304.25 345.7,304.53 345.72,303.88 345.73,304.17 345.74,303.33 345.76,303.79 345.77,302.69 345.79,303.19 345.8,302.58 345.81,302.78 345.83,301.98 345.84,302.37 345.86,301.78 345.87,302.05 345.88,301.43 345.9,301.66 345.91,300.99 345.93,301.32 345.94,300.61 345.95,301.06 345.97,299.85 345.98,300.67 346,299.92 346.01,300.11 346.02,299.48 346.03,299.82 346.04,299.01 346.06,299.47 346.07,298.63 346.08,298.96 346.09,298.33 346.1,298.69 346.12,297.96 346.13,298.18 346.14,297.56 346.15,297.73 346.16,297.18 346.18,297.38 346.19,296.67 346.2,296.89 346.21,296.27 346.22,296.48 346.24,295.73 346.25,296.17 346.26,295.44 346.27,295.68 346.28,295.07 346.3,295.55 346.31,294.73 346.32,295.23 346.33,294.13 346.34,294.76 346.36,293.91 346.37,294.07 346.38,293.45 346.39,293.75 346.4,293.06 346.42,293.29 346.43,292.69 346.44,292.94 346.45,292.08 346.46,292.7 346.48,291.84 346.49,292.1 346.5,290.89 346.51,291.85 346.52,290.61 346.54,291.59 346.55,290.6 346.56,291.01 346.57,290.35 346.58,290.66 346.6,289.86 346.6,290.21 346.61,289.59 346.62,289.84 346.63,288.81 346.64,289.58 346.64,288.64 346.65,289.07 346.66,288.19 346.67,288.72 346.68,287.93 346.68,288.17 346.69,287.5 346.7,287.69 346.71,286.97 346.72,287.45 346.72,286.62 346.73,287.01 346.74,286.1 346.75,286.58 346.76,285.89 346.76,286.21 346.77,285.34 346.78,285.71 346.79,285.07 346.8,285.47 346.8,284.57 346.81,284.82 346.82,284.19 346.83,284.54 346.84,283.86 346.84,284.04 346.85,283.35 346.86,283.66 346.87,283 346.88,283.33 346.88,282.57 346.89,283.07 346.9,282.19 346.91,282.72 346.92,281.76 346.92,282.14 346.93,281.42 346.94,281.67 346.95,281.03 346.96,281.4 346.96,280.67 346.97,280.98 346.98,280.3 346.99,280.56 347,279.92 347,280.16 347.01,279.45 347.02,279.68 347.03,279.02 347.04,279.32 347.04,278.54 347.05,279 347.06,278.11 347.07,278.52 347.08,277.82 347.08,277.98 347.09,277.33 347.1,277.53 347.11,276.83 347.12,277.19 347.12,276.28 347.13,276.97 347.14,275.96 347.15,276.46 347.16,275.77 347.16,276.26 347.17,275.38 347.18,275.68 347.19,274.9 347.2,275.54 347.2,274.39 347.21,274.83 347.22,274.11 347.22,274.49 347.23,273.89 347.24,274.16 347.25,273.36 347.25,274.03 347.26,273.13 347.27,273.5 347.27,272.73 347.28,273.53 347.29,272.32 347.3,272.68 347.3,272.04 347.31,272.27 347.32,271.64 347.32,271.96 347.33,271.24 347.34,271.5 347.34,270.89 347.35,271.31 347.36,270.34 347.37,270.79 347.37,269.82 347.38,270.39 347.39,269.63 347.39,270.16 347.4,269.22 347.41,270.11 347.42,268.87 347.42,269.08 347.43,268.48 347.44,268.91 347.44,267.47 347.45,268.23 347.46,267.57 347.46,267.89 347.47,266.83 347.48,267.3 347.49,266.79 347.49,266.99 347.5,266.29 347.51,266.61 347.51,265.96 347.52,266.2 347.53,265.58 347.54,265.73 347.54,265.17 347.55,265.26 347.56,264.48 347.56,264.97 347.57,264.35 347.58,264.79 347.58,263.83 347.59,264.2 347.6,263.51 347.61,263.7 347.61,262.89 347.62,263.43 347.63,262.65 347.63,263.2 347.64,262.06 347.65,262.52 347.66,261.69 347.66,262.13 347.67,261.24 347.68,261.64 347.68,261.09 347.69,261.27 347.7,260.44 347.7,260.98 347.71,260.24 347.72,260.7 347.73,259.72 347.73,260.33 347.74,259.28 347.75,259.8 347.75,259.04 347.76,259.27 347.77,258.6 347.78,259.17 347.78,258.26 347.79,258.45 347.8,257.82 347.8,258.11 347.81,257.45 347.82,257.57 347.83,257.06 347.83,257.29 347.84,256.52 347.85,256.98 347.86,256.07 347.87,256.51 347.87,255.73 347.88,256.34 347.89,255.35 347.9,255.67 347.9,255.05 347.91,255.17 347.92,254.43 347.93,254.78 347.94,253.69 347.94,254.32 347.95,253.66 347.96,253.91 347.97,253.34 347.97,253.73 347.98,252.92 347.99,253.1 348,252.49 348.01,252.81 348.01,251.89 348.02,252.35 348.03,251.65 348.04,251.89 348.04,251.02 348.05,251.84 348.06,251.01 348.07,251.18 348.08,250.61 348.08,251.08 348.09,250.16 348.1,250.38 348.11,249.8 348.11,250.41 348.12,249.36 348.13,249.67 348.14,249.05 348.15,249.7 348.15,248.55 348.16,248.86 348.17,248.38 348.18,248.44 348.18,247.93 348.19,248.24 348.2,247.39 348.21,247.8 348.22,247.17 348.22,247.41 348.23,246.65 348.24,246.98 348.25,246.24 348.25,246.49 348.26,246.04 348.27,246.16 348.28,245.47 348.29,245.81 348.29,245.17 348.3,245.29 348.31,244.79 348.32,244.96 348.32,244.27 348.33,244.64 348.34,243.99 348.35,244.18 348.36,243.58 348.36,243.67 348.37,243.13 348.38,243.34 348.39,242.72 348.39,242.93 348.4,242.24 348.41,242.5 348.42,241.99 348.43,242.15 348.43,241.54 348.44,242.05 348.45,241.22 348.46,241.3 348.46,240.85 348.47,240.9 348.48,240.44 348.49,240.79 348.5,240.01 348.5,240.17 348.51,239.11 348.52,239.79 348.52,239.25 348.53,239.43 348.54,238.86 348.54,239.03 348.55,238.37 348.56,238.97 348.56,238.09 348.57,238.17 348.57,237.65 348.58,237.74 348.59,237 348.59,237.37 348.6,236.9 348.61,236.95 348.61,236.51 348.62,236.7 348.63,236 348.63,236.27 348.64,235.66 348.65,235.76 348.65,235.19 348.66,235.34 348.67,234.86 348.67,235.13 348.68,234.48 348.69,234.55 348.69,233.63 348.7,234.26 348.71,233.57 348.71,233.87 348.72,233.31 348.72,233.37 348.73,232.9 348.74,233.13 348.74,232.44 348.75,232.63 348.76,232.14 348.76,232.2 348.77,231.75 348.78,231.83 348.78,231.3 348.79,231.34 348.8,230.82 348.8,231.01 348.81,230.43 348.82,230.58 348.82,229.95 348.83,230.15 348.84,229.64 348.84,229.66 348.85,229.23 348.86,229.37 348.86,228.65 348.87,229.01 348.88,228.37 348.88,228.49 348.89,228.03 348.89,228.23 348.9,227.61 348.91,227.72 348.91,227.24 348.92,227.34 348.93,226.73 348.93,227.16 348.94,226.32 348.95,226.6 348.95,226.04 348.96,226.33 348.97,225.8 348.97,225.86 348.98,225.37 348.99,225.45 348.99,224.95 349,225.01 349.02,224.96 349.03,225.48 349.05,225.3 349.07,225.82 349.09,225.59 349.11,226.26 349.13,226.08 349.14,226.61 349.16,226.49 349.18,226.94 349.2,226.64 349.22,227.63 349.23,227.11 349.25,227.71 349.27,227.53 349.29,228.08 349.31,227.99 349.33,228.53 349.34,228.31 349.36,228.93 349.38,228.58 349.4,229.35 349.42,229.07 349.44,229.63 349.45,229.42 349.47,230.12 349.49,229.8 349.51,230.51 349.53,230.11 349.54,231.1 349.56,230.68 349.58,231.27 349.6,231.08 349.62,231.94 349.64,231.14 349.65,232.17 349.67,231.79 349.69,232.58 349.71,232.2 349.73,232.94 349.75,232.12 349.76,233.33 349.78,232.98 349.8,233.78 349.82,233.13 349.84,234.16 349.85,233.76 349.87,234.51 349.89,233.85 349.91,234.94 349.93,234.58 349.95,235.34 349.96,235 349.98,235.69 350,235.33 350.02,236.26 350.04,235.75 350.05,236.69 350.07,235.97 350.09,237.01 350.11,236.34 350.13,237.15 350.15,236.67 350.16,237.74 350.18,236.5 350.2,238.27 350.22,237.18 350.24,238.21 350.26,237.84 350.27,238.62 350.29,238.15 350.31,238.98 350.33,238.43 350.35,239.45 350.36,238.78 350.38,240.12 350.4,239.05 350.42,240.85 350.44,238.92 350.45,240.7 350.47,239.71 350.49,241.22 350.51,240.08 350.53,241.63 350.54,240.76 350.56,241.9 350.58,240.95 350.6,242.25 350.61,241.56 350.63,242.48 350.65,241.74 350.67,242.94 350.68,242.09 350.7,243.51 350.72,242.66 350.74,244.57 350.76,242.88 350.77,244.06 350.79,243.44 350.81,244.43 350.83,243.91 350.84,245.72 350.86,244.28 350.88,246.28 350.9,244.65 350.91,245.67 350.93,244.94 350.95,246.04 350.97,245.48 350.99,247.32 351,245.68 351.02,246.93 351.04,246.53 351.06,247.56 351.07,246.75 351.09,248.06 351.11,246.68 351.13,248.53 351.14,247.78 351.16,249.16 351.18,248.03 351.2,249.28 351.22,248.46 351.23,250.72 351.25,249.02 351.27,250.54 351.29,249.62 351.3,251.11 351.32,250.06 351.34,251.37 351.36,250.24 351.38,251.59 351.39,250.71 351.41,252.72 351.43,250.95 351.45,252.49 351.46,251.07 351.48,252.94 351.5,251.93 351.52,253.4 351.53,251.52 351.55,253.62 351.57,252.53 351.59,253.96 351.61,252.9 351.62,255.05 351.64,253.43 351.66,255.4 351.68,253.66 351.69,255.3 351.71,254.15 351.73,255.56 351.75,254.05 351.76,255.84 351.78,254.96 351.8,256.3 351.82,255.18 351.84,256.82 351.85,255.65 351.87,257 351.89,255.74 351.91,257.29 351.92,255.57 351.94,257.73 351.96,256.68 351.98,258.26 351.99,257.14 352.01,258.56 352.03,257.62 352.04,259.15 352.06,258.16 352.08,259.41 352.09,258.44 352.11,259.97 352.13,258.21 352.14,260.36 352.16,258.88 352.18,260.68 352.19,259.08 352.21,260.85 352.23,259.34 352.24,261.33 352.26,260.15 352.28,262.83 352.29,260.04 352.31,261.81 352.33,260.77 352.34,262.31 352.36,261.02 352.38,263.1 352.39,260.79 352.41,263.11 352.43,261.51 352.44,263.91 352.46,262.45 352.48,264.07 352.49,262.96 352.51,264.98 352.53,262.48 352.54,265.15 352.56,263.59 352.58,265.6 352.59,264.01 352.61,266.38 352.63,264.63 352.64,267.5 352.66,263.53 352.68,266.82 352.69,265.7 352.71,267.44 352.73,264.76 352.74,267.48 352.76,266.35 352.78,268.04 352.79,265.51 352.81,268.45 352.83,266.87 352.84,268.99 352.86,267.68 352.88,269.59 352.89,267.89 352.91,269.71 352.93,268.5 352.94,270.11 352.96,268.94 352.98,270.75 352.99,268.72 353.01,271.83 353.03,266.63 353.05,271.27 353.07,269.13 353.09,271.95 353.11,270.3 353.13,272.71 353.15,270.55 353.17,272.17 353.19,271.2 353.21,273.16 353.23,271.38 353.25,273.16 353.27,271.08 353.29,273.88 353.31,272.22 353.33,273.82 353.35,270.99 353.37,274.35 353.39,272.83 353.41,275.17 353.43,273.44 353.45,275.06 353.47,273.18 353.49,276.48 353.51,274.49 353.53,276.41 353.55,274.52 353.57,277.81 353.59,274.91 353.61,277.34 353.63,276 353.65,278.32 353.67,276.42 353.69,279.07 353.71,276.35 353.73,280.16 353.75,277.37 353.77,279.15 353.79,277.49 353.81,279.7 353.83,277.57 353.85,279.93 353.87,275.75 353.89,280.32 353.91,278.63 353.93,280.58 353.95,278.97 353.97,281.04 353.99,279.31 354,281.26 354.02,279.77 354.04,281.71 354.06,279.93 354.08,281.97 354.1,280.05 354.12,282.68 354.14,280.76 354.16,282.88 354.18,281.28 354.2,283.19 354.22,280.75 354.24,283.42 354.26,281.54 354.28,284.16 354.3,280.76 354.32,285.38 354.34,282.67 354.36,286.13 354.38,282.67 354.4,285.5 354.42,283.66 354.44,286.99 354.46,282.95 354.48,287.06 354.5,283.92 354.52,287.39 354.54,284.19 354.56,286.82 354.58,285.14 354.6,287.45 354.62,284.02 354.64,287.51 354.66,285.66 354.68,288.3 354.7,285.44 354.72,288.37 354.74,285.16 354.76,289.18 354.78,286.8 354.8,289.83 354.82,285.7 354.84,289.65 354.86,287.6 354.88,289.92 354.9,288.46 354.92,290.85 354.94,287.3 354.96,291.95 354.98,288.67 355,292.83 355.04,289.99 355.07,292.53 355.11,289.79 355.14,293.21 355.18,289.89 355.21,294.85 355.25,291.08 355.28,296.74 355.32,291.51 355.35,296.2 355.39,291.31 355.43,295.73 355.46,292.02 355.5,294.85 355.53,293.06 355.57,296.27 355.6,293.65 355.64,296.05 355.67,294.14 355.71,295.98 355.74,293.97 355.78,297.58 355.81,292.41 355.85,297.15 355.89,294.51 355.92,297.28 355.96,294.22 355.99,298.33 356.03,294.32 356.06,297.01 356.1,294.93 356.13,298.25 356.17,294.51 356.2,298.01 356.24,294.93 356.28,298.06 356.31,295.68 356.35,298.63 356.38,294.62 356.42,299.72 356.45,296.31 356.49,299.55 356.52,296.73 356.56,300.14 356.59,296.83 356.63,300.31 356.67,297.37 356.7,300.67 356.74,297.98 356.77,301.65 356.81,297.96 356.83,302.28 356.86,299.83 356.88,302.84 356.91,299.34 356.93,304.4 356.96,300.56 356.99,303.78 357.01,301.06 357.04,304.35 357.06,300.44 357.09,304.96 357.11,301.74 357.14,305.75 357.17,302.43 357.19,306.39 357.22,301.94 357.24,307.19 357.27,302.79 357.29,307.17 357.32,302.33 357.35,306.38 357.37,301.48 357.4,307.82 357.42,303.31 357.45,306.9 357.48,304.46 357.5,307.69 357.53,304.63 357.55,307.55 357.58,303.24 357.6,308.1 357.63,305.28 357.66,311.33 357.68,303.36 357.71,310.19 357.73,304.01 357.76,310.14 357.78,306.28 357.81,309.62 357.84,306.59 357.86,310.8 357.89,305.39 357.91,310.48 357.94,306.79 357.97,313 357.99,307.66 358.02,311.55 358.04,307.48 358.07,314.7 358.09,308.89 358.17,311.4 358.25,308.51 358.34,311.91 358.43,308.23 358.51,313.63 358.6,309.33 358.69,312.55 358.77,309.81 358.86,313.1 358.95,309.66 359.03,314.21 359.12,310.63 359.21,314.87 359.29,310.18 359.38,313.53 359.47,309.47 359.55,314 359.64,308.06 359.72,315.37 359.81,310.62 359.9,314.78 359.98,310.42 360.07,315.14 360.16,308.12 360.24,315.89 360.33,311.19 360.42,318.05 360.5,311.77 360.57,317.6 360.65,312.79 360.72,316.52 360.79,313.05 360.86,318.26 360.93,313.6 361,316.88 361.07,312.94 361.14,317.57 361.21,315.16 361.28,320.85 361.36,315.56 361.43,318.99 361.5,315.42 361.57,324.67 361.64,316.81 361.71,320.6 361.78,316.94 361.85,321.98 361.92,316.68 362,321.83 362.07,317.06 362.14,324.61 362.21,318.4 362.28,322.56 362.35,319.9 362.43,323.36 362.55,320.21 362.66,324.44 362.77,320.53 362.88,326.26 362.99,321.4 363.1,325.86 363.22,318.17 363.33,327.16 363.44,317.11 363.55,325.26 363.66,321.88 363.77,326.62 363.88,320.12 364,326.02 364.11,318.3 364.22,326.93 364.33,321.07 364.44,325.43 364.55,320.15 364.67,326.81 364.78,319.99 364.89,326.53 365,321.85 365.11,326.06 365.22,321.9 365.34,326.28 365.45,322.38 365.56,329.17 365.67,319.45 365.78,329.96 365.89,321.44 366.01,327.25 366.13,322.93 366.31,329.38 366.48,322.66 366.66,329.89 366.84,321.35 367.02,327.39 367.2,323.43 367.37,326.51 367.55,323.14 367.73,329.08 367.91,323.83 368.09,327.32 368.26,323.83 368.44,330.74 368.62,324 368.8,328.8 368.98,323.92 369.15,327.78 369.33,323.01 369.51,328.3 369.69,324.15 369.87,329.46 370.05,324.35 370.24,330.18 370.44,324.47 370.64,329.05 370.83,322.16 371.03,329.98 371.22,325.63 371.42,331.71 371.62,326.17 371.81,331.85 372.01,326.15 372.2,330.65 372.4,326.46 372.6,331.44 372.79,324.13 372.99,331.18 373.19,326.18 373.38,331.26 373.58,325.49 373.77,333.06 373.97,323.51 374.17,329.95 374.36,326.51 374.56,330.13 374.75,325.85 374.95,335.35 375.11,326.38 375.27,329.52 375.42,325.92 375.58,330.13 375.73,323.59 375.88,330.04 376.04,323.72 376.19,330.77 376.34,326.41 376.5,331.81 376.65,326.33 376.8,331.05 376.96,327.21 377.11,330.77 377.27,327.61 377.42,331.26 377.57,327.11 377.73,332.35 377.88,327.5 378.04,338.56 378.2,328.6 378.36,331.44 378.52,328.22 378.68,334.41 378.84,328.54 379,332.97 379.16,329.11 379.32,334.49 379.48,329.38 379.64,334.74 379.8,328.92 379.96,335.62 380.12,326.65 380.28,334.83 380.44,330.74 380.6,336.38 380.76,330.15 380.92,334.72 381.08,329.89 381.24,335 381.4,329.59 381.56,337.27 381.72,332.29 381.88,337.96 382.04,329.22 382.24,336.35 382.43,332.89 382.63,336.78 382.82,332.05 383.01,337.1 383.21,330.37 383.4,339.35 383.6,333.23 383.79,337.25 383.98,334.24 384.18,339.9 384.37,332.81 384.57,341.59 384.76,334.54 384.95,338.66 385.15,334.8 385.34,338.49 385.54,332.14 385.73,340.66 385.92,335.65 386.12,340.48 386.31,335.1 386.51,339.94 386.7,335.46 386.89,338.69 387.09,331.78 387.28,338.75 387.48,334.8 387.67,339.49 387.86,333.78 388.06,340.28 388.26,333.3 388.46,337.73 388.66,333.03 388.86,337.6 389.06,334.85 389.26,338.79 389.45,334.48 389.65,338.03 389.85,333.55 390.05,339.67 390.25,333.89 390.45,337.71 390.65,331.88 390.85,339.49 391.05,334.37 391.25,338.24 391.45,334.19 391.65,337.87 391.85,333.16 392.05,338.66 392.25,334.65 392.44,337.53 392.64,334.11 392.84,337.94 393.04,334.5 393.24,338.94 393.44,334.3 393.64,340.18 393.84,335.26 394.04,340.06 394.24,334.2 394.44,340.21 394.64,334.7 394.84,339.31 395.04,334.57 395.23,339.08 395.43,335.17 395.63,339.86 395.83,332.37 396.03,340.97 396.23,334.89 396.43,340.45 396.63,335.56 396.83,339.95 397.03,333.72 397.23,340.08 397.43,334.73 397.63,338.67 397.83,334.97 398.02,339.57 398.22,333.78 398.42,339.63 398.62,335.21 398.82,338.48 399.02,335.54 399.22,340.07 399.42,334.02 399.62,340.82 399.82,334.23 400.02,339.97 400.22,334.66 400.42,339.01 400.62,335.73 400.82,339.28 401.02,335.41 401.22,340.68 401.42,335.81 401.62,339.61 401.82,335.88 402.02,340.57 402.22,336.45 402.42,342.86 402.62,335.95 402.82,339.28 403.02,335.88 403.22,339.98 403.42,336.15 403.62,339.3 403.82,336.04 404.02,340.98 404.22,334.24 404.42,339.26 404.62,335.52 404.82,339.31 405.02,332.92 405.22,340.58 405.42,335.01 405.62,339.41 405.82,334 406.02,338.75 406.22,334.38 406.42,338.05 406.62,331.93 406.82,338.42 407.02,333.59 407.22,339.49 407.42,333.95 407.62,337.05 407.82,331.52 408.02,342.25 408.22,332.86 408.42,338 408.62,332.39 408.82,337.13 409.02,327.78 409.22,339.37 409.42,331.6 409.62,335.99 409.82,332.44 410.02,336.31 410.21,331.3 410.41,337.65 410.61,331.42 410.81,335.39 411.01,332.36 411.21,336.19 411.41,330.69 411.61,335.4 411.81,331.8 412.01,337.18 412.21,331.58 412.41,335.37 412.61,331.7 412.81,335.69 413.01,332.37 413.21,337.08 413.41,333 413.61,336.69 413.81,332.43 414.01,336.95 414.21,328.43 414.41,338.27 414.61,331.89 414.81,336.68 415.01,326.75 415.21,335.51 415.41,331.2 415.61,339.77 415.81,331.53 416.01,336.17 416.21,329.72 416.41,336.21 416.61,330.84 416.81,335.95 417.01,327.91 417.21,334.58 417.41,330.6 417.61,334.78 417.81,330.54 418.01,334.99 418.21,330.6 418.41,338.65 418.61,330.64 418.81,334.11 419.01,328 419.21,334.79 419.41,325.53 419.61,333.62 419.81,330.09 420.01,334.4 420.21,331.13 420.41,334.74 420.61,328.6 420.8,337.25 421,331.25 421.2,334.97 421.4,330.19 421.59,335.66 421.79,329.18 421.99,335.04 422.19,329.22 422.39,334.78 422.58,329.11 422.78,335.74 422.98,330.42 423.18,339.25 423.37,332.48 423.57,338.79 423.77,332.44 423.97,339.85 424.17,331.98 424.36,336.78 424.56,332.66 424.76,336.13 424.96,333.18 425.15,337.37 425.35,333.24 425.55,337.29 425.75,332.97 425.95,336.69 426.14,332.33 426.34,336.97 426.54,329.38 426.74,341.18 426.93,333.13 427.13,336.58 427.33,333.26 427.53,337.91 427.73,331.31 427.92,337.69 428.12,331.8 428.32,336.73 428.52,330.25 428.71,337.08 428.91,332.61 429.11,336.63 429.31,332.43 429.51,338.41 429.7,332.58 429.9,336.95 430.1,332.42 430.3,338.32 430.49,331.49 430.69,336.85 430.89,330.56 431.09,335.01 431.29,332.02 431.48,335.34 431.68,330.2 431.88,334.31 432.08,330.95 432.27,334.73 432.47,329.6 432.67,335.03 432.87,331.03 433.07,334.67 433.26,328.4 433.46,334.48 433.66,328.84 433.86,337.46 434.05,329.9 434.25,334.25 434.45,329.29 434.65,334.08 434.85,329.67 435.04,334.4 435.24,329.97 435.44,337.17 435.64,329.07 435.83,334.67 436.03,327.31 436.23,335.06 436.43,326.26 436.63,335.11 436.82,329.1 437.02,334.19 437.22,330.4 437.42,335.11 437.61,330.16 437.81,335.51 438.01,330.3 438.21,336.39 438.41,331.09 438.6,333.91 438.8,329.01 439,336.16 439.2,330.33 439.39,333.61 439.59,328.18 439.79,334.22 439.99,329.75 440.19,335.36 440.38,329.96 440.58,338.46 440.78,328.86 440.98,334.55 441.17,328.62 441.37,333.72 441.57,329.84 441.77,333.41 441.97,330.5 442.16,334.13 442.36,327.79 442.56,337.03 442.76,330.96 442.96,334.66 443.15,328.52 443.35,338.6 443.55,331.05 443.75,334.27 443.94,330.76 444.14,335.42 444.34,330.83 444.54,335.99 444.74,330.14 444.93,336.17 445.13,330.85 445.33,335.61 445.53,330.05 445.72,334.72 445.92,329.54 446.12,335.17 446.32,330.36 446.52,336.65 446.71,330.22 446.91,334.18 447.11,329.05 447.31,336.76 447.5,324.94 447.7,334.44 447.9,330.73 448.1,336.12 448.3,329.37 448.49,334.1 448.69,330.23 448.89,334.53 449.09,329.2 449.28,334.73 449.48,330.27 449.68,337.83 449.88,329.68 450.07,335.02 450.27,330.72 450.47,334.62 450.66,331.51 450.86,335.86 451.06,331.06 451.25,334.62 451.45,330.82 451.64,334.69 451.84,329.84 452.04,334.91 452.23,330.01 452.43,333.98 452.62,329.96 452.82,333.92 453.02,327.14 453.21,334.98 453.41,329.52 453.6,332.45 453.8,325.9 454,333.24 454.19,328.09 454.39,335.53 454.59,327.36 454.78,333.17 454.98,327.05 455.17,332.06 455.37,328.45 455.57,331.84 455.76,327.09 455.96,334.73 456.15,327.49 456.35,331.57 456.55,326.54 456.74,333.01 456.94,327.73 457.13,334.82 457.33,328.71 457.53,332.68 457.72,324.77 457.92,333.5 458.12,328.36 458.31,332.84 458.51,328.1 458.7,332.52 458.9,328.53 459.1,333.72 459.29,327.9 459.49,333.99 459.68,325.6 459.88,331.38 460.08,327.06 460.27,330.78 460.47,327.34 460.67,330.71 460.86,326.34 461.06,332.77 461.25,327 461.45,330.54 461.65,325.26 461.84,330 462.04,324.58 462.23,329.73 462.43,324.31 462.63,329.51 462.82,326.02 463.02,330.49 463.21,325.1 463.41,330.17 463.61,324.97 463.8,329.23 464,325.07 464.2,331.76 464.39,324.79 464.59,330.25 464.78,321.96 464.98,329.64 465.18,324.43 465.37,330.77 465.57,325.7 465.76,331.29 465.96,325.77 466.16,331.77 466.35,327.05 466.55,330.7 466.74,326.94 466.94,331.19 467.14,326.71 467.33,331.66 467.53,326.27 467.73,330.83 467.92,325.25 468.12,331.47 468.31,326.81 468.51,331.61 468.71,324.95 468.9,329.89 469.1,325.57 469.29,330.32 469.49,325.72 469.69,329.83 469.88,325.66 470.08,332.13 470.28,324.72 470.48,329.02 470.67,325.05 470.87,329.06 471.07,325.12 471.27,328.26 471.47,322.86 471.67,328.55 471.87,323.41 472.06,327.31 472.26,318.73 472.46,327.59 472.66,321.92 472.86,327.06 473.06,322.74 473.25,327.15 473.45,323.02 473.65,329.61 473.85,323.47 474.05,328.65 474.25,323.18 474.45,327.34 474.64,323 474.84,329.91 475.04,324.17 475.24,330.89 475.44,324.91 475.64,328.39 475.83,324.3 476.03,331.15 476.23,324.83 476.43,328.57 476.63,325.49 476.83,332.81 477.03,326.02 477.22,330.07 477.42,322.12 477.62,330.27 477.82,325.06 478.02,332.69 478.22,320.14 478.41,329.58 478.61,324.28 478.81,330.91 479.01,322.63 479.21,329.87 479.41,326.39 479.61,331.01 479.8,325.74 480,329.44 480.2,325.36 480.4,330.62 480.6,325.34 480.8,331.65 480.99,324.65 481.19,329.68 481.39,324.98 481.59,331.01 481.79,324.55 481.99,329.4 482.19,323.6 482.38,328.2 482.58,323.72 482.78,327.36 482.98,324.27 483.18,330.96 483.38,322.91 483.57,331.42 483.77,322.84 483.97,327.35 484.17,322.9 484.37,327.37 484.57,322.02 484.77,326.3 484.96,322.32 485.16,326.47 485.36,322.13 485.56,327.29 485.76,322.62 485.96,325.98 486.15,320.6 486.35,327.69 486.55,316.96 486.75,326.03 486.95,322.13 487.15,326.22 487.35,322.13 487.54,326.19 487.74,321.75 487.94,325.36 488.14,321.76 488.34,325.47 488.54,322.54 488.73,328.15 488.93,322.44 489.13,325.92 489.33,320.73 489.53,326 489.73,321.33 489.93,325.86 490.12,320.82 490.32,328.43 490.52,322.49 490.72,326.4 490.92,320.8 491.12,326.08 491.32,322.73 491.52,327.09 491.72,321.96 491.91,325.39 492.11,321.22 492.31,326.14 492.51,321.21 492.71,325.82 492.91,321.52 493.11,325.03 493.31,321.17 493.51,328.32 493.71,318.28 493.91,324.49 494.1,319.55 494.3,325.26 494.5,321.01 494.7,325.5 494.9,320.82 495.1,327 495.3,321.5 495.5,327.07 495.7,320.51 495.9,327.59 496.09,320.79 496.29,326.1 496.49,320.8 496.69,326.46 496.89,319.07 497.09,326.99 497.29,321.51 497.49,327.36 497.69,318.95 497.89,327.11 498.08,321.8 498.28,332.98 498.48,321.18 498.68,327.61 498.88,321.87 499.08,327.03 499.28,319.8 499.48,329.13 499.68,321.53 499.88,327.23 500.07,320.89 500.27,326.58 500.47,321.29 500.67,326.48 500.87,320.93 501.07,327.49 501.27,318.73 501.47,329.02 501.67,321.65 501.87,326.12 502.06,319.02 502.26,325.43 502.46,320.13 502.66,327.61 502.86,317.07 503.06,325.52 503.26,320.55 503.46,329.01 503.66,320.34 503.86,324.51 504.05,320.36 504.25,325.29 504.45,320.78 504.65,324.41 504.85,320.62 505.05,326.8 505.25,318.31 505.45,327.09 505.65,318.09 505.85,326.04 506.04,321.16 506.24,325.53 506.44,321.28 506.64,326.34 506.84,319.76 507.04,326.31 507.24,320.28 507.44,327.77 507.64,321.66 507.84,325.62 508.03,320.79 508.23,326.28 508.43,315.93 508.63,327.76 508.83,321.1 509.03,325.06 509.23,320.31 509.43,324.85 509.63,316.98 509.83,325.77 510.02,318.07 510.22,324.05 510.42,318.75 510.62,323.61 510.82,316.69 511.02,323.11 511.22,318.8 511.42,324.96 511.62,319.1 511.82,323.44 512.02,317.53 512.22,322.86 512.42,319.36 512.62,323.68 512.82,315.67 513.02,323.22 513.22,319.41 513.42,325.09 513.61,318.87 513.81,326.96 514.01,320.23 514.21,323.71 514.41,320.26 514.61,324.58 514.81,320.22 515.01,323.9 515.21,319.41 515.41,325.04 515.61,320.56 515.81,325.6 516.01,320.44 516.21,325.34 516.41,320.28 516.61,327.09 516.81,320.12 517.01,324.16 517.2,320.04 517.4,323.62 517.6,315.97 517.8,323.64 518,319 518.2,323.01 518.4,319.78 518.6,323.09 518.8,317.33 519,324.14 519.2,318.39 519.4,322.32 519.6,318.73 519.8,326.4 520,318.81 520.2,323.54 520.4,318.3 520.6,323.3 520.79,312.51 520.99,322.73 521.19,317.44 521.39,323.64 521.59,318.22 521.79,323.21 521.99,319.11 522.19,323.78 522.39,319.28 522.59,324.45 522.79,319.63 522.99,324.82 523.19,319.47 523.39,324.36 523.59,316.19 523.79,330.22 523.99,319.45 524.18,324.78 524.38,319.64 524.58,324.72 524.78,317.65 524.98,325.81 525.18,317.47 525.38,323.81 525.58,319.86 525.78,324.89 525.98,320.09 526.18,325.13 526.38,318.13 526.58,323.26 526.78,316.75 526.98,322.78 527.18,312.14 527.38,325.62 527.58,318.32 527.77,325.72 527.97,318.26 528.17,323.69 528.37,311.27 528.57,322.51 528.77,318.35 528.97,321.37 529.17,317.02 529.37,321.76 529.57,317.66 529.77,322.26 529.97,317.8 530.17,322.09 530.36,316.89 530.56,321.86 530.76,316.33 530.96,322.79 531.16,318.27 531.35,325.39 531.55,318.62 531.75,322.76 531.95,318.66 532.15,325.61 532.34,319.4 532.54,324.48 532.74,319.57 532.94,324.15 533.14,320.25 533.33,323.76 533.53,319.54 533.73,324.88 533.93,315.55 534.13,324.36 534.32,319.94 534.52,326.52 534.72,319.9 534.92,324 535.12,319.11 535.31,326.02 535.51,319.47 535.71,323.59 535.91,318.64 536.11,324.97 536.3,317.08 536.5,323.21 536.7,318.93 536.9,323.22" fill="none" stroke="#db4a8c" stroke-width="1.35" stroke-linejoin="round" clip-path="url(#cBR)" />
<polyline points="328.6,357.94 328.72,358.63 328.85,358.19 328.97,358.9 329.09,358.64 329.21,359.32 329.34,358.91 329.46,359.59 329.58,359.21 329.71,360.11 329.83,359.66 329.95,360.55 330.12,359.89 330.32,360.33 330.51,359.98 330.71,360.58 330.91,360.05 331.1,360.58 331.3,359.88 331.5,360.73 331.7,360.31 331.89,360.81 332.09,360.37 332.29,360.95 332.49,360.43 332.68,361.04 332.88,360.3 333.08,361.1 333.28,360.67 333.48,361.03 333.68,360.59 333.88,361.39 334.08,360.57 334.28,361.32 334.48,360.51 334.68,361.6 334.88,360.72 335.08,361.4 335.28,360.5 335.48,361.23 335.67,360.71 335.87,361.1 336.07,360.69 336.27,361.35 336.47,360.55 336.67,361.33 336.87,360.67 337,361.24 337.01,360.29 337.02,360.66 337.03,360.09 337.04,360.36 337.05,359.6 337.06,360.09 337.07,359.05 337.08,359.79 337.09,358.93 337.1,359.31 337.11,358.48 337.12,358.75 337.13,357.82 337.14,358.32 337.15,357.81 337.16,358.16 337.17,357.15 337.18,357.69 337.19,356.98 337.2,357.46 337.21,356.45 337.22,356.84 337.23,356.18 337.24,356.42 337.25,355.51 337.26,356.18 337.27,354.89 337.28,355.78 337.29,355.09 337.32,355.58 337.37,354.58 337.42,355.21 337.47,354.36 337.52,354.75 337.57,353.85 337.62,354.16 337.67,353.35 337.72,353.92 337.77,352.6 337.82,353.58 337.87,352.8 337.92,353.14 337.97,352.05 338.02,352.7 338.07,352.03 338.12,352.33 338.17,351.68 338.22,352.05 338.27,351.27 338.32,351.52 338.37,350.94 338.42,351.19 338.47,350.23 338.52,350.96 338.57,349.86 338.63,350.38 338.69,349.37 338.74,350.14 338.8,349.35 338.86,349.61 338.92,348.77 338.97,349.2 339.03,348.5 339.09,348.94 339.15,348.23 339.2,348.63 339.26,347.75 339.32,348.11 339.38,347.11 339.43,347.59 339.49,346.85 339.55,347.29 339.61,346.36 339.66,346.9 339.72,345.59 339.78,346.52 339.84,345.65 339.89,346 339.95,345.4 340.01,345.71 340.07,344.97 340.13,345.2 340.19,344.59 340.26,345.18 340.33,344.28 340.4,344.54 340.47,343.78 340.53,344.31 340.6,343.24 340.67,343.65 340.74,343.01 340.8,343.29 340.87,342.67 340.94,342.81 341.01,342.17 341.08,342.61 341.14,341.82 341.21,342.13 341.28,341.41 341.35,341.8 341.41,341.06 341.48,341.41 341.55,340.72 341.62,340.92 341.68,340.16 341.75,340.54 341.82,339.8 341.89,340.32 341.92,339.43 341.95,340.1 341.98,339.05 342.01,339.43 342.04,338.68 342.07,339.09 342.1,338.39 342.13,338.98 342.16,338.01 342.19,338.24 342.22,337.44 342.25,337.86 342.28,337.06 342.31,337.72 342.34,336.72 342.37,337.19 342.4,336.46 342.43,336.75 342.46,335.92 342.49,336.52 342.52,335.65 342.55,335.84 342.58,335.19 342.61,335.46 342.64,334.85 342.67,334.99 342.7,334.44 342.73,334.66 342.76,333.91 342.78,334.29 342.81,333.47 342.84,333.92 342.87,333.17 342.9,333.53 342.93,332.66 342.96,333.12 342.99,332.49 343.02,332.95 343.05,332.11 343.08,332.38 343.11,331.63 343.14,331.94 343.17,331.29 343.2,331.61 343.23,330.66 343.26,331.4 343.29,330.16 343.32,330.78 343.35,330.24 343.38,330.51 343.41,329.77 343.43,330.02 343.45,329.33 343.47,329.8 343.48,328.98 343.5,329.42 343.52,328.57 343.54,328.76 343.56,328.08 343.58,328.69 343.6,327.56 343.62,328.03 343.64,327.16 343.66,327.66 343.68,326.95 343.7,327.2 343.72,326.23 343.74,326.63 343.76,325.84 343.78,326.34 343.8,325.53 343.82,325.83 343.84,325.18 343.86,325.77 343.88,324.42 343.9,325.56 343.92,324.41 343.94,324.76 343.96,323.84 343.98,324.47 344,323.56 344.02,323.95 344.04,323.34 344.06,323.56 344.08,322.93 344.1,323.26 344.12,322.53 344.14,322.8 344.16,322.19 344.18,322.5 344.2,321.7 344.22,322.15 344.24,321.37 344.26,321.81 344.28,320.92 344.3,321.55 344.32,320.72 344.34,320.87 344.36,320.12 344.38,320.62 344.4,319.62 344.42,320.33 344.44,319.33 344.45,319.77 344.47,319.03 344.49,319.24 344.51,318.62 344.53,318.81 344.54,318.19 344.56,318.5 344.58,317.83 344.6,318.19 344.62,317.36 344.63,317.7 344.65,316.72 344.67,317.37 344.69,316.56 344.71,316.88 344.72,316.09 344.74,316.65 344.76,315.73 344.78,316.03 344.79,315.09 344.81,315.77 344.83,314.72 344.85,315.21 344.87,314.52 344.88,314.92 344.9,314.1 344.92,314.42 344.94,313.68 344.96,314.23 344.97,313.33 344.99,313.71 345.01,312.95 345.03,313.32 345.05,312.4 345.06,312.74 345.08,312.06 345.1,312.45 345.12,311.73 345.14,312.08 345.15,311.22 345.17,311.64 345.19,310.85 345.21,311.54 345.22,310.26 345.24,310.66 345.26,309.87 345.28,310.3 345.3,309.62 345.31,309.91 345.33,309.05 345.34,309.53 345.35,308.91 345.37,309.9 345.38,308.6 345.4,309.01 345.41,308.12 345.42,308.47 345.44,307.76 345.45,308.17 345.47,307.41 345.48,307.72 345.49,306.66 345.51,307.31 345.52,306.65 345.53,307.08 345.55,306.31 345.56,306.53 345.58,305.88 345.59,306.15 345.6,305.44 345.62,305.65 345.63,304.66 345.65,305.66 345.66,304.59 345.67,305.19 345.69,304.25 345.7,304.53 345.72,303.88 345.73,304.17 345.74,303.33 345.76,303.79 345.77,302.69 345.79,303.19 345.8,302.58 345.81,302.78 345.83,301.98 345.84,302.37 345.86,301.78 345.87,302.05 345.88,301.43 345.9,301.66 345.91,300.99 345.93,301.32 345.94,300.61 345.95,301.06 345.97,299.85 345.98,300.67 346,299.92 346.01,300.11 346.02,299.48 346.03,299.82 346.04,299.01 346.06,299.47 346.07,298.63 346.08,298.96 346.09,298.33 346.1,298.69 346.12,297.96 346.13,298.18 346.14,297.56 346.15,297.73 346.16,297.18 346.18,297.38 346.19,296.67 346.2,296.89 346.21,296.27 346.22,296.48 346.24,295.73 346.25,296.17 346.26,295.44 346.27,295.68 346.28,295.07 346.3,295.55 346.31,294.73 346.32,295.23 346.33,294.13 346.34,294.76 346.36,293.91 346.37,294.07 346.38,293.45 346.39,293.75 346.4,293.06 346.42,293.29 346.43,292.69 346.44,292.94 346.45,292.08 346.46,292.7 346.48,291.84 346.49,292.1 346.5,290.89 346.51,291.85 346.52,290.61 346.54,291.59 346.55,290.6 346.56,291.01 346.57,290.35 346.58,290.66 346.6,289.86 346.6,290.21 346.61,289.59 346.62,289.84 346.63,288.81 346.64,289.58 346.64,288.64 346.65,289.07 346.66,288.19 346.67,288.72 346.68,287.93 346.68,288.17 346.69,287.5 346.7,287.69 346.71,286.97 346.72,287.45 346.72,286.62 346.73,287.01 346.74,286.1 346.75,286.58 346.76,285.89 346.76,286.21 346.77,285.34 346.78,285.71 346.79,285.07 346.8,285.47 346.8,284.57 346.81,284.82 346.82,284.19 346.83,284.54 346.84,283.86 346.84,284.04 346.85,283.35 346.86,283.66 346.87,283 346.88,283.33 346.88,282.57 346.89,283.07 346.9,282.19 346.91,282.72 346.92,281.76 346.92,282.14 346.93,281.42 346.94,281.67 346.95,281.03 346.96,281.4 346.96,280.67 346.97,280.98 346.98,280.3 346.99,280.56 347,279.92 347,280.16 347.01,279.45 347.02,279.68 347.03,279.02 347.04,279.32 347.04,278.54 347.05,279 347.06,278.11 347.07,278.52 347.08,277.82 347.08,277.98 347.09,277.33 347.1,277.53 347.11,276.83 347.12,277.19 347.12,276.28 347.13,276.97 347.14,275.96 347.15,276.46 347.16,275.77 347.16,276.26 347.17,275.38 347.18,275.68 347.19,274.9 347.2,275.54 347.2,274.39 347.21,274.83 347.22,274.11 347.22,274.49 347.23,273.89 347.24,274.16 347.25,273.36 347.25,274.03 347.26,273.13 347.27,273.5 347.27,272.73 347.28,273.53 347.29,272.32 347.3,272.68 347.3,272.04 347.31,272.27 347.32,271.64 347.32,271.96 347.33,271.24 347.34,271.5 347.34,270.89 347.35,271.31 347.36,270.34 347.37,270.79 347.37,269.82 347.38,270.39 347.39,269.63 347.39,270.16 347.4,269.22 347.41,270.11 347.42,268.87 347.42,269.08 347.43,268.48 347.44,268.91 347.44,267.47 347.45,268.23 347.46,267.57 347.46,267.89 347.47,266.83 347.48,267.3 347.49,266.79 347.49,266.99 347.5,266.29 347.51,266.61 347.51,265.96 347.52,266.2 347.53,265.58 347.54,265.73 347.54,265.17 347.55,265.26 347.56,264.48 347.56,264.97 347.57,264.35 347.58,264.79 347.58,263.83 347.59,264.2 347.6,263.51 347.61,263.7 347.61,262.89 347.62,263.43 347.63,262.65 347.63,263.2 347.64,262.06 347.65,262.52 347.66,261.69 347.66,262.13 347.67,261.24 347.68,261.64 347.68,261.09 347.69,261.27 347.7,260.44 347.7,260.98 347.71,260.24 347.72,260.7 347.73,259.72 347.73,260.33 347.74,259.28 347.75,259.8 347.75,259.04 347.76,259.27 347.77,258.6 347.78,259.17 347.78,258.26 347.79,258.45 347.8,257.82 347.8,258.11 347.81,257.45 347.82,257.57 347.83,257.06 347.83,257.29 347.84,256.52 347.85,256.98 347.86,256.07 347.87,256.51 347.87,255.73 347.88,256.34 347.89,255.35 347.9,255.67 347.9,255.05 347.91,255.17 347.92,254.43 347.93,254.78 347.94,253.69 347.94,254.32 347.95,253.66 347.96,253.91 347.97,253.34 347.97,253.73 347.98,252.92 347.99,253.1 348,252.49 348.01,252.81 348.01,251.89 348.02,252.35 348.03,251.65 348.04,251.89 348.04,251.02 348.05,251.84 348.06,251.01 348.07,251.18 348.08,250.61 348.08,251.08 348.09,250.16 348.1,250.38 348.11,249.8 348.11,250.41 348.12,249.36 348.13,249.67 348.14,249.05 348.15,249.7 348.15,248.55 348.16,248.86 348.17,248.38 348.18,248.44 348.18,247.93 348.19,248.24 348.2,247.39 348.21,247.8 348.22,247.17 348.22,247.41 348.23,246.65 348.24,246.98 348.25,246.24 348.25,246.49 348.26,246.04 348.27,246.16 348.28,245.47 348.29,245.81 348.29,245.17 348.3,245.29 348.31,244.79 348.32,244.96 348.32,244.27 348.33,244.64 348.34,243.99 348.35,244.18 348.36,243.58 348.36,243.67 348.37,243.13 348.38,243.34 348.39,242.72 348.39,242.93 348.4,242.24 348.41,242.5 348.42,241.99 348.43,242.15 348.43,241.54 348.44,242.05 348.45,241.22 348.46,241.3 348.46,240.85 348.47,240.9 348.48,240.44 348.49,240.79 348.5,240.01 348.5,240.17 348.51,239.11 348.52,239.79 348.52,239.25 348.53,239.43 348.54,238.86 348.54,239.03 348.55,238.37 348.56,238.97 348.56,238.09 348.57,238.17 348.57,237.65 348.58,237.74 348.59,237 348.59,237.37 348.6,236.9 348.61,236.95 348.61,236.51 348.62,236.7 348.63,236 348.63,236.27 348.64,235.66 348.65,235.76 348.65,235.19 348.66,235.34 348.67,234.86 348.67,235.13 348.68,234.48 348.69,234.55 348.69,233.63 348.7,234.26 348.71,233.57 348.71,233.87 348.72,233.31 348.72,233.37 348.73,232.9 348.74,233.13 348.74,232.44 348.75,232.63 348.76,232.14 348.76,232.2 348.77,231.75 348.78,231.83 348.78,231.3 348.79,231.34 348.8,230.82 348.8,231.01 348.81,230.43 348.82,230.58 348.82,229.95 348.83,230.15 348.84,229.64 348.84,229.66 348.85,229.23 348.86,229.37 348.86,228.65 348.87,229.01 348.88,228.37 348.88,228.49 348.89,228.03 348.89,228.23 348.9,227.61 348.91,227.72 348.91,227.24 348.92,227.34 348.93,226.73 348.93,227.16 348.94,226.32 348.95,226.6 348.95,226.04 348.96,226.33 348.97,225.8 348.97,225.86 348.98,225.37 348.99,225.45 348.99,224.95 349,225.01 349.02,224.96 349.03,225.48 349.05,225.3 349.07,225.82 349.09,225.59 349.11,226.26 349.13,226.08 349.14,226.61 349.16,226.49 349.18,226.94 349.2,226.64 349.22,227.63 349.23,227.11 349.25,227.71 349.27,227.53 349.29,228.08 349.31,227.99 349.33,228.53 349.34,228.31 349.36,228.93 349.38,228.58 349.4,229.35 349.42,229.07 349.44,229.63 349.45,229.42 349.47,230.12 349.49,229.8 349.51,230.51 349.53,230.11 349.54,231.1 349.56,230.68 349.58,231.27 349.6,231.08 349.62,231.94 349.64,231.14 349.65,232.17 349.67,231.79 349.69,232.58 349.71,232.2 349.73,232.94 349.75,232.12 349.76,233.33 349.78,232.98 349.8,233.78 349.82,233.13 349.84,234.16 349.85,233.76 349.87,234.51 349.89,233.85 349.91,234.94 349.93,234.58 349.95,235.34 349.96,235 349.98,235.69 350,235.33 350.02,236.26 350.04,235.75 350.05,236.69 350.07,235.97 350.09,237.01 350.11,236.34 350.13,237.15 350.15,236.67 350.16,237.74 350.18,236.5 350.2,238.27 350.22,237.18 350.24,238.21 350.26,237.84 350.27,238.62 350.29,238.15 350.31,238.98 350.33,238.43 350.35,239.45 350.36,238.78 350.38,240.12 350.4,239.05 350.42,240.85 350.44,238.92 350.45,240.7 350.47,239.71 350.49,241.22 350.51,240.08 350.53,241.63 350.54,240.76 350.56,241.9 350.58,240.95 350.6,242.25 350.61,241.56 350.63,242.48 350.65,241.74 350.67,242.94 350.68,242.09 350.7,243.51 350.72,242.66 350.74,244.57 350.76,242.88 350.77,244.06 350.79,243.44 350.81,244.43 350.83,243.91 350.84,245.72 350.86,244.28 350.88,246.28 350.9,244.65 350.91,245.67 350.93,244.94 350.95,246.04 350.97,245.48 350.99,247.32 351,245.68 351.02,246.93 351.04,246.53 351.06,247.56 351.07,246.75 351.09,248.06 351.11,246.68 351.13,248.53 351.14,247.78 351.16,249.16 351.18,248.03 351.2,249.28 351.22,248.46 351.23,250.72 351.25,249.02 351.27,250.54 351.29,249.62 351.3,251.11 351.32,250.06 351.34,251.37 351.36,250.24 351.38,251.59 351.39,250.71 351.41,252.72 351.43,250.95 351.45,252.49 351.46,251.07 351.48,252.94 351.5,251.93 351.52,253.4 351.53,251.52 351.55,253.62 351.57,252.53 351.59,253.96 351.61,252.9 351.62,255.05 351.64,253.43 351.66,255.4 351.68,253.66 351.69,255.3 351.71,254.15 351.73,255.56 351.75,254.05 351.76,255.84 351.78,254.96 351.8,256.3 351.82,255.18 351.84,256.82 351.85,255.65 351.87,257 351.89,255.74 351.91,257.29 351.92,255.57 351.94,257.73 351.96,256.68 351.98,258.26 351.99,257.14 352.01,258.56 352.03,257.62 352.04,259.15 352.06,258.16 352.08,259.41 352.09,258.44 352.11,259.97 352.13,258.21 352.14,260.36 352.16,258.88 352.18,260.68 352.19,259.08 352.21,260.85 352.23,259.34 352.24,261.33 352.26,260.15 352.28,262.83 352.29,260.04 352.31,261.81 352.33,260.77 352.34,262.31 352.36,261.02 352.38,263.1 352.39,260.79 352.41,263.11 352.43,261.51 352.44,263.91 352.46,262.45 352.48,264.07 352.49,262.96 352.51,264.98 352.53,262.48 352.54,265.15 352.56,263.59 352.58,265.6 352.59,264.01 352.61,266.38 352.63,264.63 352.64,267.5 352.66,263.53 352.68,266.82 352.69,265.7 352.71,267.44 352.73,264.76 352.74,267.48 352.76,266.35 352.78,268.04 352.79,265.51 352.81,268.45 352.83,266.87 352.84,268.99 352.86,267.68 352.88,269.59 352.89,267.89 352.91,269.71 352.93,268.5 352.94,270.11 352.96,268.94 352.98,270.75 352.99,268.72 353.01,271.83 353.03,266.63 353.05,271.27 353.07,269.13 353.09,271.95 353.11,270.3 353.13,272.71 353.15,270.55 353.17,272.17 353.19,271.2 353.21,273.16 353.23,271.38 353.25,273.16 353.27,271.08 353.29,273.88 353.31,272.22 353.33,273.82 353.35,270.99 353.37,274.35 353.39,272.83 353.41,275.17 353.43,273.44 353.45,275.06 353.47,273.18 353.49,276.48 353.51,274.49 353.53,276.41 353.55,274.52 353.57,277.81 353.59,274.91 353.61,277.34 353.63,276 353.65,278.32 353.67,276.42 353.69,279.07 353.71,276.35 353.73,280.16 353.75,277.37 353.77,279.15 353.79,277.49 353.81,279.7 353.83,277.57 353.85,279.93 353.87,275.75 353.89,280.32 353.91,278.63 353.93,280.58 353.95,278.97 353.97,281.04 353.99,279.31 354,281.26 354.02,279.77 354.04,281.71 354.06,279.93 354.08,281.97 354.1,280.05 354.12,282.68 354.14,280.76 354.16,282.88 354.18,281.28 354.2,283.19 354.22,280.75 354.24,283.42 354.26,281.54 354.28,284.16 354.3,280.76 354.32,285.38 354.34,282.67 354.36,286.13 354.38,282.67 354.4,285.5 354.42,283.66 354.44,286.99 354.46,282.95 354.48,287.06 354.5,283.92 354.52,287.39 354.54,284.19 354.56,286.82 354.58,285.14 354.6,287.45 354.62,284.02 354.64,287.51 354.66,285.66 354.68,288.3 354.7,285.44 354.72,288.37 354.74,285.16 354.76,289.18 354.78,286.8 354.8,289.83 354.82,285.7 354.84,289.65 354.86,287.6 354.88,289.92 354.9,288.46 354.92,290.85 354.94,287.3 354.96,291.95 354.98,288.67 355,292.83 355.04,289.99 355.07,292.53 355.11,289.79 355.14,293.21 355.18,289.89 355.21,294.85 355.25,291.08 355.28,296.74 355.32,291.51 355.35,296.2 355.39,291.31 355.43,295.73 355.46,292.02 355.5,294.85 355.53,293.06 355.57,296.27 355.6,293.65 355.64,296.05 355.67,294.14 355.71,295.98 355.74,293.97 355.78,297.58 355.81,292.41 355.85,297.15 355.89,294.51 355.92,297.28 355.96,294.22 355.99,298.33 356.03,294.32 356.06,297.01 356.1,294.93 356.13,298.25 356.17,294.51 356.2,298.01 356.24,294.93 356.28,298.06 356.31,295.68 356.35,298.63 356.38,294.62 356.42,299.72 356.45,296.31 356.49,299.55 356.52,296.73 356.56,300.14 356.59,296.83 356.63,300.31 356.67,297.37 356.7,300.67 356.74,297.98 356.77,301.65 356.81,297.96 356.83,302.28 356.86,299.83 356.88,302.84 356.91,299.34 356.93,304.4 356.96,300.56 356.99,303.78 357.01,301.06 357.04,304.35 357.06,300.44 357.09,304.96 357.11,301.74 357.14,305.75 357.17,302.43 357.19,306.39 357.22,301.94 357.24,307.19 357.27,302.79 357.29,307.17 357.32,302.33 357.35,306.38 357.37,301.48 357.4,307.82 357.42,303.31 357.45,306.9 357.48,304.46 357.5,307.69 357.53,304.63 357.55,307.55 357.58,303.24 357.6,308.1 357.63,305.28 357.66,311.33 357.68,303.36 357.71,310.19 357.73,304.01 357.76,310.14 357.78,306.28 357.81,309.62 357.84,306.59 357.86,310.8 357.89,305.39 357.91,310.48 357.94,306.79 357.97,313 357.99,307.66" fill="none" stroke="#db4a8c" stroke-width="1.9" stroke-linejoin="round" clip-path="url(#cBR)" />
<rect x="328.6" y="205.4" width="207.8" height="157.1" fill="none" stroke="#666666" stroke-width="1.3"/>
<line x1="344.25" y1="362.5" x2="344.25" y2="361" stroke="#666666" stroke-width="1"/>
<line x1="365.6" y1="362.5" x2="365.6" y2="360.1" stroke="#666666" stroke-width="1"/>
<text x="365.3" y="372.5" font-size="8.4" font-weight="bold" text-anchor="middle" fill="#161616" >200</text>
<line x1="386.95" y1="362.5" x2="386.95" y2="361" stroke="#666666" stroke-width="1"/>
<line x1="408.3" y1="362.5" x2="408.3" y2="360.1" stroke="#666666" stroke-width="1"/>
<text x="408" y="372.5" font-size="8.4" font-weight="bold" text-anchor="middle" fill="#161616" >400</text>
<line x1="429.65" y1="362.5" x2="429.65" y2="361" stroke="#666666" stroke-width="1"/>
<line x1="451" y1="362.5" x2="451" y2="360.1" stroke="#666666" stroke-width="1"/>
<text x="450.7" y="372.5" font-size="8.4" font-weight="bold" text-anchor="middle" fill="#161616" >600</text>
<line x1="472.35" y1="362.5" x2="472.35" y2="361" stroke="#666666" stroke-width="1"/>
<line x1="493.7" y1="362.5" x2="493.7" y2="360.1" stroke="#666666" stroke-width="1"/>
<text x="493.4" y="372.5" font-size="8.4" font-weight="bold" text-anchor="middle" fill="#161616" >800</text>
<line x1="515.05" y1="362.5" x2="515.05" y2="361" stroke="#666666" stroke-width="1"/>
<line x1="536.4" y1="362.5" x2="536.4" y2="360.1" stroke="#666666" stroke-width="1"/>
<text x="536.1" y="372.5" font-size="8.4" font-weight="bold" text-anchor="middle" fill="#161616" >1000</text>
<text x="398.8" y="387.7" font-size="8.9" font-weight="bold" text-anchor="start" fill="#161616" letter-spacing="0.27" stroke="#161616" stroke-width="0.2">Raman shift (cm<tspan font-size="7.1" dy="-5.9">−1</tspan><tspan dy="5.9">)</tspan></text>
<text transform="translate(320.3,307.6) rotate(-90)" font-size="9.05" font-weight="bold" text-anchor="start" fill="#161616"  stroke="#161616" stroke-width="0.2">Intensity (a.u.)</text>
<line x1="329.7" y1="210.9" x2="347.5" y2="210.9" stroke="#db4a8c" stroke-width="1.6"/>
<text x="348.6" y="213.2" font-size="7.3" font-weight="bold" text-anchor="start" fill="#161616" letter-spacing="0.3" stroke="#161616" stroke-width="0.05">Cu<tspan font-size="4.6" dy="1.9">2</tspan><tspan dy="-1.9">Te NSs</tspan></text>
<text transform="translate(359,236.4) rotate(-90)" font-size="8.3" font-weight="bold" text-anchor="start" fill="#161616"  stroke="#161616" stroke-width="0.2">B<tspan font-size="8.1" dy="1.3">2g</tspan></text>
<defs><filter id="mot" x="0" y="0" width="100%" height="100%" color-interpolation-filters="sRGB"><feTurbulence type="fractalNoise" baseFrequency="0.22" numOctaves="2" seed="7" result="n"/><feColorMatrix in="n" type="matrix" values="0.5 0 0 0 0.72  0 0.25 0 0 0.8  0 0 0 0 0.05  0 0 0 0 1"/></filter><filter id="b06"><feGaussianBlur stdDeviation="0.6"/></filter><filter id="b08"><feGaussianBlur stdDeviation="0.75"/></filter><filter id="b1"><feGaussianBlur stdDeviation="1.1"/></filter><filter id="b3"><feGaussianBlur stdDeviation="3"/></filter><filter id="b5"><feGaussianBlur stdDeviation="5"/></filter><clipPath id="cI1"><rect x="459.8" y="14.6" width="73.8" height="65"/></clipPath><clipPath id="cI2"><rect x="457.3" y="206.4" width="79.1" height="64"/></clipPath></defs>
<g clip-path="url(#cI1)">
<rect x="459.8" y="14.6" width="73.8" height="65" fill="#f6ea0c"/>
<rect x="459.8" y="14.6" width="73.8" height="65" filter="url(#mot)" opacity="0.7"/>
<g filter="url(#b1)"><ellipse cx="518.8" cy="66.7" rx="1.5" ry="1.3" fill="#a89a20" opacity="0.47"/><ellipse cx="463.3" cy="18.1" rx="2.0" ry="1.6" fill="#98a030" opacity="0.54"/><ellipse cx="491.8" cy="77.3" rx="1.9" ry="1.8" fill="#8a8a20" opacity="0.61"/><ellipse cx="496.0" cy="58.3" rx="1.1" ry="1.5" fill="#a89a20" opacity="0.56"/><ellipse cx="524.2" cy="19.1" rx="1.7" ry="1.8" fill="#b88a18" opacity="0.54"/><ellipse cx="525.4" cy="70.8" rx="1.0" ry="1.6" fill="#98a030" opacity="0.45"/><ellipse cx="474.8" cy="35.8" rx="1.8" ry="1.3" fill="#a89a20" opacity="0.51"/><ellipse cx="511.0" cy="43.7" rx="1.8" ry="1.2" fill="#b88a18" opacity="0.58"/><ellipse cx="518.4" cy="47.5" rx="1.5" ry="1.2" fill="#98a030" opacity="0.46"/><ellipse cx="528.1" cy="20.5" rx="1.8" ry="1.3" fill="#8a8a20" opacity="0.83"/><ellipse cx="489.2" cy="74.9" rx="1.6" ry="1.2" fill="#a89a20" opacity="0.75"/><ellipse cx="509.2" cy="58.8" rx="1.5" ry="1.2" fill="#b88a18" opacity="0.71"/><ellipse cx="467.8" cy="59.3" rx="1.6" ry="1.3" fill="#98a030" opacity="0.77"/><ellipse cx="474.2" cy="40.0" rx="1.8" ry="1.3" fill="#8a8a20" opacity="0.74"/><ellipse cx="504.7" cy="75.2" rx="2.0" ry="1.7" fill="#a89a20" opacity="0.77"/><ellipse cx="471.2" cy="60.6" rx="1.8" ry="1.4" fill="#b88a18" opacity="0.67"/><ellipse cx="495.0" cy="76.3" rx="1.3" ry="1.4" fill="#98a030" opacity="0.45"/><ellipse cx="528.3" cy="74.1" rx="1.3" ry="1.9" fill="#a89a20" opacity="0.53"/><ellipse cx="520.1" cy="25.1" rx="1.4" ry="1.1" fill="#b88a18" opacity="0.79"/><ellipse cx="520.5" cy="23.9" rx="1.5" ry="1.2" fill="#98a030" opacity="0.65"/><ellipse cx="500.4" cy="21.8" rx="1.9" ry="1.3" fill="#8a8a20" opacity="0.63"/><ellipse cx="464.2" cy="15.2" rx="1.2" ry="1.3" fill="#a89a20" opacity="0.82"/><ellipse cx="525.0" cy="45.8" rx="1.5" ry="1.6" fill="#b88a18" opacity="0.79"/><ellipse cx="484.6" cy="65.8" rx="1.4" ry="1.5" fill="#98a030" opacity="0.74"/><ellipse cx="496.6" cy="59.2" rx="1.7" ry="1.0" fill="#8a8a20" opacity="0.47"/><ellipse cx="470.9" cy="28.7" rx="1.2" ry="1.0" fill="#a89a20" opacity="0.54"/><ellipse cx="503.9" cy="71.7" rx="1.3" ry="1.3" fill="#b88a18" opacity="0.62"/><ellipse cx="509.7" cy="65.3" rx="1.9" ry="1.3" fill="#98a030" opacity="0.73"/><ellipse cx="484.9" cy="67.7" rx="1.2" ry="1.8" fill="#8a8a20" opacity="0.65"/><ellipse cx="513.0" cy="49.2" rx="1.3" ry="1.4" fill="#a89a20" opacity="0.47"/><ellipse cx="463.1" cy="48.9" rx="1.5" ry="1.7" fill="#b88a18" opacity="0.46"/><ellipse cx="503.7" cy="61.7" rx="1.5" ry="1.5" fill="#8a8a20" opacity="0.65"/><ellipse cx="504.9" cy="30.9" rx="1.6" ry="1.6" fill="#a89a20" opacity="0.53"/><ellipse cx="532.3" cy="62.8" rx="2.0" ry="1.3" fill="#b88a18" opacity="0.63"/><ellipse cx="479.1" cy="18.0" rx="1.0" ry="1.2" fill="#98a030" opacity="0.79"/><ellipse cx="471.9" cy="59.1" rx="1.2" ry="1.1" fill="#8a8a20" opacity="0.53"/><ellipse cx="509.5" cy="47.1" rx="1.5" ry="1.4" fill="#a89a20" opacity="0.56"/><ellipse cx="495.6" cy="74.0" rx="1.2" ry="1.7" fill="#b88a18" opacity="0.55"/><ellipse cx="474.1" cy="35.7" rx="1.1" ry="1.8" fill="#98a030" opacity="0.60"/><ellipse cx="472.8" cy="15.0" rx="1.1" ry="1.2" fill="#8a8a20" opacity="0.62"/><ellipse cx="503.9" cy="77.8" rx="1.9" ry="1.2" fill="#a89a20" opacity="0.69"/><ellipse cx="527.3" cy="21.5" rx="1.9" ry="1.4" fill="#b88a18" opacity="0.76"/><ellipse cx="483.5" cy="55.0" rx="1.5" ry="1.1" fill="#98a030" opacity="0.75"/><ellipse cx="520.1" cy="45.9" rx="1.4" ry="1.9" fill="#8a8a20" opacity="0.60"/><ellipse cx="524.2" cy="41.8" rx="1.4" ry="1.3" fill="#a89a20" opacity="0.47"/><ellipse cx="480.2" cy="29.7" rx="1.1" ry="1.5" fill="#b88a18" opacity="0.63"/><ellipse cx="461.8" cy="25.0" rx="1.9" ry="1.1" fill="#98a030" opacity="0.60"/><ellipse cx="529.4" cy="22.3" rx="1.4" ry="1.7" fill="#8a8a20" opacity="0.46"/><ellipse cx="465.0" cy="74.5" rx="1.7" ry="1.2" fill="#a89a20" opacity="0.64"/><ellipse cx="478.2" cy="72.1" rx="1.9" ry="1.1" fill="#b88a18" opacity="0.66"/><ellipse cx="473.4" cy="40.9" rx="1.7" ry="1.6" fill="#98a030" opacity="0.53"/><ellipse cx="484.3" cy="42.2" rx="1.4" ry="1.6" fill="#8a8a20" opacity="0.77"/><ellipse cx="484.5" cy="43.2" rx="1.1" ry="1.3" fill="#a89a20" opacity="0.83"/><ellipse cx="518.7" cy="31.6" rx="1.3" ry="1.8" fill="#8a8a20" opacity="0.65"/><ellipse cx="530.1" cy="23.9" rx="1.8" ry="1.4" fill="#a89a20" opacity="0.64"/><ellipse cx="524.3" cy="23.4" rx="1.5" ry="1.2" fill="#b88a18" opacity="0.59"/><ellipse cx="519.7" cy="40.5" rx="1.8" ry="1.0" fill="#98a030" opacity="0.85"/><ellipse cx="529.7" cy="58.4" rx="1.2" ry="1.6" fill="#8a8a20" opacity="0.53"/><ellipse cx="487.3" cy="17.2" rx="1.1" ry="1.1" fill="#a89a20" opacity="0.52"/><ellipse cx="521.2" cy="30.6" rx="1.8" ry="1.0" fill="#b88a18" opacity="0.47"/><ellipse cx="464.4" cy="74.6" rx="1.8" ry="1.0" fill="#98a030" opacity="0.82"/><ellipse cx="476.5" cy="31.9" rx="1.6" ry="1.2" fill="#8a8a20" opacity="0.84"/><ellipse cx="501.8" cy="33.0" rx="1.7" ry="1.9" fill="#b88a18" opacity="0.69"/><ellipse cx="466.1" cy="66.7" rx="1.7" ry="1.4" fill="#98a030" opacity="0.71"/><ellipse cx="479.1" cy="34.4" rx="1.5" ry="1.1" fill="#8a8a20" opacity="0.69"/><ellipse cx="473.3" cy="31.2" rx="1.9" ry="1.5" fill="#a89a20" opacity="0.55"/><ellipse cx="511.0" cy="78.8" rx="1.9" ry="1.7" fill="#b88a18" opacity="0.58"/><ellipse cx="466.5" cy="59.3" rx="1.5" ry="1.5" fill="#8a8a20" opacity="0.74"/><ellipse cx="465.7" cy="28.6" rx="2.0" ry="1.3" fill="#a89a20" opacity="0.55"/><ellipse cx="465.2" cy="35.0" rx="1.6" ry="1.0" fill="#b88a18" opacity="0.57"/><ellipse cx="478.7" cy="24.9" rx="1.8" ry="1.9" fill="#98a030" opacity="0.82"/><ellipse cx="492.2" cy="19.2" rx="1.3" ry="1.5" fill="#8a8a20" opacity="0.60"/><ellipse cx="513.4" cy="62.6" rx="1.9" ry="1.4" fill="#a89a20" opacity="0.55"/><ellipse cx="526.5" cy="71.6" rx="1.1" ry="1.2" fill="#b88a18" opacity="0.71"/><ellipse cx="519.9" cy="76.5" rx="1.0" ry="1.2" fill="#98a030" opacity="0.62"/><ellipse cx="500.2" cy="64.8" rx="1.6" ry="1.5" fill="#8a8a20" opacity="0.55"/><ellipse cx="507.5" cy="52.3" rx="1.9" ry="1.2" fill="#a89a20" opacity="0.50"/><ellipse cx="485.8" cy="35.8" rx="1.5" ry="1.2" fill="#b88a18" opacity="0.73"/><ellipse cx="520.1" cy="15.4" rx="1.9" ry="1.1" fill="#98a030" opacity="0.57"/><ellipse cx="475.7" cy="61.7" rx="1.8" ry="1.2" fill="#a89a20" opacity="0.52"/><ellipse cx="497.9" cy="24.5" rx="1.9" ry="1.8" fill="#b88a18" opacity="0.78"/><ellipse cx="490.0" cy="65.4" rx="1.4" ry="1.4" fill="#98a030" opacity="0.49"/><ellipse cx="462.7" cy="57.9" rx="1.2" ry="1.9" fill="#8a8a20" opacity="0.68"/><ellipse cx="502.1" cy="72.2" rx="1.3" ry="1.0" fill="#a89a20" opacity="0.54"/><ellipse cx="493.4" cy="24.7" rx="1.3" ry="1.7" fill="#b88a18" opacity="0.60"/><ellipse cx="484.9" cy="29.9" rx="1.5" ry="1.9" fill="#98a030" opacity="0.52"/></g>
<line x1="462.8" y1="25" x2="467" y2="18" stroke="#7a8a20" stroke-width="2.2" filter="url(#b06)" opacity="0.8"/>
<g filter="url(#b08)">
<polygon points="488.4,56.8 502.6,28.0 508.6,31.4 494.6,57.8" fill="#c9c23c"/>
<line x1="489.6" y1="57" x2="503.6" y2="28.9" stroke="#2a3a0c" stroke-width="2.2" stroke-linecap="round"/>
<line x1="493.9" y1="55.6" x2="507.3" y2="31.6" stroke="#5e3606" stroke-width="2.0" stroke-linecap="round"/>
<line x1="492.6" y1="55.4" x2="505.9" y2="30.8" stroke="#d8841c" stroke-width="1.1" opacity="0.8"/>
<line x1="490.9" y1="55.0" x2="504.1" y2="30.3" stroke="#9ab030" stroke-width="1.0" opacity="0.7"/>
</g>
<ellipse cx="497.4" cy="46.6" rx="11.8" ry="11.6" fill="none" stroke="#26260c" stroke-width="0.85" stroke-dasharray="5 1.2" opacity="0.9"/>
</g>
<text x="513.6" y="69.4" font-size="8.4" font-weight="bold" fill="#111">2 μm</text>
<rect x="512.2" y="73.3" width="20" height="3" fill="#0a0a0a"/>
<g clip-path="url(#cI2)">
<rect x="457.3" y="206.4" width="79.1" height="64" fill="#221e06"/>
<g filter="url(#b3)">
<path d="M440,195 L517,195 Q522,205 521,228 Q520,248 507,258 Q494,266 484,280 L440,280 Z" fill="#9a9a2c"/>
</g>
<g filter="url(#b3)">
<path d="M482,204 L514,204 Q519,215 518,232 Q516,248 505,254 Q494,258 488,256 Q481,245 483,228 Z" fill="#d6d83c"/>
<ellipse cx="466" cy="262" rx="10" ry="7" fill="#b0b232"/>
<path d="M466,208 L473,208 L495,256 L488,259 Z" fill="#6e681c" opacity="0.45"/>
</g>
<defs><linearGradient id="gtop" x1="0" y1="0" x2="0" y2="1"><stop offset="0" stop-color="#2a1e06" stop-opacity="0.95"/><stop offset="1" stop-color="#5a4a10" stop-opacity="0"/></linearGradient><linearGradient id="gtopx" x1="0" y1="0" x2="1" y2="0"><stop offset="0" stop-color="#fff"/><stop offset="0.6" stop-color="#fff"/><stop offset="1" stop-color="#000"/></linearGradient><mask id="mtop"><rect x="457" y="200" width="48" height="20" fill="url(#gtopx)"/></mask></defs>
<rect x="457" y="206" width="48" height="11" fill="url(#gtop)" mask="url(#mtop)"/>
<g filter="url(#b3)">
<ellipse cx="503" cy="219" rx="8" ry="9" fill="#f0f04a" opacity="0.8"/>
<ellipse cx="497" cy="240" rx="7" ry="7" fill="#d2e244" opacity="0.6"/>
</g>
<g filter="url(#b1)">
<ellipse cx="459" cy="207" rx="6" ry="3" fill="#3a2a08"/>
</g>
</g>
<text x="461.8" y="255.4" font-size="8.2" font-weight="bold" fill="#151500">2 μm</text>
<rect x="460.6" y="259.3" width="20.1" height="2.7" fill="#0a0a0a"/>
</svg>
</body></html>
